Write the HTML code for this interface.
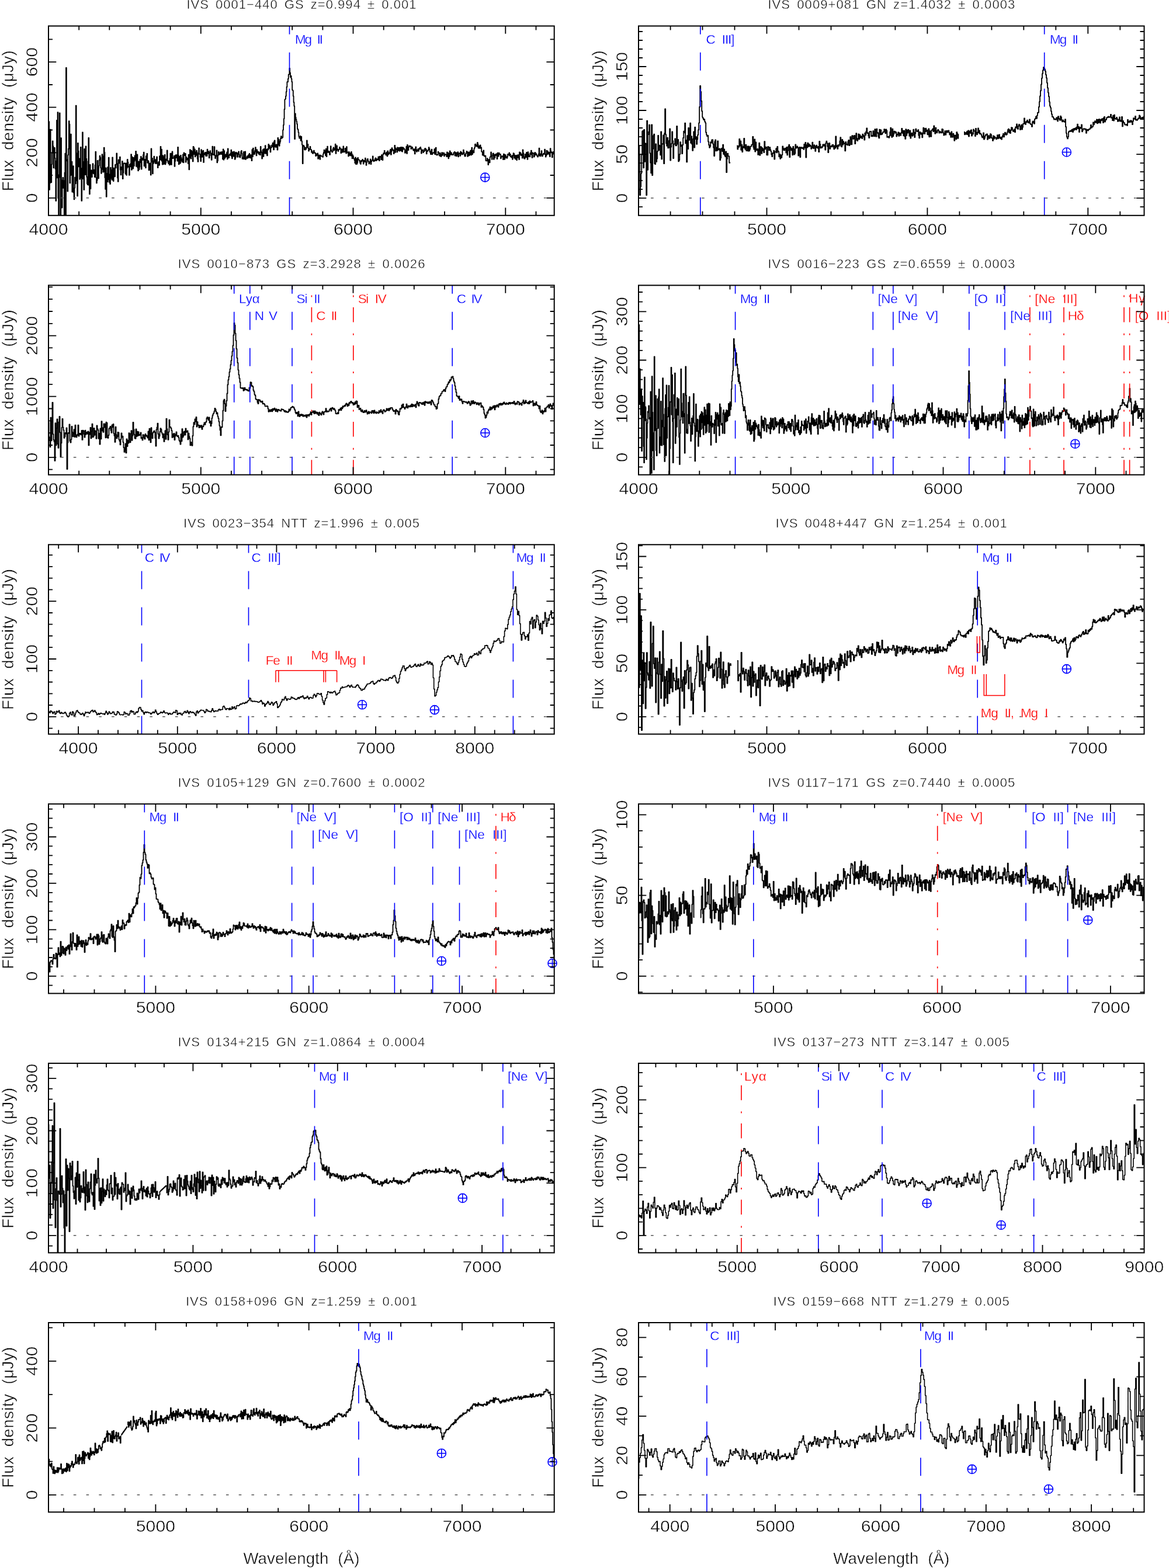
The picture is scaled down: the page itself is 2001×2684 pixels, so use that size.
<!DOCTYPE html>
<html><head><meta charset="utf-8"><title>Spectra</title><style>html,body{margin:0;padding:0;background:#fff;overflow:hidden}svg{display:block}text{stroke:#fff;stroke-width:0.5px}text.lb{stroke-width:0.3px}</style></head><body>
<svg width="2001" height="2684" viewBox="0 0 2001 2684" font-family="'Liberation Sans', 'DejaVu Sans', sans-serif">
<clipPath id="c0"><rect x="83" y="44.5" width="865.7" height="324.3"/></clipPath>
<g clip-path="url(#c0)" fill="none" stroke="#000" stroke-width="1.85" stroke-linejoin="round">
<path d="M82.6 298.4h0.8V208.1h0.8V324.7h0.8V313.5h0.8V221.6h0.8V297.9h0.8V312.3h0.8V281.3h0.8V261.5h0.8V241.4h0.8V250.1h0.8V287.4h0.8V266.3h0.8V252.8h0.8V270.6h0.8V288.9h0.8V343.9h0.8V275.4h0.8V205.9h0.8V304.4h0.8V192.2h0.8V339.2h0.8V381h0.8V299.1h0.8V193.4h0.8V303.4h0.8V422.4h0.8V236.2h0.8V320.3h0.8V355.5h0.8V308.3h0.8V304h0.8V321.7h0.8V309.2h0.8V383.7h0.8V295.3h0.8V262.6h0.8V369.9h0.8V116h0.8V275.2h0.8V273.5h0.8V327.5h0.8V265.2h0.8V254.5h0.8V207.2h0.8V212.6h0.8V313.4h0.8V254.6h0.8V229.6h0.8V299.9h0.8V276.6h0.8V328.5h0.8V292.6h0.8V284.2h0.8V329.8h0.8V341.2h0.8V321.6h0.8V303.6h0.8V314.2h0.8V180.7h0.8V262.1h0.8V309.2h0.8V335.6h0.8V245h0.8V258.4h0.8V285.4h0.8V271.4h0.8V306.7h0.8V289.3h0.8V251.8h0.8V304.2h0.8V343.8h0.8V287.9h0.8V226.4h0.8V306h0.8V277h0.8V324.9h0.8V254.9h0.8V263.9h0.8V299.1h0.8V250.3h0.8V271.6h0.8V302.7h0.8V314.3h0.8V316.2h0.8V276h0.8V236h0.8V317.1h0.8V332.2h0.8V281.9h0.8V323h0.8V297.5h0.8V291.5h0.8V303h0.8V292.6h0.8V280.2h0.8V296.3h0.8V297.4h0.8V290.6h0.8V303.1h0.8V282.3h0.8V259.7h0.8V303.8h0.8V313.4h0.8V308.8h0.8V274.8h0.8V297h0.8V305.3h0.8V283.8h0.8V273.7h0.8V266.7h0.8V269.7h0.8V287.3h0.8V296.8h0.8V289.7h0.8V264.1h0.8V267.2h0.8V294.5h0.8V294h0.8V252.7h0.8V260.6h0.8V304.1h0.8V323.8h0.8V287.5h0.8V336.8h0.8V296.8h0.8V311.3h0.8V286.1h0.8V307.4h0.8V269.7h0.8V311.9h0.8V298.4h0.8V315h0.8V286.8h0.8V290.6h0.8V305h0.8V307.8h0.8V269.5h0.8V293.8h0.8V310h0.8V287.7h0.8V289.6h0.8V302.2h0.8V281.8h0.8V287.4h0.8V281.2h0.8V262.5h0.8V279.9h0.8V304.5h0.8V310.9h0.8V273.5h0.8V274.1h0.8V279.4h0.8V268.6h0.8V290.6h0.8V299.4h0.8V285.8h0.8V290.2h0.8V275.9h0.8V306.1h0.8V295.8h0.8V279.9h0.8V279.2h0.8V279.5h0.8V280h0.8V297.7h0.8V279.5h0.8V299.8h0.8V287.8h0.8V273h0.8V277.5h0.8V285.7h0.8V284.8h0.8V299.8h0.8V281.5h0.8V285.3h0.8V280h0.8V264.1h0.8V290.7h0.8V268.4h0.8V287h0.8V288.6h0.8V270h0.8V284h0.8V275.9h0.8V266.5h0.8V273.8h0.8V258.8h0.8V284.7h0.8V264.9h0.8V264.3h0.8V287h0.8V292.3h0.8V276.3h0.8V290.1h0.8V285.8h0.8V272.8h0.8V278.2h0.8V268h0.8V289.5h0.8V274h0.8V270.7h0.8V273.7h0.8V264.9h0.8V260.7h0.8V284.2h0.8V272.8h0.8V279.7h0.8V287.3h0.8V267.2h0.8V274.1h0.8V262.8h0.8V278.8h0.8V274.8h0.8V276.1h0.8V291.4h0.8V290.9h0.8V279.7h0.8V279.4h0.8V299.6h0.8V254.4h0.8V276.7h0.8V270.8h0.8V297.2h0.8V275.3h0.8V279.5h0.8V267.7h0.8V276.6h0.8V273.5h0.8V279.4h0.8V280h0.8V272.1h0.8V268.5h0.8V279.6h0.8V287h0.8V278.8h0.8V276.9h0.8V282.7h0.8V267.2h0.8V273.1h0.8V250.9h0.8V274h0.8V255.6h0.8V276.1h0.8V281.5h0.8V266.1h0.8V281.1h0.8V280.4h0.8V268.2h0.8V264.8h0.8V281.4h0.8V278.8h0.8V272.4h0.8V274.3h0.8V257.5h0.8V275.2h0.8V277.9h0.8V280h0.8V275.4h0.8V282.4h0.8V271.2h0.8V262.7h0.8V281.4h0.8V281.9h0.8V262.3h0.8V259.5h0.8V271h0.8V270.5h0.8V270.4h0.8V266.8h0.8V284.7h0.8V275.9h0.8V265.3h0.8V270h0.8V265.1h0.8V269.4h0.8V275.6h0.8V251.9h0.8V265.7h0.8V281.3h0.8V277.4h0.8V267.9h0.8V279.6h0.8V265.9h0.8V269.7h0.8V274.7h0.8V277.3h0.8V272.1h0.8V264.3h0.8V278.3h0.8V261.4h0.8V266h0.8V263.6h0.8V262.8h0.8V277.5h0.8V269h0.8V273.5h0.8V270.8h0.8V271h0.8V279.9h0.8V264.7h0.8V290.3h0.8V269.8h0.8V256.1h0.8V260.4h0.8V271.6h0.8V257.7h0.8V259.5h0.8V266.7h0.8V276.4h0.8V251h0.8V252.1h0.8V264h0.8V255.3h0.8V268.3h0.8V260.4h0.8V265.8h0.8V257.7h0.8V260.8h0.8V271.9h0.8V276.7h0.8V263.2h0.8V253.5h0.8V263.5h0.8V263.8h0.8V268.9h0.8V276h0.8V256.2h0.8V268.7h0.8V259.2h0.8V268.6h0.8V257.7h0.8V277.9h0.8V262.9h0.8V264.5h0.8V260.8h0.8V261.3h0.8V267h0.8V260.7h0.8V266.9h0.8V255.6h0.8V263h0.8V259h0.8V260.6h0.8V270.3h0.8V261h0.8V258.1h0.8V261.6h0.8V266.3h0.8V273.7h0.8V262.9h0.8V250.7h0.8V264.7h0.8V263.9h0.8V265.2h0.8V251.2h0.8V265.7h0.8V271h0.8V267.4h0.8V266.1h0.8V257.3h0.8V278.2h0.8V275.2h0.8V265.7h0.8V260h0.8V262h0.8V264.5h0.8V262.5h0.8V260.3h0.8V263.9h0.8V262.4h0.8V259.9h0.8V264.4h0.8V272.4h0.8V255.3h0.8V273.6h0.8V258.2h0.8V271.1h0.8V269.4h0.8V264.7h0.8V268.4h0.8V263.2h0.8V260.4h0.8V272.3h0.8V254.5h0.8V265.9h0.8V270.1h0.8V265.5h0.8V263.9h0.8V265.8h0.8V262.2h0.8V256.7h0.8V267.8h0.8V271.2h0.8V260.1h0.8V265.3h0.8V267.6h0.8V259.4h0.8V261.7h0.8V272.7h0.8V270.4h0.8V260.6h0.8V263.3h0.8V261.6h0.8V268.3h0.8V268.7h0.8V261.8h0.8V259.4h0.8V264h0.8V268.4h0.8V269.6h0.8V266.6h0.8V259.6h0.8V257.9h0.8V262.6h0.8V271.7h0.8V269.7h0.8V272.1h0.8V259.9h0.8V272.1h0.8V268.3h0.8V259.5h0.8V272.9h0.8V271h0.8V270h0.8V267.3h0.8V270.7h0.8V267h0.8V265.2h0.8V269.5h0.8V262.9h0.8V266.2h0.8V270.4h0.8V265.1h0.8V267.1h0.8V275.1h0.8V256.1h0.8V268.1h0.8V253.6h0.8V260.1h0.8V264.1h0.8V263.5h0.8V257.7h0.8V252.1h0.8V259.8h0.8V266.2h0.8V256.3h0.8V258.8h0.8V261.5h0.8V259.6h0.8V263.5h0.8V264.1h0.8V260.7h0.8V265.3h0.8V251h0.8V258.2h0.8V261h0.8V271.6h0.8V262.2h0.8V256.1h0.8V267.9h0.8V255h0.8V262.5h0.8V261h0.8V249.2h0.8V262.8h0.8V256.7h0.8V255.6h0.8V266.3h0.8V255h0.8V256.3h0.8V247h0.8V249.1h0.8V253.9h0.8V249.4h0.8V260.2h0.8V252.9h0.8V252.4h0.8V248.4h0.8V250.5h0.8V244.6h0.8V251.5h0.8V256.3h0.8V242.1h0.8V240.5h0.8V251h0.8V251.9h0.8V247.7h0.8V247.4h0.8V252h0.8V256.5h0.8V236h0.8V247.9h0.8V238.9h0.8V249.8h0.8V245h0.8V241.9h0.8V236.3h0.8V233.1h0.8V236.9h0.8V235.1h0.8V235.2h0.8V222.4h0.8V214h0.8V203.1h0.8V187h0.8V170.3h0.8V169.3h0.8V164.5h0.8V156.9h0.8V148.7h0.8V140.2h0.8V140.2h0.8V134.7h0.8V127.6h0.8V127h0.8V117h0.8V124.3h0.8V132.1h0.8V129.8h0.8V134.7h0.8V139.9h0.8V153.9h0.8V154.8h0.8V164.4h0.8V175h0.8V181.5h0.8V238h0.8V194.3h0.8V200.8h0.8V204.5h0.8V207.8h0.8V212.2h0.8V220.3h0.8V222h0.8V226.4h0.8V233.6h0.8V236.5h0.8V235.1h0.8V232.8h0.8V240.8h0.8V233.8h0.8V241.5h0.8V247.8h0.8V280h0.8V250.1h0.8V248.8h0.8V250.6h0.8V256.1h0.8V256.5h0.8V252.6h0.8V255.4h0.8V252.5h0.8V240.3h0.8V252.1h0.8V247h0.8V253.7h0.8V258.5h0.8V254.9h0.8V255.9h0.8V251h0.8V255.8h0.8V256h0.8V260.6h0.8V258.5h0.8V262.3h0.8V262.8h0.8V260.9h0.8V257.6h0.8V260.7h0.8V262.3h0.8V262h0.8V267h0.8V263.4h0.8V265.8h0.8V263.1h0.8V262.5h0.8V271.7h0.8V270.3h0.8V265.5h0.8V270.2h0.8V272.8h0.8V265.6h0.8V267.1h0.8V267h0.8V267.6h0.8V267.6h0.8V268.7h0.8V263.7h0.8V260.8h0.8V256.7h0.8V261.9h0.8V258h0.8V266h0.8V254.7h0.8V268.1h0.8V258.9h0.8V250.7h0.8V260.9h0.8V258.6h0.8V260.1h0.8V261.3h0.8V264.9h0.8V258.7h0.8V250.1h0.8V256.4h0.8V258.6h0.8V260.6h0.8V259.3h0.8V254.7h0.8V252.4h0.8V257.4h0.8V256.3h0.8V254.2h0.8V246.7h0.8V262.7h0.8V257.9h0.8V249.5h0.8V254.8h0.8V256.4h0.8V258.9h0.8V255.9h0.8V255.9h0.8V252h0.8V254.1h0.8V254.5h0.8V262h0.8V255.1h0.8V260.9h0.8V260.2h0.8V255.1h0.8V250.4h0.8V260.2h0.8V259.8h0.8V259.7h0.8V253.8h0.8V260.2h0.8V262.5h0.8V251.1h0.8V259.3h0.8V261.4h0.8V261.6h0.8V267.4h0.8V260h0.8V265.9h0.8V262.1h0.8V265.2h0.8V266.5h0.8V259.8h0.8V263.2h0.8V271.3h0.8V265.5h0.8V267.4h0.8V271h0.8V271.8h0.8V274.2h0.8V279.1h0.8V269.5h0.8V281h0.8V272h0.8V280.8h0.8V278.2h0.8V269.9h0.8V273h0.8V273.3h0.8V273.9h0.8V276h0.8V279.1h0.8V280.8h0.8V274.8h0.8V276.6h0.8V275.1h0.8V272.8h0.8V274.9h0.8V280.5h0.8V274.7h0.8V277.1h0.8V276.2h0.8V270.7h0.8V277.2h0.8V282.7h0.8V277.9h0.8V273.4h0.8V271.9h0.8V275.1h0.8V277h0.8V280.4h0.8V277.1h0.8V277.5h0.8V272.4h0.8V281h0.8V276.6h0.8V275.1h0.8V274h0.8V267.4h0.8V273.6h0.8V276.3h0.8V275.6h0.8V274.7h0.8V271.9h0.8V270.3h0.8V275.1h0.8V274.5h0.8V272.1h0.8V272.4h0.8V273.2h0.8V268.3h0.8V272.9h0.8V275.1h0.8V267.6h0.8V268.9h0.8V267.8h0.8V273h0.8V265.2h0.8V267.1h0.8V274h0.8V264.4h0.8V262.1h0.8V263.4h0.8V257.8h0.8V262.2h0.8V262.4h0.8V265.3h0.8V261.4h0.8V260.4h0.8V267.4h0.8V258.5h0.8V264.6h0.8V261.4h0.8V263.4h0.8V261.5h0.8V257.8h0.8V255.6h0.8V264.7h0.8V259.3h0.8V253.1h0.8V255.5h0.8V257.1h0.8V256.9h0.8V263h0.8V259h0.8V248.8h0.8V260.9h0.8V253.4h0.8V255.2h0.8V256.1h0.8V260.4h0.8V252.3h0.8V254h0.8V257.6h0.8V252.9h0.8V258.5h0.8V256.8h0.8V252.2h0.8V257.3h0.8V258.4h0.8V251.8h0.8V259.5h0.8V256.8h0.8V252.5h0.8V253.6h0.8V255h0.8V255.3h0.8V261.8h0.8V260.5h0.8V257.2h0.8V251h0.8V262.9h0.8V247.8h0.8V254.4h0.8V257.1h0.8V251.7h0.8V249.6h0.8V250.4h0.8V250.5h0.8V250.2h0.8V254.9h0.8V251.9h0.8V251.6h0.8V253.4h0.8V255.6h0.8V257.6h0.8V257.7h0.8V255.2h0.8V263.4h0.8V257.6h0.8V251.4h0.8V256h0.8V259.8h0.8V257.9h0.8V257h0.8V255h0.8V258.8h0.8V255.6h0.8V253.4h0.8V255.1h0.8V252h0.8V254.6h0.8V262.6h0.8V257.7h0.8V257.1h0.8V256.5h0.8V261.1h0.8V258.6h0.8V259h0.8V255.2h0.8V253.9h0.8V257.2h0.8V255.3h0.8V263.2h0.8V258.5h0.8V258.9h0.8V257.3h0.8V256.2h0.8V252.1h0.8V254.7h0.8V259.4h0.8V260.8h0.8V264h0.8V258h0.8V255.7h0.8V264.3h0.8V262.2h0.8V261.5h0.8V261.7h0.8V260.8h0.8V255.2h0.8V264.1h0.8V254.5h0.8V252.7h0.8V264.9h0.8V265.3h0.8V264.8h0.8V265h0.8V259.6h0.8V261.8h0.8V262h0.8V266.8h0.8V261.9h0.8V265.3h0.8V268.1h0.8V264.5h0.8V261.1h0.8V265.9h0.8V261.7h0.8V263.6h0.8V261.7h0.8V267.2h0.8V264.1h0.8V264h0.8V264.9h0.8V264.9h0.8V268.1h0.8V260.3h0.8V267.8h0.8V261.7h0.8V271.3h0.8V262.2h0.8V267.7h0.8V258.3h0.8V260.6h0.8V264.8h0.8V261.5h0.8V263.8h0.8V265.1h0.8V264.9h0.8V264.9h0.8V261.8h0.8V260.8h0.8V259.8h0.8V266.6h0.8V261.4h0.8V261.1h0.8V267.2h0.8V265h0.8V261.6h0.8V260.1h0.8V268.3h0.8V262.9h0.8V262.3h0.8V262.2h0.8V266.9h0.8V259.5h0.8V263.2h0.8V261h0.8V264.5h0.8V263.8h0.8V262.8h0.8V256.6h0.8V260.6h0.8V264.9h0.8V267.5h0.8V267.3h0.8V263.1h0.8V261.6h0.8V258.9h0.8V261h0.8V267.8h0.8V260.4h0.8V263.1h0.8V266.3h0.8V260.4h0.8V265.2h0.8V257.9h0.8V257.5h0.8V265.3h0.8V252.7h0.8V264.1h0.8V258.8h0.8V257.8h0.8V261.3h0.8V254.6h0.8V252.7h0.8V246.9h0.8V246.7h0.8V250h0.8V249.2h0.8V250.8h0.8V244h0.8V247h0.8V253.5h0.8V250.1h0.8V250h0.8V253.9h0.8V248.5h0.8V253.3h0.8V252.3h0.8V259.4h0.8V260.1h0.8V265.6h0.8V259.8h0.8V257.3h0.8V266.8h0.8V266.4h0.8V267.9h0.8V266.7h0.8V274.7h0.8V275.4h0.8V275.2h0.8V271.1h0.8V273h0.8V282h0.8V275.9h0.8V273.1h0.8V278.2h0.8V269.2h0.8V267.6h0.8V260.4h0.8V266.9h0.8V272.8h0.8V266.3h0.8V262.8h0.8V262.5h0.8V272.8h0.8V264.6h0.8V269.9h0.8V266.2h0.8V264.1h0.8V263.5h0.8V265.9h0.8V272h0.8V261.7h0.8V266.5h0.8V267.5h0.8V261.6h0.8V264.4h0.8V264.1h0.8V263.8h0.8V271.3h0.8V269.1h0.8V267.1h0.8V268h0.8V267.2h0.8V273.1h0.8V263.6h0.8V263.9h0.8V272.8h0.8V270.5h0.8V265.1h0.8V267.6h0.8V268.9h0.8V270.7h0.8V268.5h0.8V264h0.8V265.3h0.8V263.3h0.8V261.4h0.8V266.6h0.8V264h0.8V268h0.8V268.7h0.8V269.6h0.8V266.1h0.8V272.8h0.8V266.5h0.8V262.2h0.8V263h0.8V270.4h0.8V266h0.8V272.4h0.8V266.3h0.8V266.1h0.8V274h0.8V265.6h0.8V269.8h0.8V265.2h0.8V266.7h0.8V273.1h0.8V260.3h0.8V264h0.8V261.4h0.8V266.1h0.8V264h0.8V265.9h0.8V270.6h0.8V256.4h0.8V261.9h0.8V268.6h0.8V271.4h0.8V271.8h0.8V263.9h0.8V269.3h0.8V267.9h0.8V261h0.8V269.2h0.8V272.8h0.8V260.2h0.8V263.4h0.8V268.1h0.8V266.7h0.8V268.3h0.8V261.8h0.8V264.4h0.8V257.6h0.8V263.1h0.8V269.9h0.8V261.5h0.8V262.3h0.8V262.3h0.8V268.5h0.8V266.9h0.8V261h0.8V264.7h0.8V262.4h0.8V264.1h0.8V265.5h0.8V267.2h0.8V268.6h0.8V266.8h0.8V263.3h0.8V253.7h0.8V265.9h0.8V267.4h0.8V263.5h0.8V264.7h0.8V258.2h0.8V267.3h0.8V267.2h0.8V264.7h0.8V262.9h0.8V262.7h0.8V263.7h0.8V255.6h0.8V264h0.8V268.5h0.8V266.3h0.8V257.7h0.8V264.4h0.8V258.7h0.8V262.2h0.8V263.4h0.8V260.6h0.8V264.9h0.8V268.1h0.8V254.2h0.8V258.4h0.8V261.1h0.8V260.7h0.8V269.4h0.8V263.7h0.8V259.9h0.8V259.9h0.8V263.6h0.8V262.4h0.8"/>
</g>
<line x1="82.3" y1="338.8" x2="934.7" y2="338.8" stroke="#555" stroke-width="1.5" stroke-dasharray="4.6 17.16"/>
<line x1="495.5" y1="368.8" x2="495.5" y2="44.5" stroke="#0000ff" stroke-width="1.6" stroke-dasharray="31 31"/>
<text class="lb" x="505" y="74.8" fill="#0000ff" font-size="22.5" word-spacing="7" textLength="48" lengthAdjust="spacing">Mg II</text>
<g stroke="#0000ff" stroke-width="1.6" fill="none"><circle cx="830.3" cy="303.6" r="7.5"/><line x1="822.8" y1="303.6" x2="837.8" y2="303.6"/><line x1="830.3" y1="296.1" x2="830.3" y2="311.1"/></g>
<path d="M135.2 368.8v-7M135.2 44.5v7M187.3 368.8v-7M187.3 44.5v7M239.5 368.8v-7M239.5 44.5v7M291.6 368.8v-7M291.6 44.5v7M343.8 368.8v-13.3M343.8 44.5v13.3M395.9 368.8v-7M395.9 44.5v7M448.1 368.8v-7M448.1 44.5v7M500.2 368.8v-7M500.2 44.5v7M552.4 368.8v-7M552.4 44.5v7M604.5 368.8v-13.3M604.5 44.5v13.3M656.7 368.8v-7M656.7 44.5v7M708.8 368.8v-7M708.8 44.5v7M761 368.8v-7M761 44.5v7M813.1 368.8v-7M813.1 44.5v7M865.3 368.8v-13.3M865.3 44.5v13.3M917.5 368.8v-7M917.5 44.5v7M83 338.8h13.3M948.7 338.8h-13.3M83 300h7M948.7 300h-7M83 261.3h13.3M948.7 261.3h-13.3M83 222.5h7M948.7 222.5h-7M83 183.7h13.3M948.7 183.7h-13.3M83 145h7M948.7 145h-7M83 106.2h13.3M948.7 106.2h-13.3M83 67.4h7M948.7 67.4h-7" stroke="#000" stroke-width="1.8" fill="none"/>
<rect x="83" y="44.5" width="865.7" height="324.3" stroke="#000" stroke-width="2" fill="none"/>
<text x="83" y="402.1" font-size="27.6" text-anchor="middle" textLength="67.1" lengthAdjust="spacingAndGlyphs">4000</text>
<text x="343.8" y="402.1" font-size="27.6" text-anchor="middle" textLength="67.1" lengthAdjust="spacingAndGlyphs">5000</text>
<text x="604.5" y="402.1" font-size="27.6" text-anchor="middle" textLength="67.1" lengthAdjust="spacingAndGlyphs">6000</text>
<text x="865.3" y="402.1" font-size="27.6" text-anchor="middle" textLength="67.1" lengthAdjust="spacingAndGlyphs">7000</text>
<text transform="translate(64 338.8) rotate(-90)" font-size="27.6" text-anchor="middle" textLength="16.4" lengthAdjust="spacingAndGlyphs">0</text>
<text transform="translate(64 261.3) rotate(-90)" font-size="27.6" text-anchor="middle" textLength="50.2" lengthAdjust="spacingAndGlyphs">200</text>
<text transform="translate(64 183.7) rotate(-90)" font-size="27.6" text-anchor="middle" textLength="50.2" lengthAdjust="spacingAndGlyphs">400</text>
<text transform="translate(64 106.2) rotate(-90)" font-size="27.6" text-anchor="middle" textLength="50.2" lengthAdjust="spacingAndGlyphs">600</text>
<text transform="translate(23 206.7) rotate(-90)" font-size="27.6" text-anchor="middle" word-spacing="8" textLength="241" lengthAdjust="spacing">Flux density (μJy)</text>
<text x="515.9" y="15.3" font-size="22" word-spacing="4" text-anchor="middle" textLength="393" lengthAdjust="spacing">IVS 0001−440 GS z=0.994 ± 0.001</text>
<clipPath id="c1"><rect x="1093" y="44.5" width="865.5" height="324.3"/></clipPath>
<g clip-path="url(#c1)" fill="none" stroke="#000" stroke-width="1.85" stroke-linejoin="round">
<path d="M1092.2 265.5h1V249.7h1V264.9h1V334h1V319.4h1V296.8h1V264.9h1V224.8h1V223.7h1V287.3h1V221.9h1V276.8h1V245.4h1V246.3h1V334h1V206.6h1V290.8h1V230.2h1V225.6h1V213.6h1V262.2h1V278.5h1V296.3h1V213.5h1V300.1h1V254.7h1V232.1h1V229.6h1V280h1V281h1V246.5h1V276.9h1V271.5h1V258.9h1V232h1V257.2h1V248.6h1V250.5h1V265.4h1V225.3h1V272.4h1V246.2h1V246.5h1V231.5h1V280h1V228.1h1V186.5h1V230.2h1V245.6h1V249.8h1V235.6h1V253.2h1V253.1h1V240.7h1V220.4h1V274.5h1V251.6h1V245.6h1V225.4h1V241.1h1V271.1h1V246.7h1V246.3h1V237.5h1V249.2h1V249.3h1V215.9h1V246.5h1V239h1V276.2h1V274h1V263.9h1V243.2h1V250.4h1V248.4h1V263h1V248h1V236h1V224.6h1V227.2h1V210.7h1V245.4h1V240.1h1V277.4h1V232.2h1V255.1h1V219h1V239.7h1V231.3h1V210.7h1V244.9h1V233.3h1V246.7h1V257.8h1V237.7h1V225.3h1V252.5h1V217.7h1V238h1V234.2h1V246.7h1V238.5h1V231h1V222.2h1V210.4h1V183h1V147h1V157h1V172.8h1V190.2h1V200.6h1V202.5h1V205.1h1V204.1h1V208.1h1V210.3h1V226.7h1V230.8h1V233.4h1V231.9h1V242.5h1V248.2h1V252.7h1V250.4h1V243.2h1V244.5h1V239.5h1V239.1h1V246.3h1V252.8h1V267.1h1V242.5h1V239.5h1V258.2h1V252.4h1V257.8h1V241.5h1V255.4h1V256.6h1V254.4h1V274.1h1V270.3h1V254.8h1V253.7h1V259h1V247.6h1V263.9h1V255.4h1V265.9h1V268h1V259.5h1V295h1V271.7h1V262.6h1V267.4h1V267.3h1V278.7h1V278.4h1"/>
<path d="M1261.3 249.4h1V255.4h1V249.8h1V251.7h1V237.8h1V249.5h1V241.5h1V256.7h1V247.7h1V260.1h1V251.2h1V252.9h1V237h1V252.7h1V255.6h1V247.6h1V258.1h1V257.9h1V250.5h1V258.6h1V250.3h1V258.2h1V255.2h1V250.9h1V250.5h1V247.7h1V247.5h1V233.8h1V251.8h1V255.5h1V238.5h1V259.6h1V243.5h1V255.9h1V257.3h1V254.8h1V264.9h1V257.2h1V244.6h1V265.7h1V251.2h1V251.2h1V262.7h1V253.2h1V257.8h1V255.2h1V261.1h1V242.1h1V255.3h1V251.7h1V251.9h1V265.2h1V265.4h1V251h1V252.2h1V257.2h1V252.1h1V256.2h1V259h1V264.5h1V268h1V262h1V262.2h1V257.6h1V272.5h1V260.2h1V259.9h1V254.2h1V261.4h1V250.8h1V258.4h1V259.7h1V268.2h1V263.9h1V271.7h1V265.4h1V269.7h1V265.1h1V250.4h1V254h1V257h1V257.3h1V253.7h1V253.8h1V261.6h1V252h1V265.4h1V257.8h1V250.7h1V247.6h1V269h1V251.4h1V253.5h1V257.2h1V254.3h1V265.3h1V250.9h1V254.9h1V264.5h1V262.6h1V247.5h1V253.5h1V252.4h1V250.4h1V253h1V266.5h1V253h1V251.9h1V269.1h1V252.3h1V252.2h1V254.1h1V253.9h1V252.3h1V255.7h1V246.8h1V252.7h1V244h1V269.5h1V248.1h1V252.5h1V244.6h1V250.9h1V246.7h1V250.5h1V248.3h1V249.7h1V254.8h1V253.4h1V243.7h1V251.9h1V254.1h1V248.2h1V249.8h1V258.8h1V252.3h1V248.7h1V252.7h1V253.5h1V251h1V260h1V241.9h1V247h1V253.4h1V251.5h1V252.9h1V251.2h1V247.4h1V249.5h1V247.1h1V250.1h1V256.5h1V244.9h1V241.6h1V244.9h1V250.7h1V261.1h1V245.4h1V245h1V254.8h1V251.1h1V249.8h1V251.3h1V247.9h1V247.6h1V251.6h1V255.3h1V249.4h1V253.5h1V233.4h1V251.4h1V249.5h1V254.8h1V248.1h1V250.2h1V248h1V241.4h1V235.2h1V250h1V251.3h1V238.9h1V247.8h1V242.2h1V245h1V245.9h1V258.2h1V243h1V246.3h1V247.5h1V248.4h1V242.5h1V240h1V249.1h1V247.8h1V234.1h1V238.6h1V247.3h1V232.2h1V232.3h1V237.9h1V237.4h1V232h1V246h1V239.9h1V228.1h1V237h1V241h1V237.8h1V229.3h1V238.3h1V230.6h1V235.7h1V233.1h1V235.4h1V237h1V229.6h1V232h1V234.2h1V239.5h1V227.7h1V231.2h1V225h1V219.4h1V228.1h1V227.4h1V232.5h1V236h1V225.1h1V225.3h1V225h1V233.2h1V231.8h1V233.4h1V224.2h1V230.2h1V233.2h1V221.1h1V230.8h1V233.7h1V220.6h1V227.7h1V227.1h1V233.9h1V236.4h1V221.6h1V230.3h1V222.5h1V230.2h1V229.8h1V227.8h1V225.8h1V226h1V221.1h1V222.3h1V228.2h1V221.4h1V223.4h1V234.9h1V233.9h1V233.9h1V235.8h1V232.6h1V225.8h1V218.7h1V232.1h1V234.9h1V220.7h1V233.2h1V229.5h1V224.6h1V224.8h1V227.6h1V226.2h1V233.6h1V230.9h1V229.3h1V226.3h1V232.9h1V227.7h1V229.7h1V231.7h1V227.3h1V219.8h1V227.8h1V223.6h1V232.2h1V223.6h1V233.5h1V237.7h1V221.2h1V231.7h1V223h1V227.6h1V221.9h1V224.6h1V232.7h1V223.3h1V236.6h1V230.3h1V227.7h1V232.8h1V231.4h1V221.6h1V226.4h1V235h1V228.4h1V220.7h1V224.5h1V224.4h1V225h1V222.2h1V231.8h1V236.3h1V225.9h1V227.8h1V229.7h1V227.3h1V235.2h1V229.1h1V218.6h1V219.9h1V229h1V225.2h1V219.6h1V224.8h1V222.7h1V230.1h1V230.6h1V220.4h1V234.3h1V224.1h1V232.9h1V233.7h1V223.1h1V222.3h1V220.5h1V225h1V215.5h1V223.8h1V228.8h1V218.6h1V224.3h1V227.3h1V223.8h1V221.8h1V223.8h1V227.6h1V225.1h1V225.3h1V227.4h1V227.4h1V220.9h1V221.4h1V227.3h1V231.6h1V228.8h1V224.1h1V230.7h1V226.5h1V223.7h1V226.5h1V225.5h1V223.5h1V226.7h1V230.5h1V227.9h1V234.7h1V225.3h1V234.4h1V234.8h1V228.6h1V231.5h1V240.7h1V231.6h1V231.7h1V238.3h1V226.1h1V228.8h1V236.7h1V230.3h1"/>
<path d="M1650 225.8h1V230.2h1V228.3h1V226.8h1V229.9h1V224.8h1V230.4h1V223.5h1V233.6h1V227.1h1V224.1h1V228h1V222.3h1V232.6h1V227.3h1V229.6h1V221.4h1V224.4h1V224.2h1V233.1h1V220h1V227.1h1V230.2h1V226.4h1V219.5h1V227.6h1V223.3h1V229.3h1V228.4h1V229.8h1V232.8h1V235.4h1V235.5h1V227.3h1V238.5h1V236.6h1V232.8h1V230.5h1V231.1h1V229.3h1V238.8h1V234.4h1V232.1h1V236.9h1V235.8h1V229.2h1V230.4h1V236.3h1V236.1h1V240.9h1V232.5h1V237.8h1V233.7h1V235.9h1V236h1V238.2h1V235.5h1V231.1h1V237.3h1V236.1h1V230.3h1V235.8h1V237h1V234.7h1V238.5h1V234.7h1V232.1h1V229h1V234.4h1V230.6h1V226.7h1V228.5h1V230.9h1V229.8h1V226.1h1V222.2h1V220.7h1V227h1V222.4h1V228h1V223.2h1V218.1h1V218.6h1V222.6h1V225h1V224.2h1V221.2h1V226.3h1V217.5h1V218.2h1V212.5h1V219.9h1V220.9h1V215.7h1V213h1V215.5h1V222h1V217.1h1V213.6h1V221.5h1V217.7h1V211.9h1V211.7h1V202.5h1V211.5h1V212.9h1V208.2h1V209.2h1V205.7h1V207.8h1V210.3h1V209.3h1V204.4h1V211.6h1V212.7h1V213.3h1V216.9h1V208.8h1V207.3h1V210.4h1V211.7h1V203.8h1V203h1V199.5h1V202.7h1V197.6h1V192.7h1V192.8h1V183h1V174.1h1V164.4h1V155.2h1V144.5h1V133.8h1V126.1h1V120.2h1V115.2h1V116.6h1V118.7h1V121.8h1V127.9h1V133.5h1V141.8h1V150.4h1V158.6h1V165.2h1V174.3h1V181.6h1V184.3h1V190.4h1V195.5h1V200.1h1V199.8h1V201.9h1V204.6h1V203.7h1V203.8h1V204.8h1V201.4h1V201.3h1V207.4h1V199.2h1V202.9h1V203.7h1V205.8h1V198.6h1V200.6h1V205.8h1V208.2h1V205.5h1V207.5h1V208.1h1V208.9h1V204.2h1V216.9h1V227.9h1V234.6h1V237.4h1V234.1h1V225.7h1V224.5h1V224.9h1V223.6h1V225h1V222.5h1V221.7h1V226.1h1V220.3h1V222.7h1V220h1V221.5h1V219h1V222h1V217.4h1V212.7h1V220.1h1V216.9h1V226.1h1V219.9h1V218h1V219.5h1V213.5h1V225.3h1V222.9h1V220.6h1V220.1h1V220.5h1V221.7h1V220.7h1V227.8h1V222.3h1V221.8h1V223.5h1V221.4h1V221.6h1V220.9h1V219h1V213.8h1V218.8h1V216.9h1V216.7h1V209.4h1V213.4h1V209.6h1V207.2h1V209.9h1V209.4h1V204.4h1V211.3h1V204.9h1V210h1V203.9h1V207.7h1V210.5h1V204.5h1V206.4h1V203.4h1V203.2h1V210h1V201.7h1V199.8h1V208.5h1V204.8h1V205.1h1V201.5h1V201.4h1V200.2h1V199.5h1V200.9h1V200.1h1V200.2h1V196h1V201.9h1V201.2h1V206h1V198h1V206.5h1V196.6h1V203.4h1V203h1V204.1h1V201h1V203.7h1V207.8h1V207.2h1V204.3h1V200.5h1V207.6h1V205.9h1V207.7h1V200h1V216.4h1V206.8h1V210h1V210.2h1V213.2h1V213.7h1V213.4h1V213h1V214.9h1V205h1V208.4h1V209.6h1V207.6h1V206.5h1V209.1h1V206.3h1V207.7h1V213h1V207.4h1V202.2h1V203.8h1V203.8h1V199h1V205.5h1V204.6h1V205.7h1V204.3h1V202.5h1V202.8h1V197.4h1V199.1h1V203h1V202h1V202.1h1V200.8h1V203.9h1V200.7h1V199.2h1V199.6h1"/>
</g>
<line x1="1092.3" y1="339.1" x2="1944.5" y2="339.1" stroke="#555" stroke-width="1.5" stroke-dasharray="4.6 17.16"/>
<line x1="1198.8" y1="368.8" x2="1198.8" y2="44.5" stroke="#0000ff" stroke-width="1.6" stroke-dasharray="31 31"/>
<line x1="1787.7" y1="368.8" x2="1787.7" y2="44.5" stroke="#0000ff" stroke-width="1.6" stroke-dasharray="31 31"/>
<text class="lb" x="1208.5" y="74.6" fill="#0000ff" font-size="22.5" word-spacing="7" textLength="49" lengthAdjust="spacing">C III]</text>
<text class="lb" x="1797" y="74.8" fill="#0000ff" font-size="22.5" word-spacing="7" textLength="49" lengthAdjust="spacing">Mg II</text>
<g stroke="#0000ff" stroke-width="1.6" fill="none"><circle cx="1825.8" cy="260.5" r="7.5"/><line x1="1818.3" y1="260.5" x2="1833.3" y2="260.5"/><line x1="1825.8" y1="253" x2="1825.8" y2="268"/></g>
<path d="M1147.6 368.8v-7M1147.6 44.5v7M1202.5 368.8v-7M1202.5 44.5v7M1257.5 368.8v-7M1257.5 44.5v7M1312.5 368.8v-13.3M1312.5 44.5v13.3M1367.5 368.8v-7M1367.5 44.5v7M1422.5 368.8v-7M1422.5 44.5v7M1477.4 368.8v-7M1477.4 44.5v7M1532.4 368.8v-7M1532.4 44.5v7M1587.4 368.8v-13.3M1587.4 44.5v13.3M1642.4 368.8v-7M1642.4 44.5v7M1697.4 368.8v-7M1697.4 44.5v7M1752.3 368.8v-7M1752.3 44.5v7M1807.3 368.8v-7M1807.3 44.5v7M1862.3 368.8v-13.3M1862.3 44.5v13.3M1917.3 368.8v-7M1917.3 44.5v7M1093 354.1h7M1958.5 354.1h-7M1093 339.1h13.3M1958.5 339.1h-13.3M1093 324.1h7M1958.5 324.1h-7M1093 309.1h7M1958.5 309.1h-7M1093 294.1h7M1958.5 294.1h-7M1093 279.1h7M1958.5 279.1h-7M1093 264.1h13.3M1958.5 264.1h-13.3M1093 249.1h7M1958.5 249.1h-7M1093 234.1h7M1958.5 234.1h-7M1093 219h7M1958.5 219h-7M1093 204h7M1958.5 204h-7M1093 189h13.3M1958.5 189h-13.3M1093 174h7M1958.5 174h-7M1093 159h7M1958.5 159h-7M1093 144h7M1958.5 144h-7M1093 129h7M1958.5 129h-7M1093 114h13.3M1958.5 114h-13.3M1093 99h7M1958.5 99h-7M1093 84h7M1958.5 84h-7M1093 69h7M1958.5 69h-7M1093 54h7M1958.5 54h-7" stroke="#000" stroke-width="1.8" fill="none"/>
<rect x="1093" y="44.5" width="865.5" height="324.3" stroke="#000" stroke-width="2" fill="none"/>
<text x="1312.5" y="402.1" font-size="27.6" text-anchor="middle" textLength="67.1" lengthAdjust="spacingAndGlyphs">5000</text>
<text x="1587.4" y="402.1" font-size="27.6" text-anchor="middle" textLength="67.1" lengthAdjust="spacingAndGlyphs">6000</text>
<text x="1862.3" y="402.1" font-size="27.6" text-anchor="middle" textLength="67.1" lengthAdjust="spacingAndGlyphs">7000</text>
<text transform="translate(1074 339.1) rotate(-90)" font-size="27.6" text-anchor="middle" textLength="16.4" lengthAdjust="spacingAndGlyphs">0</text>
<text transform="translate(1074 264.1) rotate(-90)" font-size="27.6" text-anchor="middle" textLength="33.3" lengthAdjust="spacingAndGlyphs">50</text>
<text transform="translate(1074 189) rotate(-90)" font-size="27.6" text-anchor="middle" textLength="50.2" lengthAdjust="spacingAndGlyphs">100</text>
<text transform="translate(1074 114) rotate(-90)" font-size="27.6" text-anchor="middle" textLength="50.2" lengthAdjust="spacingAndGlyphs">150</text>
<text transform="translate(1033 206.7) rotate(-90)" font-size="27.6" text-anchor="middle" word-spacing="8" textLength="241" lengthAdjust="spacing">Flux density (μJy)</text>
<text x="1525.8" y="15.3" font-size="22" word-spacing="4" text-anchor="middle" textLength="423" lengthAdjust="spacing">IVS 0009+081 GN z=1.4032 ± 0.0003</text>
<clipPath id="c2"><rect x="83" y="488.4" width="865.7" height="324.3"/></clipPath>
<g clip-path="url(#c2)" fill="none" stroke="#000" stroke-width="1.85" stroke-linejoin="round">
<path d="M82.5 723h1V748h1V754.1h1V765.1h1V714.7h1V754.4h1V722.2h1V689h1V743.2h1V752.8h1V755.9h1V788.7h1V724.1h1V762.2h1V732.9h1V717.5h1V760h1V766.7h1V722.5h1V713h1V740.2h1V782.2h1V758.3h1V731.8h1V717h1V731.3h1V736.3h1V749.7h1V747.3h1V740.9h1V742.6h1V732.3h1V803h1V757.5h1V741h1V741.6h1V726.5h1V754.9h1V757.6h1V752.1h1V729.9h1V739.6h1V747.2h1V742.3h1V735.2h1V748h1V727.7h1V744.3h1V748.4h1V745.4h1V743.4h1V727.6h1V746.6h1V741.8h1V743.5h1V741.8h1V744.3h1V736.8h1V752.9h1V736.6h1V737.5h1V743.1h1V748.6h1V736.7h1V743.8h1V741.2h1V739.6h1V742.7h1V738.3h1V762.3h1V740.1h1V743.5h1V731.8h1V750.4h1V738.1h1V725.7h1V748.3h1V747.5h1V732.9h1V744.7h1V737.3h1V738.1h1V750.7h1V728.5h1V734h1V736.2h1V750.7h1V741.9h1V760.6h1V733.5h1V751.4h1V721.1h1V737.3h1V732.4h1V739.7h1V725.3h1V731.5h1V725.7h1V749.2h1V722.7h1V723.8h1V749.1h1V749.9h1V745h1V733.5h1V732.5h1V730h1V736.7h1V740.7h1V727.3h1V731.3h1V725.9h1V741.8h1V745.7h1V756.8h1V730.7h1V744.1h1V750.4h1V747.4h1V739.9h1V740.5h1V752.4h1V755.1h1V761.3h1V751.8h1V741.4h1V748.6h1V746.7h1V756.9h1V766h1V773.8h1V770h1V759.4h1V775.3h1V751.4h1V764.1h1V754.2h1V758.5h1V741.1h1V750.9h1V757.3h1V742.2h1V737.2h1V753.8h1V745.7h1V723h1V734.9h1V743.7h1V750.3h1V750.7h1V734.4h1V747h1V738.7h1V746h1V739.2h1V745h1V745h1V743.3h1V740.5h1V750.2h1V749.1h1V753.4h1V744.1h1V744.7h1V749.7h1V751.6h1V743h1V746.3h1V745.5h1V747.5h1V749.5h1V738.4h1V753.3h1V733.7h1V742.6h1V757.3h1V732.2h1V743.3h1V750.3h1V740.7h1V739.1h1V737.4h1V739.9h1V750.1h1V763.6h1V735.3h1V731.5h1V724.6h1V742.7h1V750.6h1V746.5h1V738.9h1V733.1h1V734.8h1V740.3h1V742.9h1V749.3h1V742.7h1V755.9h1V747.7h1V737.2h1V751.7h1V716.6h1V734.2h1V744h1V752.8h1V739.3h1V718.6h1V730.6h1V731.2h1V733.2h1V737h1V748.9h1V743.1h1V747.9h1V742h1V753h1V746.5h1V743h1V739.5h1V746h1V747h1V745.6h1V749.2h1V753.8h1V755.9h1V760.5h1V743.1h1V755.3h1V734.1h1V748.6h1V746.1h1V739.2h1V738.4h1V744.5h1V733.5h1V739.7h1V739.1h1V737.4h1V752.4h1V741.7h1V747.2h1V750.5h1V762.2h1V756.9h1V760.8h1V762.7h1V746h1V730.2h1V723.2h1V726.4h1V717.3h1V721.8h1V713.9h1V730.5h1V722.1h1V727.1h1V728.4h1V732.1h1V728.2h1V729h1V731.5h1V728.1h1V734.9h1V730.5h1V730h1V726.7h1V723.4h1V726.9h1V723.3h1V722h1V715.8h1V714h1V716.8h1V719.1h1V714.3h1V723.7h1V720.8h1V729.3h1V725.1h1V715.7h1V711.5h1V708.6h1V707.1h1V703.8h1V698.9h1V700.6h1V704.5h1V708.4h1V706.6h1V712.6h1V716h1V721.8h1V728.8h1V736.3h1V745.2h1V730.8h1V731.4h1V720.4h1V702.7h1V686h1V683.6h1V691h1V704.1h1V695h1V686h1V673.5h1V658.4h1V650.2h1V644.7h1V636.8h1V631.6h1V624.2h1V617.1h1V609.3h1V601.6h1V591.5h1V573.5h1V553h1V556.6h1V570.6h1V582.9h1V597.2h1V612.8h1V620.9h1V633.3h1V641.4h1V647.6h1V654.4h1V663.9h1V664.6h1V664.1h1V664.7h1V663.9h1V668.7h1V667.7h1V663.6h1V666.8h1V666.6h1V667.5h1V666.7h1V668.4h1V669h1V669.4h1V663.5h1V664.5h1V654.1h1V654.6h1V660.8h1V660.3h1V661.9h1V667.9h1V670.3h1V675.1h1V677h1V683h1V684.1h1V683.8h1V688.6h1V691h1V684h1V685.2h1V684.8h1V687.8h1V687.5h1V688.4h1V686.6h1V691.3h1V690.7h1V691h1V692.3h1V695.3h1V695.5h1V695.3h1V695h1V695.5h1V699.4h1V704.7h1V702.9h1V701.5h1V704.4h1V702.8h1V700.8h1V704.2h1V699.6h1V702.1h1V700.4h1V698.7h1V701.6h1V704h1V700.2h1V700.9h1V704.7h1V701.7h1V700.9h1V702.4h1V702.5h1V703.4h1V703.5h1V700.2h1V700.6h1V701.1h1V701.1h1V702.6h1V704.6h1V703h1V705.3h1V703.9h1V705.5h1V705.5h1V705.9h1V704h1V700.3h1V703.3h1V701.1h1V697.8h1V697.5h1V696.7h1V695.7h1V697.4h1V697.2h1V699.9h1V702h1V706.1h1V708h1V705.8h1V707.2h1V712.4h1V704.3h1V709.3h1V713h1V709.7h1V711.1h1V709.2h1V711.3h1V709.7h1V712.8h1V710.7h1V710.8h1V712.5h1V710.6h1V710.1h1V714.5h1V710.2h1V711.5h1V710h1V712h1V709h1V708.7h1V705.1h1V710h1V705.9h1V705.6h1V703.3h1V706.3h1V708h1V703.5h1V707.6h1V705.4h1V705.4h1V708.5h1V706.2h1V709.8h1V711h1V705.7h1V708h1V708.6h1V710.3h1V706.5h1V704.3h1V707.2h1V709.5h1V705.1h1V705.1h1V703.9h1V699.1h1V705h1V703.5h1V704.8h1V704.5h1V704.1h1V701.6h1V700.4h1V699h1V703.6h1V699.2h1V697.6h1V699.3h1V700.8h1V699.1h1V701h1V703.1h1V707.7h1V708.2h1V708.2h1V706.4h1V708h1V701.2h1V702.3h1V701h1V698.6h1V702.3h1V697.7h1V699.2h1V695.2h1V696.5h1V695.6h1V694h1V695h1V691.9h1V690.4h1V692.6h1V695.2h1V691.7h1V694h1V689.2h1V690.5h1V688.1h1V686.8h1V688.7h1V690h1V689.1h1V693.1h1V690.5h1V692.3h1V688.2h1V691h1V686.3h1V686.8h1V697.2h1V693.8h1V693.8h1V700.9h1V700h1V699h1V703.6h1V704.6h1V701.6h1V704.5h1V706h1V705.7h1V702.9h1V705.5h1V704.4h1V702.2h1V705.3h1V708.6h1V707.3h1V704.4h1V707.8h1V705.5h1V705.5h1V705.3h1V707.3h1V702.9h1V705.6h1V703.1h1V707.4h1V702.3h1V705.1h1V706.3h1V707.6h1V705.2h1V706.3h1V706.7h1V707.3h1V703.1h1V705.7h1V704.8h1V701.4h1V705.4h1V704.6h1V707.9h1V702.4h1V701.5h1V702.5h1V704.9h1V703.7h1V703.4h1V699.4h1V702h1V702.2h1V699.5h1V702.9h1V699h1V700.5h1V697.9h1V697.9h1V697.8h1V700.5h1V702.5h1V704h1V703.6h1V702.8h1V708.5h1V700.8h1V702.6h1V704.3h1V703.3h1V708.5h1V710.1h1V704.6h1V699.3h1V700.3h1V698.5h1V693.4h1V697.6h1V691.7h1V696.8h1V697.6h1V700h1V697.3h1V696.3h1V691.7h1V698.1h1V698.2h1V694.7h1V694.7h1V696.3h1V696.3h1V693.7h1V696h1V691.6h1V696.1h1V692.6h1V693.2h1V695.2h1V694h1V692.4h1V697.4h1V691.3h1V687.4h1V689.6h1V693.4h1V694.8h1V689h1V689h1V689.6h1V690.5h1V691.7h1V689.4h1V692.1h1V689.2h1V688.4h1V693.7h1V687.1h1V689.3h1V688.1h1V688.5h1V690.3h1V688.2h1V690.2h1V690h1V687.3h1V689.1h1V692.7h1V685h1V685.4h1V687.6h1V689.9h1V692.8h1V693h1V695.7h1V696h1V700h1V699.2h1V691.6h1V690.4h1V683h1V679.1h1V677.4h1V677.2h1V673.9h1V673.6h1V670.3h1V670.1h1V668.9h1V666.8h1V667.3h1V670h1V665.2h1V662.3h1V661.9h1V658.4h1V657.2h1V653.9h1V654.7h1V650.5h1V651.7h1V649.4h1V645.5h1V645.7h1V644.3h1V648.1h1V652.4h1V654.7h1V660.6h1V666.5h1V671.4h1V677.5h1V678.5h1V678.7h1V681.7h1V678.1h1V685.1h1V683.2h1V684.9h1V683.5h1V687.6h1V690.7h1V686.8h1V687.1h1V687.5h1V688.1h1V688.6h1V688h1V688.6h1V690.8h1V689.6h1V687.2h1V687.7h1V690.5h1V693.8h1V692.6h1V686.4h1V687.1h1V690.9h1V685.8h1V689.4h1V691.1h1V688.2h1V688.8h1V689.5h1V692.4h1V690.8h1V689.3h1V692h1V693.4h1V690.2h1V690.9h1V689.6h1V696.9h1V694.4h1V696h1V697.2h1V701h1V707.4h1V710.1h1V715.5h1V714.2h1V710.6h1V705.3h1V707.2h1V702.9h1V700.3h1V701.6h1V696.7h1V701.6h1V697.3h1V700h1V698.4h1V695.3h1V697.9h1V694.4h1V701.3h1V694.3h1V696.9h1V694.7h1V693.1h1V695.2h1V696.7h1V692h1V690.9h1V693.3h1V690.4h1V690.9h1V693.3h1V690.6h1V691.8h1V689.2h1V688.3h1V691.3h1V691.1h1V692.2h1V689.7h1V691h1V691.2h1V692.1h1V689.1h1V690.9h1V689h1V691.2h1V689.6h1V690.1h1V689h1V690.8h1V689.5h1V686.8h1V690.9h1V692.6h1V689.9h1V690h1V691.7h1V687.2h1V687.7h1V688.2h1V692.8h1V689.9h1V691.3h1V691.1h1V693.6h1V688.8h1V688.4h1V684.8h1V691.1h1V688.5h1V690.4h1V685.5h1V688.9h1V689.1h1V690h1V691.1h1V687.9h1V691h1V686.3h1V688.9h1V688.1h1V688.2h1V687.4h1V686h1V694.6h1V690.3h1V690.4h1V693.7h1V691.1h1V687.9h1V692.7h1V693.9h1V694.2h1V695.2h1V699.6h1V694.9h1V703.7h1V706.1h1V705.5h1V702.2h1V708.4h1V704.2h1V705.2h1V702.9h1V698.8h1V704.6h1V697.8h1V697.4h1V695.5h1V695.6h1V693h1V698.3h1V695.4h1V691.3h1V694h1V695.4h1V700.2h1V693.8h1V690.5h1V693.9h1V693.7h1"/>
</g>
<line x1="82.3" y1="782.8" x2="934.7" y2="782.8" stroke="#555" stroke-width="1.5" stroke-dasharray="4.6 17.16"/>
<line x1="400.7" y1="812.7" x2="400.7" y2="488.4" stroke="#0000ff" stroke-width="1.6" stroke-dasharray="31 31"/>
<line x1="427.8" y1="812.7" x2="427.8" y2="488.4" stroke="#0000ff" stroke-width="1.6" stroke-dasharray="31 31"/>
<line x1="500" y1="812.7" x2="500" y2="488.4" stroke="#0000ff" stroke-width="1.6" stroke-dasharray="31 31"/>
<line x1="533.4" y1="812.7" x2="533.4" y2="488.4" stroke="#ff0000" stroke-width="1.6" stroke-dasharray="25.5 17.5 3 19.3"/>
<line x1="604.8" y1="812.7" x2="604.8" y2="488.4" stroke="#ff0000" stroke-width="1.6" stroke-dasharray="25.5 17.5 3 19.3"/>
<line x1="774.2" y1="812.7" x2="774.2" y2="488.4" stroke="#0000ff" stroke-width="1.6" stroke-dasharray="31 31"/>
<text class="lb" x="409.1" y="518.6" fill="#0000ff" font-size="22.5" word-spacing="7" textLength="35.7" lengthAdjust="spacing">Lyα</text>
<text class="lb" x="435.8" y="548" fill="#0000ff" font-size="22.5" word-spacing="7" textLength="39.1" lengthAdjust="spacing">N V</text>
<text class="lb" x="507.6" y="518.6" fill="#0000ff" font-size="22.5" word-spacing="7" textLength="40.9" lengthAdjust="spacing">Si II</text>
<text class="lb" x="541.3" y="548" fill="#ff0000" font-size="22.5" word-spacing="7" textLength="35.9" lengthAdjust="spacing">C II</text>
<text class="lb" x="612.7" y="518.6" fill="#ff0000" font-size="22.5" word-spacing="7" textLength="49" lengthAdjust="spacing">Si IV</text>
<text class="lb" x="781.8" y="518.6" fill="#0000ff" font-size="22.5" word-spacing="7" textLength="43.7" lengthAdjust="spacing">C IV</text>
<g stroke="#0000ff" stroke-width="1.6" fill="none"><circle cx="830.4" cy="741" r="7.5"/><line x1="822.9" y1="741" x2="837.9" y2="741"/><line x1="830.4" y1="733.5" x2="830.4" y2="748.5"/></g>
<path d="M135.2 812.7v-7M135.2 488.4v7M187.3 812.7v-7M187.3 488.4v7M239.5 812.7v-7M239.5 488.4v7M291.6 812.7v-7M291.6 488.4v7M343.8 812.7v-13.3M343.8 488.4v13.3M395.9 812.7v-7M395.9 488.4v7M448.1 812.7v-7M448.1 488.4v7M500.2 812.7v-7M500.2 488.4v7M552.4 812.7v-7M552.4 488.4v7M604.5 812.7v-13.3M604.5 488.4v13.3M656.7 812.7v-7M656.7 488.4v7M708.8 812.7v-7M708.8 488.4v7M761 812.7v-7M761 488.4v7M813.1 812.7v-7M813.1 488.4v7M865.3 812.7v-13.3M865.3 488.4v13.3M917.5 812.7v-7M917.5 488.4v7M83 803.6h7M948.7 803.6h-7M83 782.8h13.3M948.7 782.8h-13.3M83 762h7M948.7 762h-7M83 741.2h7M948.7 741.2h-7M83 720.3h7M948.7 720.3h-7M83 699.5h7M948.7 699.5h-7M83 678.7h13.3M948.7 678.7h-13.3M83 657.9h7M948.7 657.9h-7M83 637.1h7M948.7 637.1h-7M83 616.2h7M948.7 616.2h-7M83 595.4h7M948.7 595.4h-7M83 574.6h13.3M948.7 574.6h-13.3M83 553.8h7M948.7 553.8h-7M83 533h7M948.7 533h-7M83 512.1h7M948.7 512.1h-7M83 491.3h7M948.7 491.3h-7" stroke="#000" stroke-width="1.8" fill="none"/>
<rect x="83" y="488.4" width="865.7" height="324.3" stroke="#000" stroke-width="2" fill="none"/>
<text x="83" y="846" font-size="27.6" text-anchor="middle" textLength="67.1" lengthAdjust="spacingAndGlyphs">4000</text>
<text x="343.8" y="846" font-size="27.6" text-anchor="middle" textLength="67.1" lengthAdjust="spacingAndGlyphs">5000</text>
<text x="604.5" y="846" font-size="27.6" text-anchor="middle" textLength="67.1" lengthAdjust="spacingAndGlyphs">6000</text>
<text x="865.3" y="846" font-size="27.6" text-anchor="middle" textLength="67.1" lengthAdjust="spacingAndGlyphs">7000</text>
<text transform="translate(64 782.8) rotate(-90)" font-size="27.6" text-anchor="middle" textLength="16.4" lengthAdjust="spacingAndGlyphs">0</text>
<text transform="translate(64 678.7) rotate(-90)" font-size="27.6" text-anchor="middle" textLength="67.1" lengthAdjust="spacingAndGlyphs">1000</text>
<text transform="translate(64 574.6) rotate(-90)" font-size="27.6" text-anchor="middle" textLength="67.1" lengthAdjust="spacingAndGlyphs">2000</text>
<text transform="translate(23 650.5) rotate(-90)" font-size="27.6" text-anchor="middle" word-spacing="8" textLength="241" lengthAdjust="spacing">Flux density (μJy)</text>
<text x="515.9" y="459.2" font-size="22" word-spacing="4" text-anchor="middle" textLength="423" lengthAdjust="spacing">IVS 0010−873 GS z=3.2928 ± 0.0026</text>
<clipPath id="c3"><rect x="1093" y="488.4" width="865.5" height="324.3"/></clipPath>
<g clip-path="url(#c3)" fill="none" stroke="#000" stroke-width="1.85" stroke-linejoin="round">
<path d="M1092.6 638.9h0.8V556h0.8V692h0.8V631.3h0.8V690.3h0.8V710h0.8V666.2h0.8V772h0.8V678.1h0.8V714.5h0.8V688.9h0.8V764.1h0.8V792.1h0.8V645.6h0.8V719.9h0.8V696.3h0.8V717.3h0.8V786.2h0.8V749.7h0.8V724.1h0.8V704.3h0.8V705.9h0.8V694.5h0.8V717h0.8V715h0.8V839.2h0.8V670.3h0.8V739.2h0.8V809.9h0.8V644.1h0.8V705.7h0.8V771.4h0.8V741.1h0.8V804h0.8V610.3h0.8V736.9h0.8V709.1h0.8V677.2h0.8V771h0.8V780.1h0.8V733.6h0.8V682.8h0.8V732.7h0.8V679.6h0.8V666.2h0.8V775.4h0.8V748.2h0.8V762h0.8V687h0.8V719.3h0.8V762.5h0.8V730.4h0.8V647.2h0.8V709.1h0.8V761h0.8V731.7h0.8V789.9h0.8V699.2h0.8V675.9h0.8V779.7h0.8V659.5h0.8V749.9h0.8V713.3h0.8V713.4h0.8V697.3h0.8V660h0.8V890.9h0.8V767.8h0.8V687.8h0.8V687.4h0.8V628.9h0.8V709.8h0.8V641.7h0.8V721.3h0.8V792.1h0.8V716.2h0.8V675.6h0.8V695h0.8V638.6h0.8V758.9h0.8V746.4h0.8V700.4h0.8V730.7h0.8V680.8h0.8V699.6h0.8V710.4h0.8V683h0.8V748.4h0.8V794.9h0.8V741.5h0.8V718.7h0.8V631.6h0.8V689.9h0.8V713.4h0.8V704.3h0.8V724.2h0.8V673.7h0.8V713h0.8V708.2h0.8V775.6h0.8V672.9h0.8V627.5h0.8V676.6h0.8V741.2h0.8V735.2h0.8V741.8h0.8V709.3h0.8V688.8h0.8V724.8h0.8V679.1h0.8V722.7h0.8V728.8h0.8V755.1h0.8V732.3h0.8V715.7h0.8V743.2h0.8V722.7h0.8V711.7h0.8V673.9h0.8V723.9h0.8V729h0.8V789.3h0.8V747.6h0.8V691.7h0.8V726.7h0.8V738.4h0.8V717.7h0.8V737.3h0.8V763.7h0.8V741.3h0.8V718.3h0.8V711.7h0.8V747.5h0.8V708.8h0.8V734.7h0.8V704.6h0.8V723.2h0.8V706.7h0.8V733h0.8V743.8h0.8V711.8h0.8V697.2h0.8V727.7h0.8V701.5h0.8V741h0.8V710.6h0.8V738.6h0.8V691.6h0.8V722.2h0.8V725.3h0.8V690.5h0.8V740.1h0.8V691.1h0.8V728.2h0.8V721.8h0.8V761.7h0.8V711.7h0.8V729.4h0.8V730.7h0.8V724.6h0.8V726.3h0.8V726.9h0.8V742h0.8V718.9h0.8V727.8h0.8V705.9h0.8V757.3h0.8V717.2h0.8V709.6h0.8V706.6h0.8V729.2h0.8V713.8h0.8V710.5h0.8V745.5h0.8V691.4h0.8V721.8h0.8V697.3h0.8V726.8h0.8V727.5h0.8V724.9h0.8V741.5h0.8V706.6h0.8V701.8h0.8V709h0.8V741.9h0.8V711.3h0.8V706.3h0.8V721.8h0.8V701.9h0.8V717h0.8V720.2h0.8V702.8h0.8V712.9h0.8V690.8h0.8V699.4h0.8V711.2h0.8V688.1h0.8V701.1h0.8V695.2h0.8V666h0.8V652.3h0.8V642.3h0.8V634.6h0.8V613.3h0.8V580h0.8V590h0.8V600.6h0.8V599.2h0.8V619.5h0.8V603.9h0.8V625.4h0.8V623.4h0.8V630.4h0.8V644.9h0.8V653h0.8V641.2h0.8V656.5h0.8V654.2h0.8V661h0.8V669.3h0.8V670.7h0.8V677h0.8V681h0.8V691.8h0.8V695.8h0.8V703h0.8V697.8h0.8V696.1h0.8V702.5h0.8V714.9h0.8V711.5h0.8V722.5h0.8V725h0.8V736.4h0.8V727.5h0.8V718.9h0.8V724h0.8V736.4h0.8V737.9h0.8V719h0.8V743.4h0.8V732.5h0.8V742.1h0.8V728.7h0.8V736.9h0.8V730.3h0.8V722.8h0.8V755.2h0.8V752.1h0.8V720h0.8V734.6h0.8V724.5h0.8V730h0.8V727.7h0.8V730.7h0.8V733.4h0.8V744.9h0.8V726.7h0.8V735.4h0.8V745.7h0.8V744.4h0.8V739.8h0.8V749.9h0.8V712.3h0.8V718.4h0.8V728.4h0.8V732h0.8V720h0.8V732.9h0.8V737.4h0.8V715.3h0.8V716.5h0.8V717.2h0.8V726.9h0.8V739.3h0.8V728.2h0.8V727.2h0.8V726.9h0.8V732.2h0.8V733.6h0.8V732.2h0.8V723.2h0.8V742.2h0.8V715.6h0.8V734.4h0.8V719.2h0.8V730.5h0.8V716.5h0.8V716.4h0.8V735.8h0.8V730.7h0.8V734.1h0.8V715h0.8V715.8h0.8V727.4h0.8V730.6h0.8V722h0.8V727.5h0.8V726.2h0.8V724.9h0.8V722.6h0.8V741.2h0.8V719h0.8V729.8h0.8V717.1h0.8V725.4h0.8V718.8h0.8V732.3h0.8V714.9h0.8V725.7h0.8V717.3h0.8V741.8h0.8V737.6h0.8V725h0.8V731.8h0.8V734.4h0.8V729.7h0.8V737.7h0.8V727h0.8V726.9h0.8V721.9h0.8V732.2h0.8V721.9h0.8V730h0.8V735.1h0.8V724.9h0.8V738.4h0.8V729.4h0.8V718h0.8V718.2h0.8V721h0.8V729.2h0.8V742.8h0.8V737h0.8V745.7h0.8V710.6h0.8V735.8h0.8V727.9h0.8V730.6h0.8V723.7h0.8V735.6h0.8V728.3h0.8V718.9h0.8V740.5h0.8V736.8h0.8V743.9h0.8V743.1h0.8V730.8h0.8V740.8h0.8V720.9h0.8V725.8h0.8V728.2h0.8V727.8h0.8V728.2h0.8V736.3h0.8V720.5h0.8V722.9h0.8V733.3h0.8V717.1h0.8V741.5h0.8V726.2h0.8V732.1h0.8V721h0.8V721.7h0.8V713.5h0.8V725.1h0.8V735.9h0.8V724.1h0.8V739.3h0.8V743h0.8V715h0.8V708.1h0.8V726.3h0.8V717.8h0.8V716h0.8V728.8h0.8V718.7h0.8V718.7h0.8V728.4h0.8V727.1h0.8V722.6h0.8V716.6h0.8V726.5h0.8V733.1h0.8V743h0.8V714.5h0.8V710.8h0.8V725.8h0.8V711.3h0.8V733h0.8V719.9h0.8V722.9h0.8V719.7h0.8V732.5h0.8V728.5h0.8V733.7h0.8V724h0.8V703.8h0.8V720.9h0.8V730.3h0.8V728.6h0.8V724.6h0.8V729.4h0.8V729.4h0.8V718.7h0.8V706.3h0.8V727.8h0.8V699.2h0.8V721.2h0.8V715.9h0.8V722.8h0.8V714.9h0.8V724.1h0.8V711.2h0.8V723.1h0.8V729.5h0.8V734.9h0.8V719.3h0.8V737.4h0.8V731.5h0.8V716.8h0.8V703.7h0.8V715.7h0.8V708.5h0.8V718.8h0.8V723h0.8V713.9h0.8V716.9h0.8V718.3h0.8V736.6h0.8V717.1h0.8V710.6h0.8V716.5h0.8V709.6h0.8V712.3h0.8V714.3h0.8V706.9h0.8V711h0.8V721.6h0.8V726.9h0.8V715.8h0.8V715.4h0.8V713.2h0.8V712.4h0.8V739.6h0.8V716.9h0.8V727.5h0.8V725.5h0.8V708.4h0.8V718.4h0.8V712.1h0.8V718.6h0.8V710h0.8V720.2h0.8V721.5h0.8V713.7h0.8V722.2h0.8V716.8h0.8V740.8h0.8V711.2h0.8V728.9h0.8V708.9h0.8V720.1h0.8V714.5h0.8V712.2h0.8V729.3h0.8V730.1h0.8V724.6h0.8V728.3h0.8V721.9h0.8V732.5h0.8V715h0.8V724.4h0.8V721.6h0.8V716h0.8V723.3h0.8V717h0.8V715h0.8V730.8h0.8V713.3h0.8V712.6h0.8V709.3h0.8V723.6h0.8V724.7h0.8V719.6h0.8V705.8h0.8V718.3h0.8V722.8h0.8V721.2h0.8V730.8h0.8V723.3h0.8V710.9h0.8V725.7h0.8V706h0.8V720.4h0.8V724h0.8V719.4h0.8V702.3h0.8V711.6h0.8V714.2h0.8V708.3h0.8V708.3h0.8V708.5h0.8V705.7h0.8V715.7h0.8V726.4h0.8V722.1h0.8V718.8h0.8V727.3h0.8V703h0.8V718.4h0.8V719.1h0.8V714.7h0.8V718.5h0.8V729.5h0.8V736.2h0.8V736.5h0.8V714.6h0.8V726.4h0.8V725.6h0.8V733.4h0.8V720h0.8V723h0.8V716.1h0.8V722.7h0.8V709.8h0.8V724.5h0.8V717.6h0.8V729.6h0.8V730.5h0.8V735.3h0.8V724.5h0.8V717.9h0.8V739.7h0.8V728.1h0.8V731.1h0.8V721.6h0.8V716.1h0.8V714.3h0.8V716.3h0.8V720.1h0.8V706.6h0.8V701.7h0.8V691h0.8V683.2h0.8V679h0.8V690.8h0.8V700.8h0.8V705.4h0.8V716.4h0.8V711.2h0.8V720.5h0.8V716.9h0.8V718.2h0.8V715.5h0.8V715.3h0.8V720.9h0.8V714.7h0.8V711.7h0.8V717.5h0.8V713.8h0.8V722.3h0.8V713.8h0.8V718.7h0.8V719h0.8V711.2h0.8V718h0.8V724h0.8V730.2h0.8V717.3h0.8V709.6h0.8V717.2h0.8V726.6h0.8V715.2h0.8V721.5h0.8V720.5h0.8V721.7h0.8V726.8h0.8V717.1h0.8V717.8h0.8V712.4h0.8V715h0.8V713.4h0.8V719.6h0.8V720h0.8V720.6h0.8V712h0.8V727.9h0.8V725.7h0.8V714.7h0.8V709.5h0.8V713h0.8V700.7h0.8V708.7h0.8V725h0.8V710.8h0.8V722.3h0.8V723.1h0.8V706.7h0.8V713.8h0.8V719.9h0.8V719.1h0.8V720.3h0.8V724.8h0.8V716.8h0.8V718.6h0.8V715h0.8V715.5h0.8V720.1h0.8V708.7h0.8V716.5h0.8V724.3h0.8V709.2h0.8V724.2h0.8V713.6h0.8V709.3h0.8V706.6h0.8V700.2h0.8V698.1h0.8V693h0.8V690.3h0.8V702.7h0.8V691h0.8V702.4h0.8V698.4h0.8V706.9h0.8V704h0.8V711.3h0.8V689.5h0.8V702.9h0.8V723.7h0.8V709.3h0.8V714.5h0.8V716.7h0.8V707.9h0.8V714.7h0.8V714.9h0.8V716.5h0.8V722.6h0.8V720.5h0.8V713.3h0.8V706.3h0.8V698.3h0.8V725.1h0.8V723.3h0.8V702.6h0.8V719.2h0.8V714.8h0.8V699.7h0.8V714.6h0.8V719.1h0.8V709.9h0.8V715.6h0.8V718.3h0.8V713.2h0.8V720.9h0.8V722.8h0.8V703.1h0.8V725.2h0.8V712.6h0.8V703.1h0.8V714.2h0.8V730.4h0.8V723.8h0.8V704.8h0.8V708.1h0.8V717.6h0.8V717.1h0.8V713h0.8V713.3h0.8V727.5h0.8V706.1h0.8V721.3h0.8V715.8h0.8V719.2h0.8V717.3h0.8V705.2h0.8V731.7h0.8V713.6h0.8V708.1h0.8V709.4h0.8V699.7h0.8V721.5h0.8V706.4h0.8V721.8h0.8V719h0.8V710.9h0.8V714.4h0.8V713.6h0.8V710.8h0.8V707.5h0.8V717.8h0.8V712.4h0.8V720.6h0.8V721.3h0.8V708.2h0.8V712.5h0.8V730.6h0.8V719.2h0.8V718.9h0.8V721.9h0.8V708.1h0.8V709h0.8V712h0.8V707.9h0.8V685.4h0.8V660.3h0.8V635h0.8V654.3h0.8V674.6h0.8V699.5h0.8V712.6h0.8V721.6h0.8V725.1h0.8V715h0.8V718.9h0.8V721.2h0.8V715.5h0.8V713.8h0.8V729.8h0.8V710.2h0.8V726.3h0.8V735.7h0.8V719.5h0.8V735.6h0.8V715.4h0.8V721.8h0.8V734.1h0.8V713.9h0.8V710h0.8V717.2h0.8V720.2h0.8V723.2h0.8V716.1h0.8V722h0.8V695.2h0.8V722.2h0.8V723.6h0.8V706.6h0.8V721.5h0.8V726.7h0.8V719.1h0.8V722.1h0.8V712.4h0.8V721.4h0.8V712.4h0.8V715.9h0.8V735.9h0.8V721.6h0.8V728.8h0.8V710h0.8V725.5h0.8V724.6h0.8V723.8h0.8V713.3h0.8V727h0.8V709.3h0.8V714.8h0.8V720.1h0.8V708.9h0.8V718.7h0.8V711.1h0.8V711.9h0.8V708.7h0.8V728.1h0.8V732.4h0.8V720.4h0.8V720.5h0.8V714.2h0.8V709.5h0.8V719.8h0.8V716h0.8V717.4h0.8V705.5h0.8V722h0.8V708.9h0.8V737.4h0.8V719.5h0.8V703.7h0.8V716.2h0.8V724.3h0.8V699h0.8V678.9h0.8V666.1h0.8V649h0.8V672.7h0.8V686.6h0.8V708.3h0.8V715h0.8V714.8h0.8V713.7h0.8V718.6h0.8V717.1h0.8V715.4h0.8V709.1h0.8V704.3h0.8V710.9h0.8V704.6h0.8V715.4h0.8V702.1h0.8V709.8h0.8V716.2h0.8V712h0.8V706.9h0.8V722.5h0.8V695.9h0.8V708.8h0.8V710.2h0.8V720.1h0.8V721.6h0.8V716.6h0.8V713.5h0.8V724.8h0.8V725.2h0.8V710.2h0.8V718h0.8V738.6h0.8V715h0.8V722.1h0.8V718.7h0.8V733.8h0.8V710.7h0.8V726.9h0.8V727.8h0.8V721.7h0.8V716h0.8V732h0.8V727.3h0.8V708h0.8V726.9h0.8V719h0.8V709.3h0.8V725.6h0.8V697.7h0.8V719h0.8V712.8h0.8V702.4h0.8V701.2h0.8V695.7h0.8V702.9h0.8V704h0.8V716.1h0.8V715.5h0.8V728.4h0.8V730.4h0.8V700.5h0.8V709.1h0.8V729h0.8V717.1h0.8V704.7h0.8V720.4h0.8V728.8h0.8V720.1h0.8V713.9h0.8V716.9h0.8V727.2h0.8V710h0.8V716.8h0.8V713.5h0.8V726.4h0.8V707.5h0.8V712.6h0.8V709.9h0.8V727.6h0.8V721.3h0.8V727.2h0.8V717.3h0.8V705.6h0.8V712.7h0.8V717.3h0.8V726.5h0.8V712.5h0.8V711.4h0.8V711.2h0.8V716.6h0.8V717.3h0.8V719.3h0.8V723.1h0.8V705.7h0.8V712.7h0.8V716.3h0.8V718.9h0.8V722.2h0.8V701.4h0.8V712.7h0.8V709.9h0.8V710.7h0.8V707.3h0.8V697h0.8V711.3h0.8V715h0.8V719.8h0.8V714.3h0.8V712.1h0.8V715h0.8V713.6h0.8V710.4h0.8V717.5h0.8V727h0.8V712.1h0.8V716.9h0.8V706.1h0.8V713.4h0.8V706.9h0.8V715.7h0.8V709.5h0.8V705.7h0.8V703.2h0.8V704h0.8V704.2h0.8V698.5h0.8V701.9h0.8V700.3h0.8V704.1h0.8V710.5h0.8V703.3h0.8V701.4h0.8V706.3h0.8V709.4h0.8V708.5h0.8V716.5h0.8V709.2h0.8V715.3h0.8V722.5h0.8V716.3h0.8V715.2h0.8V733h0.8V717.4h0.8V718.5h0.8V719.3h0.8V726.6h0.8V717.6h0.8V731h0.8V716h0.8V727.1h0.8V728.2h0.8V734.8h0.8V721.2h0.8V727h0.8V719.1h0.8V720.3h0.8V725.7h0.8V739.1h0.8V724h0.8V729.2h0.8V737.2h0.8V741.5h0.8V727.8h0.8V725.4h0.8V729.7h0.8V738.9h0.8V716.7h0.8V722.9h0.8V710.6h0.8V727.7h0.8V721.9h0.8V720.6h0.8V727.3h0.8V734.5h0.8V731.8h0.8V722.4h0.8V717h0.8V717.7h0.8V726.3h0.8V703.6h0.8V717.3h0.8V731.2h0.8V713.6h0.8V732.1h0.8V726.2h0.8V718h0.8V710.8h0.8V730.1h0.8V718.3h0.8V718.1h0.8V723.4h0.8V728.1h0.8V714.2h0.8V718.4h0.8V723.6h0.8V706.4h0.8V722.8h0.8V710.8h0.8V712.6h0.8V722.4h0.8V724.7h0.8V743.1h0.8V715.2h0.8V714.4h0.8V702.5h0.8V722h0.8V717.7h0.8V717.2h0.8V726.8h0.8V740.9h0.8V717.1h0.8V719.9h0.8V714.9h0.8V720.4h0.8V716.9h0.8V714.9h0.8V720.5h0.8V712.6h0.8V715.5h0.8V720h0.8V720.2h0.8V720.6h0.8V719.1h0.8V711.9h0.8V718.6h0.8V712.5h0.8V717.2h0.8V732.7h0.8V699.8h0.8V716.5h0.8V702.4h0.8V730.5h0.8V717.5h0.8V720.6h0.8V712.4h0.8V715.4h0.8V711.6h0.8V711.2h0.8V717.5h0.8V715.8h0.8V714.5h0.8V706.9h0.8V702.6h0.8V701.3h0.8V700.5h0.8V700.5h0.8V694.2h0.8V694.6h0.8V693.9h0.8V693.8h0.8V689.1h0.8V684h0.8V690.2h0.8V689.5h0.8V689.4h0.8V693.6h0.8V693.6h0.8V693.2h0.8V693.3h0.8V696.3h0.8V693.4h0.8V697.6h0.8V689.3h0.8V686.3h0.8V678.5h0.8V679.2h0.8V665h0.8V687.9h0.8V682.1h0.8V688.1h0.8V708.4h0.8V706.6h0.8V703.3h0.8V728h0.8V706.7h0.8V696.2h0.8V692.8h0.8V705.8h0.8V686.6h0.8V690.4h0.8V703.7h0.8V701.6h0.8V694.7h0.8V698.3h0.8V716.1h0.8V706.2h0.8V702.7h0.8V712.8h0.8V708.2h0.8V706.9h0.8V711.1h0.8V721.5h0.8V702.6h0.8V700h0.8V705.5h0.8V705h0.8V701.9h0.8V716.7h0.8V707.8h0.8"/>
</g>
<line x1="1092.3" y1="782.8" x2="1944.5" y2="782.8" stroke="#555" stroke-width="1.5" stroke-dasharray="4.6 17.16"/>
<line x1="1258.6" y1="812.7" x2="1258.6" y2="488.4" stroke="#0000ff" stroke-width="1.6" stroke-dasharray="31 31"/>
<line x1="1494.3" y1="812.7" x2="1494.3" y2="488.4" stroke="#0000ff" stroke-width="1.6" stroke-dasharray="31 31"/>
<line x1="1528.8" y1="812.7" x2="1528.8" y2="488.4" stroke="#0000ff" stroke-width="1.6" stroke-dasharray="31 31"/>
<line x1="1658.8" y1="812.7" x2="1658.8" y2="488.4" stroke="#0000ff" stroke-width="1.6" stroke-dasharray="31 31"/>
<line x1="1720" y1="812.7" x2="1720" y2="488.4" stroke="#0000ff" stroke-width="1.6" stroke-dasharray="31 31"/>
<line x1="1762.9" y1="812.7" x2="1762.9" y2="488.4" stroke="#ff0000" stroke-width="1.6" stroke-dasharray="25.5 17.5 3 19.3"/>
<line x1="1821" y1="812.7" x2="1821" y2="488.4" stroke="#ff0000" stroke-width="1.6" stroke-dasharray="25.5 17.5 3 19.3"/>
<line x1="1924" y1="812.7" x2="1924" y2="488.4" stroke="#ff0000" stroke-width="1.6" stroke-dasharray="25.5 17.5 3 19.3"/>
<line x1="1933.6" y1="812.7" x2="1933.6" y2="488.4" stroke="#ff0000" stroke-width="1.6" stroke-dasharray="25.5 17.5 3 19.3"/>
<text class="lb" x="1266.8" y="518.6" fill="#0000ff" font-size="22.5" word-spacing="7" textLength="51.4" lengthAdjust="spacing">Mg II</text>
<text class="lb" x="1502.4" y="518.6" fill="#0000ff" font-size="22.5" word-spacing="7" textLength="68.1" lengthAdjust="spacing">[Ne V]</text>
<text class="lb" x="1536.8" y="548" fill="#0000ff" font-size="22.5" word-spacing="7" textLength="69.1" lengthAdjust="spacing">[Ne V]</text>
<text class="lb" x="1667.4" y="518.6" fill="#0000ff" font-size="22.5" word-spacing="7" textLength="54.8" lengthAdjust="spacing">[O II]</text>
<text class="lb" x="1771.3" y="518.6" fill="#ff0000" font-size="22.5" word-spacing="7" textLength="72.7" lengthAdjust="spacing">[Ne III]</text>
<text class="lb" x="1729.2" y="548" fill="#0000ff" font-size="22.5" word-spacing="7" textLength="71.7" lengthAdjust="spacing">[Ne III]</text>
<text class="lb" x="1827.8" y="548" fill="#ff0000" font-size="22.5" word-spacing="7" textLength="27.7" lengthAdjust="spacing">Hδ</text>
<text class="lb" x="1932.3" y="518.4" fill="#ff0000" font-size="22.5" word-spacing="7" textLength="27.9" lengthAdjust="spacing">Hγ</text>
<text class="lb" x="1942.5" y="548" fill="#ff0000" font-size="22.5" word-spacing="7" textLength="61.7" lengthAdjust="spacing">[O III]</text>
<g stroke="#0000ff" stroke-width="1.6" fill="none"><circle cx="1840.4" cy="759.7" r="7.5"/><line x1="1832.9" y1="759.7" x2="1847.9" y2="759.7"/><line x1="1840.4" y1="752.2" x2="1840.4" y2="767.2"/></g>
<path d="M1145.2 812.7v-7M1145.2 488.4v7M1197.3 812.7v-7M1197.3 488.4v7M1249.5 812.7v-7M1249.5 488.4v7M1301.6 812.7v-7M1301.6 488.4v7M1353.8 812.7v-13.3M1353.8 488.4v13.3M1405.9 812.7v-7M1405.9 488.4v7M1458.1 812.7v-7M1458.1 488.4v7M1510.2 812.7v-7M1510.2 488.4v7M1562.4 812.7v-7M1562.4 488.4v7M1614.5 812.7v-13.3M1614.5 488.4v13.3M1666.7 812.7v-7M1666.7 488.4v7M1718.8 812.7v-7M1718.8 488.4v7M1771 812.7v-7M1771 488.4v7M1823.1 812.7v-7M1823.1 488.4v7M1875.3 812.7v-13.3M1875.3 488.4v13.3M1927.5 812.7v-7M1927.5 488.4v7M1093 799.4h7M1958.5 799.4h-7M1093 782.8h13.3M1958.5 782.8h-13.3M1093 766.2h7M1958.5 766.2h-7M1093 749.5h7M1958.5 749.5h-7M1093 732.9h7M1958.5 732.9h-7M1093 716.3h7M1958.5 716.3h-7M1093 699.6h13.3M1958.5 699.6h-13.3M1093 683h7M1958.5 683h-7M1093 666.4h7M1958.5 666.4h-7M1093 649.7h7M1958.5 649.7h-7M1093 633.1h7M1958.5 633.1h-7M1093 616.5h13.3M1958.5 616.5h-13.3M1093 599.8h7M1958.5 599.8h-7M1093 583.2h7M1958.5 583.2h-7M1093 566.6h7M1958.5 566.6h-7M1093 549.9h7M1958.5 549.9h-7M1093 533.3h13.3M1958.5 533.3h-13.3M1093 516.7h7M1958.5 516.7h-7M1093 500h7M1958.5 500h-7" stroke="#000" stroke-width="1.8" fill="none"/>
<rect x="1093" y="488.4" width="865.5" height="324.3" stroke="#000" stroke-width="2" fill="none"/>
<text x="1093" y="846" font-size="27.6" text-anchor="middle" textLength="67.1" lengthAdjust="spacingAndGlyphs">4000</text>
<text x="1353.8" y="846" font-size="27.6" text-anchor="middle" textLength="67.1" lengthAdjust="spacingAndGlyphs">5000</text>
<text x="1614.5" y="846" font-size="27.6" text-anchor="middle" textLength="67.1" lengthAdjust="spacingAndGlyphs">6000</text>
<text x="1875.3" y="846" font-size="27.6" text-anchor="middle" textLength="67.1" lengthAdjust="spacingAndGlyphs">7000</text>
<text transform="translate(1074 782.8) rotate(-90)" font-size="27.6" text-anchor="middle" textLength="16.4" lengthAdjust="spacingAndGlyphs">0</text>
<text transform="translate(1074 699.6) rotate(-90)" font-size="27.6" text-anchor="middle" textLength="50.2" lengthAdjust="spacingAndGlyphs">100</text>
<text transform="translate(1074 616.5) rotate(-90)" font-size="27.6" text-anchor="middle" textLength="50.2" lengthAdjust="spacingAndGlyphs">200</text>
<text transform="translate(1074 533.3) rotate(-90)" font-size="27.6" text-anchor="middle" textLength="50.2" lengthAdjust="spacingAndGlyphs">300</text>
<text transform="translate(1033 650.5) rotate(-90)" font-size="27.6" text-anchor="middle" word-spacing="8" textLength="241" lengthAdjust="spacing">Flux density (μJy)</text>
<text x="1525.8" y="459.2" font-size="22" word-spacing="4" text-anchor="middle" textLength="423" lengthAdjust="spacing">IVS 0016−223 GS z=0.6559 ± 0.0003</text>
<clipPath id="c4"><rect x="83" y="932.3" width="865.7" height="324.3"/></clipPath>
<g clip-path="url(#c4)" fill="none" stroke="#000" stroke-width="1.6" stroke-linejoin="round">
<path d="M82.3 1218.4h1.3V1218.4h1.3V1220.2h1.3V1216.8h1.3V1217.6h1.3V1219.1h1.3V1221.4h1.3V1219h1.3V1218.2h1.3V1222.8h1.3V1221.6h1.3V1217.3h1.3V1219h1.3V1218.6h1.3V1216.4h1.3V1220.4h1.3V1221.4h1.3V1219.4h1.3V1220.4h1.3V1221.4h1.3V1221.2h1.3V1220h1.3V1219.1h1.3V1220.9h1.3V1224h1.3V1226h1.3V1227.2h1.3V1225.9h1.3V1220.8h1.3V1219.1h1.3V1223.3h1.3V1224h1.3V1218.1h1.3V1220.2h1.3V1225.4h1.3V1224.1h1.3V1220.2h1.3V1217h1.3V1216.1h1.3V1218.5h1.3V1219.9h1.3V1220.2h1.3V1222.4h1.3V1223.2h1.3V1222.1h1.3V1220.5h1.3V1222.5h1.3V1225.5h1.3V1221.8h1.3V1218.7h1.3V1219.9h1.3V1219.8h1.3V1219.1h1.3V1220.2h1.3V1221.2h1.3V1219h1.3V1217.5h1.3V1216.4h1.3V1215.6h1.3V1218.6h1.3V1217.7h1.3V1216h1.3V1218.4h1.3V1220.1h1.3V1223.5h1.3V1222.6h1.3V1221.1h1.3V1223h1.3V1221.6h1.3V1220.5h1.3V1221.2h1.3V1221.8h1.3V1222.2h1.3V1221.9h1.3V1223.1h1.3V1220.5h1.3V1217.4h1.3V1219.7h1.3V1222.9h1.3V1221.2h1.3V1218h1.3V1220.2h1.3V1221.8h1.3V1221.2h1.3V1220.2h1.3V1218.4h1.3V1218.9h1.3V1222.4h1.3V1223.5h1.3V1223.9h1.3V1222.1h1.3V1217.9h1.3V1218.7h1.3V1220.4h1.3V1223.2h1.3V1223.6h1.3V1223.3h1.3V1223.2h1.3V1223.9h1.3V1223.3h1.3V1218.5h1.3V1220h1.3V1222.2h1.3V1221.2h1.3V1221.5h1.3V1224.3h1.3V1224.3h1.3V1221.6h1.3V1217.4h1.3V1216.3h1.3V1219.3h1.3V1217.6h1.3V1218.2h1.3V1222.6h1.3V1222.4h1.3V1219.8h1.3V1218.2h1.3V1219.8h1.3V1217.7h1.3V1212.9h1.3V1210.8h1.3V1210.8h1.3V1214.4h1.3V1217.4h1.3V1216.4h1.3V1219.6h1.3V1222.6h1.3V1219.4h1.3V1218.6h1.3V1220h1.3V1218.8h1.3V1219h1.3V1220.3h1.3V1220.1h1.3V1220.6h1.3V1222.4h1.3V1221.3h1.3V1219.5h1.3V1218.6h1.3V1220.4h1.3V1218.9h1.3V1215.2h1.3V1218.2h1.3V1221.2h1.3V1223.2h1.3V1221.9h1.3V1221h1.3V1220.7h1.3V1218.9h1.3V1219.4h1.3V1220.5h1.3V1219.1h1.3V1216.9h1.3V1219.5h1.3V1220.7h1.3V1220.2h1.3V1220h1.3V1221h1.3V1223.3h1.3V1221.1h1.3V1220.9h1.3V1222.8h1.3V1222.4h1.3V1222.1h1.3V1220.3h1.3V1218.7h1.3V1219.1h1.3V1219.9h1.3V1215.8h1.3V1216.6h1.3V1223.3h1.3V1221.4h1.3V1220.5h1.3V1221.6h1.3V1220.5h1.3V1223.3h1.3V1223.9h1.3V1221.3h1.3V1220.6h1.3V1218.4h1.3V1217.6h1.3V1220.1h1.3V1219.6h1.3V1216.4h1.3V1218.9h1.3V1221.6h1.3V1218.6h1.3V1217.8h1.3V1220h1.3V1219.7h1.3V1218.8h1.3V1220.1h1.3V1220.6h1.3V1222.7h1.3V1224.9h1.3V1218.6h1.3V1216.8h1.3V1220.7h1.3V1218.8h1.3V1217.9h1.3V1216.3h1.3V1215.4h1.3V1215.8h1.3V1216h1.3V1216h1.3V1217.7h1.3V1220.3h1.3V1218.5h1.3V1214.4h1.3V1215.3h1.3V1217.5h1.3V1217h1.3V1218.1h1.3V1218h1.3V1218.7h1.3V1216.1h1.3V1212.9h1.3V1216.1h1.3V1218.5h1.3V1217.5h1.3V1216.5h1.3V1217.3h1.3V1217.1h1.3V1217.2h1.3V1214.8h1.3V1213.7h1.3V1215.6h1.3V1214.5h1.3V1214.7h1.3V1214.4h1.3V1209.5h1.3V1208.6h1.3V1210.7h1.3V1213.6h1.3V1214.7h1.3V1212.8h1.3V1213h1.3V1213.1h1.3V1214.9h1.3V1212.1h1.3V1214.4h1.3V1213.9h1.3V1209.7h1.3V1212.9h1.3V1211.2h1.3V1209.9h1.3V1213.6h1.3V1212.9h1.3V1208h1.3V1207.5h1.3V1208.1h1.3V1207.8h1.3V1206.1h1.3V1204.8h1.3V1205.5h1.3V1204.7h1.3V1203.3h1.3V1203.4h1.3V1204.5h1.3V1203.4h1.3V1201.8h1.3V1202.9h1.3V1201.3h1.3V1199.3h1.3V1198.7h1.3V1194.5h1.3V1195.9h1.3V1200h1.3V1199.6h1.3V1200.9h1.3V1200.5h1.3V1200h1.3V1200.9h1.3V1200.6h1.3V1200.9h1.3V1201h1.3V1202.1h1.3V1202.1h1.3V1201.3h1.3V1200.2h1.3V1198.7h1.3V1201.2h1.3V1205.1h1.3V1203.4h1.3V1204.2h1.3V1209h1.3V1205.9h1.3V1204.7h1.3V1203.3h1.3V1200.5h1.3V1202.9h1.3V1205.8h1.3V1206.3h1.3V1203.9h1.3V1201.8h1.3V1203.3h1.3V1207.2h1.3V1205.1h1.3V1202.7h1.3V1202.3h1.3V1200.9h1.3V1204.5h1.3V1211.5h1.3V1209.9h1.3V1208.7h1.3V1206.5h1.3V1203.1h1.3V1200.9h1.3V1197.1h1.3V1198h1.3V1198.1h1.3V1194.7h1.3V1192.4h1.3V1196h1.3V1198.9h1.3V1196.4h1.3V1196.3h1.3V1196.7h1.3V1197.2h1.3V1196.2h1.3V1193.1h1.3V1193.9h1.3V1195.2h1.3V1195.1h1.3V1195.9h1.3V1196.9h1.3V1197.5h1.3V1197.1h1.3V1195.2h1.3V1193.8h1.3V1196h1.3V1194.1h1.3V1192.5h1.3V1193.5h1.3V1192.1h1.3V1191.1h1.3V1194.4h1.3V1196.3h1.3V1194.3h1.3V1195.3h1.3V1193.8h1.3V1191.6h1.3V1194.3h1.3V1196.8h1.3V1194.3h1.3V1193.6h1.3V1194h1.3V1195.3h1.3V1195h1.3V1190.8h1.3V1188.4h1.3V1189.7h1.3V1193h1.3V1190.6h1.3V1187.1h1.3V1186.9h1.3V1187.8h1.3V1188.5h1.3V1188.7h1.3V1186.8h1.3V1192h1.3V1198.5h1.3V1202.6h1.3V1205.9h1.3V1199.6h1.3V1195.6h1.3V1194.8h1.3V1188.7h1.3V1183.8h1.3V1184.2h1.3V1185h1.3V1186.3h1.3V1184.6h1.3V1186h1.3V1186.3h1.3V1184.5h1.3V1183.8h1.3V1183h1.3V1186h1.3V1189.8h1.3V1188.9h1.3V1187.1h1.3V1186.4h1.3V1185.7h1.3V1181.5h1.3V1177.7h1.3V1177.9h1.3V1175.6h1.3V1177h1.3V1176.7h1.3V1176.3h1.3V1175.7h1.3V1175.6h1.3V1175.4h1.3V1173.6h1.3V1172.9h1.3V1174.2h1.3V1176.4h1.3V1174h1.3V1172.6h1.3V1175.2h1.3V1176.5h1.3V1176.3h1.3V1176.3h1.3V1176.7h1.3V1174.8h1.3V1172.9h1.3V1172.1h1.3V1173.2h1.3V1176.3h1.3V1177.9h1.3V1178.9h1.3V1181.6h1.3V1181.8h1.3V1179.5h1.3V1179.9h1.3V1179.4h1.3V1176.7h1.3V1174.8h1.3V1172.8h1.3V1170.7h1.3V1170.6h1.3V1170.5h1.3V1170.1h1.3V1169.1h1.3V1167.4h1.3V1166.5h1.3V1166h1.3V1169.8h1.3V1171.4h1.3V1169.8h1.3V1169.6h1.3V1167.6h1.3V1167.1h1.3V1164.8h1.3V1164.5h1.3V1166.4h1.3V1164.8h1.3V1162.4h1.3V1162.5h1.3V1163.1h1.3V1164h1.3V1164.6h1.3V1164.5h1.3V1165.1h1.3V1162.6h1.3V1163.6h1.3V1164.7h1.3V1161.6h1.3V1159.9h1.3V1159.6h1.3V1160.5h1.3V1161.2h1.3V1160.1h1.3V1157.4h1.3V1156.9h1.3V1156.1h1.3V1159.6h1.3V1165.7h1.3V1168.4h1.3V1169.4h1.3V1167.3h1.3V1161.3h1.3V1154.2h1.3V1149.4h1.3V1146.6h1.3V1143.1h1.3V1139.9h1.3V1139.7h1.3V1144.2h1.3V1148.3h1.3V1144.9h1.3V1142.9h1.3V1143.4h1.3V1141.7h1.3V1140.2h1.3V1138.6h1.3V1141.8h1.3V1142.3h1.3V1141.2h1.3V1141.1h1.3V1139.8h1.3V1138.1h1.3V1136.5h1.3V1140.2h1.3V1141.2h1.3V1139.1h1.3V1137.4h1.3V1140h1.3V1140.6h1.3V1136.4h1.3V1138.8h1.3V1138h1.3V1138.6h1.3V1137.7h1.3V1135.1h1.3V1135.3h1.3V1134.8h1.3V1133.2h1.3V1132.1h1.3V1136.7h1.3V1136.3h1.3V1132.6h1.3V1134.1h1.3V1137.4h1.3V1135.1h1.3V1138.2h1.3V1160.2h1.3V1179.6h1.3V1191.6h1.3V1190.4h1.3V1185h1.3V1180.9h1.3V1176.9h1.3V1167.3h1.3V1158.8h1.3V1148.2h1.3V1140.6h1.3V1137.9h1.3V1131.9h1.3V1130.3h1.3V1129.5h1.3V1125.9h1.3V1125.6h1.3V1124.7h1.3V1124.2h1.3V1122.6h1.3V1123.4h1.3V1124.7h1.3V1127h1.3V1125.3h1.3V1122h1.3V1122.7h1.3V1121.8h1.3V1124.2h1.3V1128.6h1.3V1132.6h1.3V1133h1.3V1135.8h1.3V1137.8h1.3V1133.8h1.3V1129.8h1.3V1124.8h1.3V1119.4h1.3V1120.3h1.3V1128.6h1.3V1133.2h1.3V1137.3h1.3V1140.5h1.3V1141.1h1.3V1140.5h1.3V1136.3h1.3V1133.7h1.3V1131.4h1.3V1126.9h1.3V1124.6h1.3V1123.4h1.3V1126.1h1.3V1123.7h1.3V1122h1.3V1121.7h1.3V1118.9h1.3V1120.2h1.3V1119.6h1.3V1117.9h1.3V1121.5h1.3V1121.3h1.3V1115h1.3V1117.8h1.3V1119.3h1.3V1113.4h1.3V1112h1.3V1110.5h1.3V1110.6h1.3V1109.3h1.3V1105h1.3V1105.3h1.3V1104.5h1.3V1105.4h1.3V1109.2h1.3V1110h1.3V1113.1h1.3V1116.9h1.3V1113h1.3V1109.3h1.3V1106.3h1.3V1101h1.3V1097.1h1.3V1098.2h1.3V1098.2h1.3V1096.4h1.3V1096.1h1.3V1093.4h1.3V1092.9h1.3V1096.3h1.3V1101.2h1.3V1100.6h1.3V1098.1h1.3V1098.7h1.3V1098.9h1.3V1089.6h1.3V1080.1h1.3V1075.4h1.3V1075.7h1.3V1076.6h1.3V1069.1h1.3V1060.4h1.3V1056.4h1.3V1052.7h1.3V1046.8h1.3V1042.2h1.3V1038.6h1.3V1026.4h1.3V1016.8h1.3V1011.7h1.3V1004.3h1.3V1016.7h1.3V1043.4h1.3V1052.2h1.3V1046.2h1.3V1053.6h1.3V1067.6h1.3V1085.8h1.3V1095.9h1.3V1085.9h1.3V1082.9h1.3V1082.4h1.3V1088.4h1.3V1094h1.3V1089.7h1.3V1090h1.3V1086.4h1.3V1096.3h1.3V1083.6h1.3V1063.6h1.3V1068.3h1.3V1059.5h1.3V1056.5h1.3V1076h1.3V1062.6h1.3V1060.5h1.3V1074.7h1.3V1064.9h1.3V1053h1.3V1054.8h1.3V1061.3h1.3V1069.5h1.3V1078.4h1.3V1066.9h1.3V1076h1.3V1085h1.3V1063.2h1.3V1067.3h1.3V1063.3h1.3V1048.4h1.3V1057.9h1.3V1072.4h1.3V1067.2h1.3V1058.8h1.3V1061.9h1.3V1052.6h1.3V1052h1.3V1045.6h1.3V1057.8h1.3V1058.8h1.3V1056.6h1.3V1068.9h1.3"/>
</g>
<line x1="82.3" y1="1226.8" x2="934.7" y2="1226.8" stroke="#555" stroke-width="1.5" stroke-dasharray="4.6 17.16"/>
<line x1="242.5" y1="1256.6" x2="242.5" y2="932.3" stroke="#0000ff" stroke-width="1.6" stroke-dasharray="31 31"/>
<line x1="425.5" y1="1256.6" x2="425.5" y2="932.3" stroke="#0000ff" stroke-width="1.6" stroke-dasharray="31 31"/>
<line x1="878.4" y1="1256.6" x2="878.4" y2="932.3" stroke="#0000ff" stroke-width="1.6" stroke-dasharray="31 31"/>
<text class="lb" x="247.8" y="962.1" fill="#0000ff" font-size="22.5" word-spacing="7" textLength="43.8" lengthAdjust="spacing">C IV</text>
<text class="lb" x="430.4" y="962.1" fill="#0000ff" font-size="22.5" word-spacing="7" textLength="50.3" lengthAdjust="spacing">C III]</text>
<text class="lb" x="883.8" y="962.1" fill="#0000ff" font-size="22.5" word-spacing="7" textLength="50.9" lengthAdjust="spacing">Mg II</text>
<text class="lb" x="454.8" y="1138.4" fill="#ff0000" font-size="22.5" word-spacing="7" textLength="46.7" lengthAdjust="spacing">Fe II</text>
<text class="lb" x="532.2" y="1129.1" fill="#ff0000" font-size="22.5" word-spacing="7" textLength="51" lengthAdjust="spacing">Mg II</text>
<text class="lb" x="580.8" y="1138.4" fill="#ff0000" font-size="22.5" word-spacing="7" textLength="45.4" lengthAdjust="spacing">Mg I</text>
<g stroke="#0000ff" stroke-width="1.6" fill="none"><circle cx="620" cy="1206.3" r="7.5"/><line x1="612.5" y1="1206.3" x2="627.5" y2="1206.3"/><line x1="620" y1="1198.8" x2="620" y2="1213.8"/></g>
<g stroke="#0000ff" stroke-width="1.6" fill="none"><circle cx="743.9" cy="1215.1" r="7.5"/><line x1="736.4" y1="1215.1" x2="751.4" y2="1215.1"/><line x1="743.9" y1="1207.6" x2="743.9" y2="1222.6"/></g>
<path d="M472 1167.7V1147.7M476.9 1167.7V1147.7M472 1147.7H576.6M554 1147.7V1167.7M557.4 1147.7V1167.7M576.6 1147.7V1167.7" stroke="#ff0000" stroke-width="1.5" fill="none"/>
<path d="M100.2 1256.6v-7M100.2 932.3v7M134.1 1256.6v-13.3M134.1 932.3v13.3M168 1256.6v-7M168 932.3v7M202 1256.6v-7M202 932.3v7M235.9 1256.6v-7M235.9 932.3v7M269.8 1256.6v-7M269.8 932.3v7M303.8 1256.6v-13.3M303.8 932.3v13.3M337.7 1256.6v-7M337.7 932.3v7M371.6 1256.6v-7M371.6 932.3v7M405.6 1256.6v-7M405.6 932.3v7M439.5 1256.6v-7M439.5 932.3v7M473.4 1256.6v-13.3M473.4 932.3v13.3M507.4 1256.6v-7M507.4 932.3v7M541.3 1256.6v-7M541.3 932.3v7M575.3 1256.6v-7M575.3 932.3v7M609.2 1256.6v-7M609.2 932.3v7M643.1 1256.6v-13.3M643.1 932.3v13.3M677.1 1256.6v-7M677.1 932.3v7M711 1256.6v-7M711 932.3v7M744.9 1256.6v-7M744.9 932.3v7M778.9 1256.6v-7M778.9 932.3v7M812.8 1256.6v-13.3M812.8 932.3v13.3M846.7 1256.6v-7M846.7 932.3v7M880.7 1256.6v-7M880.7 932.3v7M914.6 1256.6v-7M914.6 932.3v7M83 1246.6h7M948.7 1246.6h-7M83 1226.8h13.3M948.7 1226.8h-13.3M83 1207h7M948.7 1207h-7M83 1187.3h7M948.7 1187.3h-7M83 1167.5h7M948.7 1167.5h-7M83 1147.8h7M948.7 1147.8h-7M83 1128h13.3M948.7 1128h-13.3M83 1108.2h7M948.7 1108.2h-7M83 1088.5h7M948.7 1088.5h-7M83 1068.7h7M948.7 1068.7h-7M83 1049h7M948.7 1049h-7M83 1029.2h13.3M948.7 1029.2h-13.3M83 1009.4h7M948.7 1009.4h-7M83 989.7h7M948.7 989.7h-7M83 969.9h7M948.7 969.9h-7M83 950.2h7M948.7 950.2h-7" stroke="#000" stroke-width="1.8" fill="none"/>
<rect x="83" y="932.3" width="865.7" height="324.3" stroke="#000" stroke-width="2" fill="none"/>
<text x="134.1" y="1289.9" font-size="27.6" text-anchor="middle" textLength="67.1" lengthAdjust="spacingAndGlyphs">4000</text>
<text x="303.8" y="1289.9" font-size="27.6" text-anchor="middle" textLength="67.1" lengthAdjust="spacingAndGlyphs">5000</text>
<text x="473.4" y="1289.9" font-size="27.6" text-anchor="middle" textLength="67.1" lengthAdjust="spacingAndGlyphs">6000</text>
<text x="643.1" y="1289.9" font-size="27.6" text-anchor="middle" textLength="67.1" lengthAdjust="spacingAndGlyphs">7000</text>
<text x="812.8" y="1289.9" font-size="27.6" text-anchor="middle" textLength="67.1" lengthAdjust="spacingAndGlyphs">8000</text>
<text transform="translate(64 1226.8) rotate(-90)" font-size="27.6" text-anchor="middle" textLength="16.4" lengthAdjust="spacingAndGlyphs">0</text>
<text transform="translate(64 1128) rotate(-90)" font-size="27.6" text-anchor="middle" textLength="50.2" lengthAdjust="spacingAndGlyphs">100</text>
<text transform="translate(64 1029.2) rotate(-90)" font-size="27.6" text-anchor="middle" textLength="50.2" lengthAdjust="spacingAndGlyphs">200</text>
<text transform="translate(23 1094.4) rotate(-90)" font-size="27.6" text-anchor="middle" word-spacing="8" textLength="241" lengthAdjust="spacing">Flux density (μJy)</text>
<text x="515.9" y="903.1" font-size="22" word-spacing="4" text-anchor="middle" textLength="404" lengthAdjust="spacing">IVS 0023−354 NTT z=1.996 ± 0.005</text>
<clipPath id="c5"><rect x="1093" y="932.3" width="865.5" height="324.3"/></clipPath>
<g clip-path="url(#c5)" fill="none" stroke="#000" stroke-width="1.85" stroke-linejoin="round">
<path d="M1092.5 1077.9h1.1V1176.7h1.1V1016h1.1V1147.2h1.1V1054.1h1.1V1250h1.1V1130.2h1.1V1204.4h1.1V1117.2h1.1V1165.2h1.1V1134.3h1.1V1212.8h1.1V1176.7h1.1V1117.2h1.1V1151.8h1.1V1155.5h1.1V1163.9h1.1V1132.6h1.1V1178.1h1.1V1065h1.1V1155.8h1.1V1174.5h1.1V1101.4h1.1V1072h1.1V1136.1h1.1V1144.1h1.1V1126.2h1.1V1202.5h1.1V1152.1h1.1V1126.4h1.1V1153.7h1.1V1222.5h1.1V1133.3h1.1V1115.4h1.1V1154.5h1.1V1195.3h1.1V1137.1h1.1V1166.2h1.1V1080h1.1V1127.3h1.1V1208.6h1.1V1158.1h1.1V1194.8h1.1V1163.7h1.1V1148.8h1.1V1204h1.1V1166.2h1.1V1144.4h1.1V1187.3h1.1V1145.1h1.1V1177.6h1.1V1129h1.1V1176.8h1.1V1184h1.1V1152.1h1.1V1160.9h1.1V1165.4h1.1V1165.4h1.1V1180.9h1.1V1142.4h1.1V1167h1.1V1179.3h1.1V1161.9h1.1V1178.4h1.1V1241h1.1V1177.2h1.1V1099.5h1.1V1166.2h1.1V1183h1.1V1163.5h1.1V1158.8h1.1V1212.3h1.1V1148h1.1V1171h1.1V1168.6h1.1V1146.7h1.1V1130.4h1.1V1138.2h1.1V1178.7h1.1V1149.5h1.1V1143h1.1V1142.1h1.1V1198.7h1.1V1169.6h1.1V1194.9h1.1V1222h1.1V1185.3h1.1V1180.9h1.1V1161.9h1.1V1156.7h1.1V1151.1h1.1V1123.4h1.1V1105.1h1.1V1119h1.1V1132.4h1.1V1175.3h1.1V1164.7h1.1V1131.7h1.1V1113.7h1.1V1171.3h1.1V1137.3h1.1V1181.3h1.1V1167.2h1.1V1218h1.1V1159.6h1.1V1134.9h1.1V1140.6h1.1V1089h1.1V1142.8h1.1V1147.8h1.1V1106.6h1.1V1144h1.1V1140.3h1.1V1143.3h1.1V1139h1.1V1136.5h1.1V1159.8h1.1V1146.6h1.1V1156.7h1.1V1136.4h1.1V1133h1.1V1127.7h1.1V1165h1.1V1159.5h1.1V1142.4h1.1V1126.6h1.1V1134.6h1.1V1160.8h1.1V1116.4h1.1V1145.4h1.1V1177.9h1.1V1164.2h1.1V1133.1h1.1V1171.5h1.1V1176.7h1.1V1153.9h1.1V1147.9h1.1V1158.7h1.1V1169.8h1.1V1158.6h1.1V1134.7h1.1V1156.4h1.1V1138.5h1.1V1136.1h1.1V1138.7h1.1"/>
<path d="M1262 1131h1.1V1165.3h1.1V1155h1.1V1157.1h1.1V1152.9h1.1V1184.7h1.1V1116.8h1.1V1148.3h1.1V1153.5h1.1V1143.7h1.1V1149.4h1.1V1164.1h1.1V1152.4h1.1V1146h1.1V1152.6h1.1V1165h1.1V1173.8h1.1V1147.1h1.1V1157.1h1.1V1172.6h1.1V1141.5h1.1V1193.2h1.1V1159.9h1.1V1133.5h1.1V1174.6h1.1V1149.5h1.1V1167.9h1.1V1156h1.1V1153.3h1.1V1190.6h1.1V1175.4h1.1V1164h1.1V1177.3h1.1V1142.7h1.1V1164.5h1.1V1208h1.1V1138.8h1.1V1161h1.1V1162.6h1.1V1141.6h1.1V1157.4h1.1V1149.4h1.1V1138.2h1.1V1173.6h1.1V1156h1.1V1152h1.1V1164.5h1.1V1159.4h1.1V1157.2h1.1V1162h1.1V1174.8h1.1V1164.9h1.1V1163.4h1.1V1141.1h1.1V1149.3h1.1V1146.2h1.1V1148.7h1.1V1160.8h1.1V1158.5h1.1V1148.4h1.1V1156.2h1.1V1164.7h1.1V1150.8h1.1V1147.2h1.1V1175.5h1.1V1162.4h1.1V1158.9h1.1V1171.2h1.1V1174.8h1.1V1149.6h1.1V1148.1h1.1V1173.3h1.1V1164.5h1.1V1165.9h1.1V1171.4h1.1V1168.8h1.1V1144.6h1.1V1182.7h1.1V1155.9h1.1V1174.7h1.1V1151.4h1.1V1173.9h1.1V1155.9h1.1V1157.3h1.1V1148.3h1.1V1167.8h1.1V1148.3h1.1V1177.1h1.1V1155.5h1.1V1141.3h1.1V1158.5h1.1V1145.7h1.1V1149.4h1.1V1162h1.1V1148.8h1.1V1159.3h1.1V1143.9h1.1V1155.9h1.1V1152.2h1.1V1137.3h1.1V1129.9h1.1V1142.3h1.1V1142.7h1.1V1136.2h1.1V1149.7h1.1V1135.9h1.1V1155.8h1.1V1158.6h1.1V1151.5h1.1V1140.1h1.1V1157.4h1.1V1153.4h1.1V1120.4h1.1V1138h1.1V1137.8h1.1V1130.2h1.1V1150.9h1.1V1144.1h1.1V1156.6h1.1V1133.6h1.1V1126.2h1.1V1148.7h1.1V1142.7h1.1V1142.9h1.1V1153.7h1.1V1142h1.1V1149.4h1.1V1142.1h1.1V1135h1.1V1153h1.1V1146.6h1.1V1144.3h1.1V1168.3h1.1V1124.8h1.1V1165.3h1.1V1138.4h1.1V1136.7h1.1V1149.1h1.1V1142h1.1V1145.1h1.1V1136h1.1V1140.4h1.1V1140h1.1V1156.3h1.1V1129.7h1.1V1153.1h1.1V1126.6h1.1V1141.8h1.1V1137.6h1.1V1131.9h1.1V1133.5h1.1V1136.6h1.1V1147.9h1.1V1143.9h1.1V1144h1.1V1134.1h1.1V1139.2h1.1V1164.9h1.1V1127h1.1V1146.4h1.1V1119.3h1.1V1139.3h1.1V1121.6h1.1V1129.3h1.1V1135.4h1.1V1133.6h1.1V1142.7h1.1V1119.1h1.1V1130.4h1.1V1137.6h1.1V1139h1.1V1114.9h1.1V1125.6h1.1V1125.6h1.1V1122.3h1.1V1113.8h1.1V1132.5h1.1V1116.8h1.1V1116.2h1.1V1120.9h1.1V1120.2h1.1V1130.7h1.1V1124.9h1.1V1121.5h1.1V1121.3h1.1V1122.6h1.1V1109.9h1.1V1114.8h1.1V1105.3h1.1V1117.5h1.1V1121.6h1.1V1111.7h1.1V1119.2h1.1V1125.4h1.1V1111.9h1.1V1117.1h1.1V1116.6h1.1V1106.9h1.1V1112.6h1.1V1110.2h1.1V1115.8h1.1V1113.5h1.1V1111.5h1.1V1118.2h1.1V1117.5h1.1V1108.1h1.1V1112.3h1.1V1112.4h1.1V1107.2h1.1V1119.9h1.1V1102h1.1V1113.6h1.1V1111.9h1.1V1116.5h1.1V1122h1.1V1117.6h1.1V1114.1h1.1V1099.2h1.1V1108.5h1.1V1099.6h1.1V1116.6h1.1V1105.7h1.1V1117.1h1.1V1113.2h1.1V1110.7h1.1V1095.9h1.1V1110h1.1V1112.8h1.1V1111.8h1.1V1117.7h1.1V1110.5h1.1V1111h1.1V1117.5h1.1V1117h1.1V1107.2h1.1V1114.2h1.1V1110.5h1.1V1110.8h1.1V1111.2h1.1V1111.6h1.1V1112.9h1.1V1109.5h1.1V1104.6h1.1V1105.5h1.1V1113h1.1V1110.3h1.1V1121.8h1.1V1122.7h1.1V1105.5h1.1V1117.7h1.1V1108.9h1.1V1107.3h1.1V1107.9h1.1V1115.1h1.1V1112.9h1.1V1107.9h1.1V1112.3h1.1V1119.5h1.1V1111.2h1.1V1109.3h1.1V1117.7h1.1V1105.5h1.1V1113.7h1.1V1106.1h1.1V1110.3h1.1V1110.5h1.1V1113.7h1.1V1106.4h1.1V1109.8h1.1V1116.8h1.1V1114h1.1V1114.4h1.1V1107.8h1.1V1120.4h1.1V1116.5h1.1V1112.9h1.1V1117.2h1.1V1110h1.1V1114.7h1.1V1112h1.1V1110.3h1.1V1115.2h1.1V1116h1.1V1115.3h1.1V1111.8h1.1V1113.6h1.1V1116.6h1.1V1109.5h1.1V1113.7h1.1V1108.1h1.1V1109.3h1.1V1109.5h1.1V1111.8h1.1V1107.1h1.1V1117.2h1.1V1113.2h1.1V1113.9h1.1V1114.9h1.1V1118.8h1.1V1107.8h1.1V1111.6h1.1V1114.9h1.1V1113h1.1V1108.2h1.1V1114.3h1.1V1111.8h1.1V1112h1.1V1118h1.1V1109.5h1.1V1116.7h1.1V1117.2h1.1V1103.9h1.1V1117.4h1.1V1113.8h1.1V1107.9h1.1V1107h1.1V1114.8h1.1V1112.6h1.1V1112.9h1.1V1115.4h1.1V1107.7h1.1V1110h1.1V1113.1h1.1V1110.9h1.1V1112h1.1V1114.5h1.1V1110.2h1.1V1102.8h1.1V1104.9h1.1V1098.3h1.1V1103.6h1.1V1105.7h1.1V1096h1.1V1100.7h1.1V1098.8h1.1V1092h1.1V1096.6h1.1V1098.2h1.1V1095.1h1.1V1096.1h1.1V1095h1.1V1090.5h1.1V1086.7h1.1V1086.2h1.1V1079.5h1.1V1081.5h1.1V1081.9h1.1V1085.9h1.1V1088.1h1.1V1088.2h1.1V1088.7h1.1V1087.6h1.1V1090.2h1.1V1088.1h1.1V1086.7h1.1V1090.9h1.1V1084.4h1.1V1084h1.1V1081.1h1.1V1084.8h1.1V1078.9h1.1V1079.7h1.1V1077.5h1.1V1080.9h1.1V1076.9h1.1V1075.5h1.1V1068.1h1.1V1053.3h1.1V1042.1h1.1V1023.6h1.1V1024.8h1.1V1042.1h1.1V1059.7h1.1V1041.1h1.1V1020.7h1.1V1005.1h1.1V1010.2h1.1V1027.7h1.1V1039.8h1.1V1057.5h1.1V1069.5h1.1V1095.4h1.1V1123.6h1.1V1138.2h1.1V1122.5h1.1V1105.2h1.1V1110.7h1.1V1135.1h1.1V1129.7h1.1V1109h1.1V1097.9h1.1V1080.4h1.1V1079.6h1.1V1074.8h1.1V1077.3h1.1V1075.7h1.1V1077.9h1.1V1080h1.1V1082.3h1.1V1081.4h1.1V1082.3h1.1V1083.3h1.1V1078.8h1.1V1084.5h1.1V1087.5h1.1V1084.1h1.1V1091.1h1.1V1090h1.1V1088.6h1.1V1092.9h1.1V1090.9h1.1V1091.1h1.1V1090.9h1.1V1091h1.1V1101.7h1.1V1107.3h1.1V1109.9h1.1V1102.6h1.1V1100.7h1.1V1095.7h1.1V1094.5h1.1V1090h1.1V1095.1h1.1V1095.7h1.1V1092.2h1.1V1097.3h1.1V1092.2h1.1V1096.9h1.1V1097.8h1.1V1095.5h1.1V1092.3h1.1V1097.8h1.1V1093.4h1.1V1093.6h1.1V1096.6h1.1V1100.5h1.1V1095.2h1.1V1097h1.1V1097h1.1V1095.5h1.1V1099.4h1.1V1097.9h1.1V1095.1h1.1V1092.2h1.1V1093.2h1.1V1093.3h1.1V1093h1.1V1091.2h1.1V1092.3h1.1V1088.4h1.1V1088.4h1.1V1088.8h1.1V1088h1.1V1088.3h1.1V1087h1.1V1089.3h1.1V1084.2h1.1V1086.7h1.1V1086.1h1.1V1089.9h1.1V1090.4h1.1V1088.9h1.1V1089h1.1V1088.2h1.1V1090.1h1.1V1091.4h1.1V1091.3h1.1V1087.4h1.1V1088.2h1.1V1088.8h1.1V1088.7h1.1V1090.5h1.1V1087.2h1.1V1087h1.1V1090h1.1V1087.7h1.1V1089.4h1.1V1088.8h1.1V1091h1.1V1087.6h1.1V1091h1.1V1088.5h1.1V1090.9h1.1V1086.2h1.1V1088.5h1.1V1093.2h1.1V1091.9h1.1V1089.6h1.1V1093.1h1.1V1097h1.1V1097.3h1.1V1096.6h1.1V1096.6h1.1V1095.9h1.1V1089.4h1.1V1095.3h1.1V1096h1.1V1099.4h1.1V1099.9h1.1V1101h1.1V1100.6h1.1V1096.8h1.1V1097.8h1.1V1094.6h1.1V1096.3h1.1V1097.9h1.1V1100.2h1.1V1097.8h1.1V1094h1.1V1095.5h1.1V1091.5h1.1V1103h1.1V1110.6h1.1V1124.9h1.1V1117h1.1V1114.2h1.1V1111h1.1V1108.8h1.1V1101.3h1.1V1098.6h1.1V1097.9h1.1V1096.3h1.1V1093.5h1.1V1098.5h1.1V1091.6h1.1V1096.8h1.1V1094.3h1.1V1090.3h1.1V1089.8h1.1V1091.5h1.1V1091.8h1.1V1087.8h1.1V1086.8h1.1V1088.9h1.1V1089.7h1.1V1087.2h1.1V1085.3h1.1V1082.7h1.1V1080.8h1.1V1086h1.1V1083.3h1.1V1084.7h1.1V1078.1h1.1V1084h1.1V1085.1h1.1V1084.7h1.1V1079h1.1V1081.1h1.1V1077.4h1.1V1078.8h1.1V1075.6h1.1V1076.9h1.1V1072.5h1.1V1064.6h1.1V1060.4h1.1V1065.4h1.1V1061.7h1.1V1066h1.1V1065.9h1.1V1064.3h1.1V1064h1.1V1062.1h1.1V1061.2h1.1V1062.4h1.1V1058.6h1.1V1060.3h1.1V1063.7h1.1V1062.8h1.1V1056.4h1.1V1062.2h1.1V1056.2h1.1V1063.1h1.1V1060.7h1.1V1058.3h1.1V1060.7h1.1V1060.9h1.1V1062.7h1.1V1054h1.1V1060.2h1.1V1058.4h1.1V1057.1h1.1V1054h1.1V1052.6h1.1V1051.4h1.1V1050.3h1.1V1048.9h1.1V1052.2h1.1V1043h1.1V1043.2h1.1V1045.3h1.1V1044h1.1V1046.6h1.1V1047.7h1.1V1048.3h1.1V1042.8h1.1V1047.4h1.1V1042.7h1.1V1044.7h1.1V1045.9h1.1V1044.2h1.1V1045.7h1.1V1044.5h1.1V1047.9h1.1V1056.2h1.1V1049.7h1.1V1048.7h1.1V1051.1h1.1V1050.7h1.1V1045.3h1.1V1044.1h1.1V1050.2h1.1V1047.1h1.1V1041.8h1.1V1046.4h1.1V1040.3h1.1V1044h1.1V1035.9h1.1V1042.3h1.1V1046.5h1.1V1042.8h1.1V1042.2h1.1V1038.3h1.1V1042h1.1V1041.5h1.1V1039.1h1.1V1040.5h1.1V1039.7h1.1V1037.2h1.1V1038.1h1.1V1041.2h1.1V1046.8h1.1V1042.6h1.1V1043.6h1.1V1043.9h1.1"/>
</g>
<line x1="1092.3" y1="1226.8" x2="1944.5" y2="1226.8" stroke="#555" stroke-width="1.5" stroke-dasharray="4.6 17.16"/>
<line x1="1673.2" y1="1256.6" x2="1673.2" y2="932.3" stroke="#0000ff" stroke-width="1.6" stroke-dasharray="31 31"/>
<text class="lb" x="1681.3" y="962.1" fill="#0000ff" font-size="22.5" word-spacing="7" textLength="51.6" lengthAdjust="spacing">Mg II</text>
<text class="lb" x="1621.3" y="1154.4" fill="#ff0000" font-size="22.5" word-spacing="7" textLength="51.2" lengthAdjust="spacing">Mg II</text>
<text class="lb" x="1678.6" y="1227.6" fill="#ff0000" font-size="22.5" word-spacing="7" textLength="115.6" lengthAdjust="spacing">Mg II, Mg I</text>
<g stroke="#0000ff" stroke-width="1.6" fill="none"><circle cx="1825.8" cy="1145.1" r="7.5"/><line x1="1818.3" y1="1145.1" x2="1833.3" y2="1145.1"/><line x1="1825.8" y1="1137.6" x2="1825.8" y2="1152.6"/></g>
<path d="M1672.4 1089V1117H1677.1V1089M1684.3 1153.9V1190.4H1719.8V1153.9M1688.3 1153.9V1190.4" stroke="#ff0000" stroke-width="1.5" fill="none"/>
<path d="M1147.6 1256.6v-7M1147.6 932.3v7M1202.5 1256.6v-7M1202.5 932.3v7M1257.5 1256.6v-7M1257.5 932.3v7M1312.5 1256.6v-13.3M1312.5 932.3v13.3M1367.5 1256.6v-7M1367.5 932.3v7M1422.5 1256.6v-7M1422.5 932.3v7M1477.4 1256.6v-7M1477.4 932.3v7M1532.4 1256.6v-7M1532.4 932.3v7M1587.4 1256.6v-13.3M1587.4 932.3v13.3M1642.4 1256.6v-7M1642.4 932.3v7M1697.4 1256.6v-7M1697.4 932.3v7M1752.3 1256.6v-7M1752.3 932.3v7M1807.3 1256.6v-7M1807.3 932.3v7M1862.3 1256.6v-13.3M1862.3 932.3v13.3M1917.3 1256.6v-7M1917.3 932.3v7M1093 1245.1h7M1958.5 1245.1h-7M1093 1226.8h13.3M1958.5 1226.8h-13.3M1093 1208.5h7M1958.5 1208.5h-7M1093 1190.2h7M1958.5 1190.2h-7M1093 1171.9h7M1958.5 1171.9h-7M1093 1153.7h7M1958.5 1153.7h-7M1093 1135.4h13.3M1958.5 1135.4h-13.3M1093 1117.1h7M1958.5 1117.1h-7M1093 1098.8h7M1958.5 1098.8h-7M1093 1080.5h7M1958.5 1080.5h-7M1093 1062.2h7M1958.5 1062.2h-7M1093 1043.9h13.3M1958.5 1043.9h-13.3M1093 1025.6h7M1958.5 1025.6h-7M1093 1007.4h7M1958.5 1007.4h-7M1093 989.1h7M1958.5 989.1h-7M1093 970.8h7M1958.5 970.8h-7M1093 952.5h13.3M1958.5 952.5h-13.3M1093 934.2h7M1958.5 934.2h-7" stroke="#000" stroke-width="1.8" fill="none"/>
<rect x="1093" y="932.3" width="865.5" height="324.3" stroke="#000" stroke-width="2" fill="none"/>
<text x="1312.5" y="1289.9" font-size="27.6" text-anchor="middle" textLength="67.1" lengthAdjust="spacingAndGlyphs">5000</text>
<text x="1587.4" y="1289.9" font-size="27.6" text-anchor="middle" textLength="67.1" lengthAdjust="spacingAndGlyphs">6000</text>
<text x="1862.3" y="1289.9" font-size="27.6" text-anchor="middle" textLength="67.1" lengthAdjust="spacingAndGlyphs">7000</text>
<text transform="translate(1074 1226.8) rotate(-90)" font-size="27.6" text-anchor="middle" textLength="16.4" lengthAdjust="spacingAndGlyphs">0</text>
<text transform="translate(1074 1135.4) rotate(-90)" font-size="27.6" text-anchor="middle" textLength="33.3" lengthAdjust="spacingAndGlyphs">50</text>
<text transform="translate(1074 1043.9) rotate(-90)" font-size="27.6" text-anchor="middle" textLength="50.2" lengthAdjust="spacingAndGlyphs">100</text>
<text transform="translate(1074 952.5) rotate(-90)" font-size="27.6" text-anchor="middle" textLength="50.2" lengthAdjust="spacingAndGlyphs">150</text>
<text transform="translate(1033 1094.4) rotate(-90)" font-size="27.6" text-anchor="middle" word-spacing="8" textLength="241" lengthAdjust="spacing">Flux density (μJy)</text>
<text x="1525.8" y="903.1" font-size="22" word-spacing="4" text-anchor="middle" textLength="396" lengthAdjust="spacing">IVS 0048+447 GN z=1.254 ± 0.001</text>
<clipPath id="c6"><rect x="83" y="1376.2" width="865.7" height="324.3"/></clipPath>
<g clip-path="url(#c6)" fill="none" stroke="#000" stroke-width="1.85" stroke-linejoin="round">
<path d="M82.5 1646.1h1V1652.2h1V1663.5h1V1647.3h1V1644.9h1V1644.2h1V1645.2h1V1650.4h1V1641.5h1V1633.9h1V1640.6h1V1640.2h1V1641.3h1V1631.6h1V1632.6h1V1655.4h1V1633.8h1V1622.1h1V1633.7h1V1631.4h1V1637.4h1V1611.6h1V1635.2h1V1631.4h1V1619.8h1V1620.5h1V1632.5h1V1623.3h1V1625.1h1V1634.9h1V1621.4h1V1627.1h1V1621.1h1V1618.9h1V1624.5h1V1617.4h1V1632.9h1V1620.6h1V1598.3h1V1618.6h1V1626h1V1612h1V1596.7h1V1614.6h1V1614.7h1V1619.9h1V1614.9h1V1618.7h1V1625.9h1V1600.5h1V1620h1V1616.7h1V1603.3h1V1616.1h1V1610.9h1V1612.7h1V1619.9h1V1609.7h1V1621.1h1V1615.4h1V1610.2h1V1613.7h1V1630h1V1615.9h1V1609h1V1618.1h1V1614.3h1V1616.8h1V1610.4h1V1604.6h1V1606.9h1V1607.8h1V1598.1h1V1608.5h1V1606.8h1V1607.9h1V1605.4h1V1615h1V1603.2h1V1602.6h1V1604.8h1V1607.5h1V1603.9h1V1599.5h1V1617.6h1V1599.5h1V1601.8h1V1616.2h1V1612.2h1V1606.8h1V1605h1V1595.2h1V1611h1V1612.8h1V1600.3h1V1599.9h1V1612.7h1V1614.8h1V1615.6h1V1606.2h1V1609.2h1V1615.6h1V1604.1h1V1598.5h1V1600.6h1V1606.2h1V1593.3h1V1590.9h1V1582.2h1V1602.8h1V1604.5h1V1584.9h1V1603.4h1V1609.4h1V1629h1V1594.3h1V1592.9h1V1582.9h1V1589.2h1V1575.7h1V1586.2h1V1588.8h1V1587.2h1V1592h1V1590.9h1V1585.2h1V1591h1V1574.9h1V1580.6h1V1580.1h1V1589.7h1V1584.5h1V1583h1V1583.9h1V1578h1V1576.7h1V1575.1h1V1579.1h1V1563.7h1V1578.2h1V1565.8h1V1569h1V1569.2h1V1563.6h1V1556h1V1563.5h1V1552.4h1V1553.8h1V1551.2h1V1550.5h1V1545.4h1V1537h1V1547.6h1V1537.6h1V1528.7h1V1527.4h1V1514.8h1V1502h1V1503.7h1V1496.3h1V1481.4h1V1477.1h1V1472.1h1V1459h1V1446h1V1459.1h1V1462.4h1V1472h1V1475.7h1V1478.8h1V1485.9h1V1479.8h1V1480.7h1V1495.2h1V1494.1h1V1496.4h1V1501.4h1V1504.3h1V1504.4h1V1503h1V1513.4h1V1514.2h1V1522.6h1V1519.7h1V1530.1h1V1538.7h1V1539.2h1V1539.4h1V1544h1V1545.3h1V1548.4h1V1556.1h1V1546.2h1V1558.2h1V1555.4h1V1549h1V1563.4h1V1558.6h1V1570.7h1V1559.2h1V1560h1V1562.9h1V1562.7h1V1571.7h1V1563h1V1568.8h1V1585.1h1V1568.8h1V1585.5h1V1577.7h1V1583.9h1V1581.7h1V1580h1V1575.6h1V1571.9h1V1578.8h1V1585.6h1V1576.1h1V1579.7h1V1572.2h1V1571.9h1V1580.8h1V1581.7h1V1577.4h1V1595.5h1V1578.6h1V1582.8h1V1568.7h1V1583.5h1V1573.3h1V1562.3h1V1573.8h1V1578.1h1V1572.9h1V1583.2h1V1583.5h1V1576.7h1V1571.5h1V1575.1h1V1582.8h1V1584.8h1V1589.5h1V1581.1h1V1575.2h1V1579.2h1V1571.7h1V1579.6h1V1584.3h1V1589.2h1V1575.6h1V1577.7h1V1585.8h1V1575.6h1V1584.7h1V1582.8h1V1580.8h1V1584.4h1V1581.7h1V1581.6h1V1586.1h1V1587.6h1V1586.4h1V1590.3h1V1595h1V1590.5h1V1593.6h1V1593.8h1V1597.5h1V1593.8h1V1595.1h1V1595.8h1V1594.9h1V1593.4h1V1594.8h1V1593.2h1V1593.4h1V1597.6h1V1596.6h1V1604.3h1V1605.9h1V1602.6h1V1597.1h1V1590.4h1V1606.1h1V1600.1h1V1601.4h1V1598.9h1V1600.7h1V1595.7h1V1597.1h1V1608.6h1V1604.2h1V1596.4h1V1596h1V1597h1V1602.9h1V1598.7h1V1602.9h1V1601.2h1V1596h1V1599.4h1V1598.9h1V1603.1h1V1598.5h1V1597.7h1V1593.2h1V1596.4h1V1600.4h1V1594.8h1V1596.5h1V1597.7h1V1589.8h1V1595.5h1V1597.2h1V1596.2h1V1595.1h1V1590.4h1V1583.3h1V1585h1V1584.8h1V1591.5h1V1583.8h1V1589.2h1V1584.2h1V1590.3h1V1588.4h1V1582.3h1V1578.4h1V1589.4h1V1586.1h1V1592.1h1V1586.5h1V1589.1h1V1584.7h1V1579.6h1V1581.2h1V1584.9h1V1585.4h1V1585.3h1V1584.6h1V1587.3h1V1581.4h1V1588.6h1V1585.4h1V1584.5h1V1587.6h1V1586.3h1V1586.8h1V1585.2h1V1581.1h1V1586h1V1588.8h1V1584.7h1V1587.3h1V1585.9h1V1589.4h1V1591.9h1V1587.5h1V1587.4h1V1585.9h1V1587.4h1V1589.6h1V1583h1V1594.2h1V1586.6h1V1586.2h1V1588.1h1V1587.3h1V1589.2h1V1594.1h1V1591h1V1585.6h1V1596.7h1V1586.3h1V1591.8h1V1590.8h1V1593.2h1V1590.8h1V1590.5h1V1592.3h1V1587.7h1V1592.6h1V1589.2h1V1592.5h1V1594.1h1V1595.7h1V1591.5h1V1597.6h1V1590.6h1V1596.4h1V1598.3h1V1590.7h1V1594.7h1V1597h1V1598.9h1V1598.8h1V1594.7h1V1596.3h1V1598.8h1V1595.2h1V1595h1V1597.3h1V1590.7h1V1593.8h1V1596.6h1V1595.1h1V1598.4h1V1594.8h1V1599.9h1V1598.9h1V1596.8h1V1595.6h1V1594.7h1V1596h1V1596.5h1V1593.6h1V1591.5h1V1594.1h1V1593.7h1V1597.5h1V1593.4h1V1597.1h1V1594.7h1V1597.3h1V1597.7h1V1598.4h1V1598.4h1V1597.4h1V1600.2h1V1596.4h1V1599.1h1V1600.2h1V1599.2h1V1599.6h1V1596.2h1V1600.3h1V1597.4h1V1600.8h1V1600.7h1V1601.9h1V1600.5h1V1596.6h1V1599.6h1V1598.9h1V1599.2h1V1602.9h1V1600.7h1V1598.4h1V1604.5h1V1600.3h1V1594h1V1590.8h1V1585.5h1V1578h1V1585.5h1V1589.8h1V1595.2h1V1597.5h1V1597.4h1V1598.8h1V1603.2h1V1601.3h1V1602.2h1V1600.1h1V1600.8h1V1596.4h1V1597.6h1V1599.5h1V1602.6h1V1598h1V1599.2h1V1604.1h1V1601.2h1V1603.1h1V1599.1h1V1595.1h1V1602.9h1V1601.1h1V1601.7h1V1597.9h1V1600h1V1601.5h1V1602.5h1V1601.3h1V1597.2h1V1604.4h1V1598.8h1V1601.4h1V1601.8h1V1602.9h1V1601h1V1600.9h1V1602.8h1V1599.2h1V1604h1V1602h1V1605.7h1V1597.7h1V1602.1h1V1604.8h1V1604.3h1V1598.7h1V1598.5h1V1603.2h1V1599.6h1V1603.4h1V1603.9h1V1603.4h1V1605.6h1V1607.9h1V1605.7h1V1603.1h1V1604.4h1V1601.3h1V1603.2h1V1606.1h1V1603.4h1V1597.3h1V1606.8h1V1606.4h1V1600.7h1V1600.3h1V1608.5h1V1603.5h1V1606.8h1V1600.5h1V1606h1V1602.9h1V1601.3h1V1603.4h1V1609.2h1V1607.1h1V1603.8h1V1598.8h1V1600.6h1V1602.7h1V1603.9h1V1603.1h1V1603.2h1V1600.3h1V1604.6h1V1601.3h1V1602.4h1V1604.1h1V1598h1V1598.7h1V1597.8h1V1602.9h1V1602.5h1V1601.4h1V1601.4h1V1601h1V1598.2h1V1599.9h1V1601.5h1V1601.9h1V1597.6h1V1596.9h1V1597.3h1V1600.8h1V1595.1h1V1598h1V1602.6h1V1599.5h1V1599.1h1V1601.2h1V1598h1V1600.6h1V1601.6h1V1600.9h1V1599.4h1V1604.5h1V1604.8h1V1604.5h1V1597.4h1V1604.4h1V1600.5h1V1603.2h1V1605.1h1V1600.3h1V1601.6h1V1600.9h1V1606.9h1V1601.5h1V1600.9h1V1602.4h1V1606.4h1V1600.1h1V1600.2h1V1595.7h1V1582.7h1V1575.5h1V1558h1V1567.7h1V1577.4h1V1588.8h1V1594.1h1V1598.5h1V1601.2h1V1605.7h1V1609.3h1V1603.9h1V1608.1h1V1604.1h1V1612.5h1V1603.2h1V1607.5h1V1610.9h1V1606h1V1603.9h1V1607.6h1V1605.3h1V1604.2h1V1604.8h1V1608.4h1V1604.5h1V1605.9h1V1608.2h1V1605.8h1V1608.1h1V1609.8h1V1607.9h1V1610.3h1V1608.6h1V1608h1V1609.5h1V1608.6h1V1609.5h1V1605.6h1V1612.2h1V1609.6h1V1613.6h1V1611.8h1V1609.5h1V1614.6h1V1613.6h1V1611h1V1608.6h1V1607.9h1V1607.8h1V1610.9h1V1609h1V1613.5h1V1612.3h1V1612.9h1V1613h1V1612.4h1V1609.7h1V1612h1V1613h1V1610.4h1V1616.9h1V1608.6h1V1605.1h1V1599.8h1V1593.5h1V1589.2h1V1582.3h1V1576h1V1585.7h1V1593.9h1V1603.2h1V1606.9h1V1610.2h1V1607.4h1V1608.9h1V1612.1h1V1604.1h1V1610.9h1V1613.4h1V1613.9h1V1615.2h1V1617.5h1V1615.4h1V1619h1V1618.5h1V1619.6h1V1618.4h1V1620.7h1V1621.7h1V1616.6h1V1618.8h1V1615h1V1613.4h1V1612.1h1V1611.3h1V1612.3h1V1612.3h1V1617.4h1V1611.1h1V1613.9h1V1608.7h1V1609.4h1V1606.3h1V1606.1h1V1610.9h1V1606.1h1V1603.6h1V1601.8h1V1603h1V1599.7h1V1600.1h1V1598.8h1V1593.8h1V1593h1V1594.5h1V1604.4h1V1602h1V1604.3h1V1598.7h1V1601.7h1V1599.6h1V1602.4h1V1601.3h1V1602.5h1V1597.6h1V1604.3h1V1604.2h1V1603.4h1V1605h1V1597h1V1601.5h1V1604.9h1V1602.3h1V1603.5h1V1602.6h1V1605.4h1V1605.8h1V1603.2h1V1599.8h1V1595.9h1V1602h1V1603.4h1V1604.7h1V1601h1V1600.3h1V1601.5h1V1599.7h1V1600.9h1V1603.3h1V1598.8h1V1603.7h1V1598.1h1V1602.4h1V1601.5h1V1596.7h1V1603.5h1V1598.2h1V1597h1V1603.2h1V1600.2h1V1597.7h1V1598.7h1V1598.8h1V1600h1V1599.5h1V1604.6h1V1601.6h1V1600.3h1V1599.9h1V1594.3h1V1599.3h1V1601.4h1V1594.4h1V1589.9h1V1589.2h1V1587.7h1V1589.8h1V1591.4h1V1591.5h1V1587.7h1V1594.7h1V1598h1V1595.3h1V1597h1V1594.8h1V1598.4h1V1596.5h1V1598.5h1V1595.7h1V1597.2h1V1601.1h1V1595.6h1V1597.9h1V1596.7h1V1599.2h1V1597.8h1V1592.1h1V1595.9h1V1593.2h1V1597.2h1V1597.7h1V1595.7h1V1596.2h1V1595.9h1V1595.1h1V1598.2h1V1600h1V1597.3h1V1596.3h1V1595.7h1V1599.6h1V1598.1h1V1593.6h1V1603.3h1V1595.4h1V1599.4h1V1594.3h1V1597.4h1V1597.1h1V1597.3h1V1591.9h1V1601.9h1V1598.5h1V1598.8h1V1598.2h1V1595.9h1V1601.1h1V1595.8h1V1599.4h1V1596h1V1598.6h1V1594.6h1V1599.7h1V1596.1h1V1591.9h1V1596.8h1V1602.6h1V1598.4h1V1593.5h1V1598.1h1V1593.3h1V1598.1h1V1598.6h1V1595.4h1V1594.5h1V1595.8h1V1600.1h1V1592.8h1V1594.9h1V1596.3h1V1595.7h1V1595h1V1598h1V1588.9h1V1596.8h1V1590.9h1V1595.5h1V1592.8h1V1592.3h1V1590.6h1V1590.8h1V1596.5h1V1593.1h1V1597.2h1V1589.4h1V1595.5h1V1596.4h1V1594.3h1V1593.3h1V1594.6h1V1588.9h1V1604.9h1V1612.7h1V1625.3h1V1633.4h1V1641.9h1"/>
</g>
<line x1="82.3" y1="1670.8" x2="934.7" y2="1670.8" stroke="#555" stroke-width="1.5" stroke-dasharray="4.6 17.16"/>
<line x1="247.3" y1="1700.5" x2="247.3" y2="1376.2" stroke="#0000ff" stroke-width="1.6" stroke-dasharray="31 31"/>
<line x1="499.6" y1="1700.5" x2="499.6" y2="1376.2" stroke="#0000ff" stroke-width="1.6" stroke-dasharray="31 31"/>
<line x1="536.1" y1="1700.5" x2="536.1" y2="1376.2" stroke="#0000ff" stroke-width="1.6" stroke-dasharray="31 31"/>
<line x1="675.4" y1="1700.5" x2="675.4" y2="1376.2" stroke="#0000ff" stroke-width="1.6" stroke-dasharray="31 31"/>
<line x1="740.7" y1="1700.5" x2="740.7" y2="1376.2" stroke="#0000ff" stroke-width="1.6" stroke-dasharray="31 31"/>
<line x1="786.5" y1="1700.5" x2="786.5" y2="1376.2" stroke="#0000ff" stroke-width="1.6" stroke-dasharray="31 31"/>
<line x1="848.8" y1="1700.5" x2="848.8" y2="1376.2" stroke="#ff0000" stroke-width="1.6" stroke-dasharray="25.5 17.5 3 19.3"/>
<text class="lb" x="255.4" y="1406.1" fill="#0000ff" font-size="22.5" word-spacing="7" textLength="51.7" lengthAdjust="spacing">Mg II</text>
<text class="lb" x="507.6" y="1406.1" fill="#0000ff" font-size="22.5" word-spacing="7" textLength="68.3" lengthAdjust="spacing">[Ne V]</text>
<text class="lb" x="544.2" y="1435.9" fill="#0000ff" font-size="22.5" word-spacing="7" textLength="69" lengthAdjust="spacing">[Ne V]</text>
<text class="lb" x="684.1" y="1406.1" fill="#0000ff" font-size="22.5" word-spacing="7" textLength="54.8" lengthAdjust="spacing">[O II]</text>
<text class="lb" x="749.3" y="1406.1" fill="#0000ff" font-size="22.5" word-spacing="7" textLength="73" lengthAdjust="spacing">[Ne III]</text>
<text class="lb" x="795.1" y="1435.9" fill="#0000ff" font-size="22.5" word-spacing="7" textLength="72.5" lengthAdjust="spacing">[Ne III]</text>
<text class="lb" x="856.4" y="1406.1" fill="#ff0000" font-size="22.5" word-spacing="7" textLength="27.2" lengthAdjust="spacing">Hδ</text>
<g stroke="#0000ff" stroke-width="1.6" fill="none"><circle cx="755.8" cy="1645" r="7.5"/><line x1="748.3" y1="1645" x2="763.3" y2="1645"/><line x1="755.8" y1="1637.5" x2="755.8" y2="1652.5"/></g>
<g stroke="#0000ff" stroke-width="1.6" fill="none"><circle cx="945.5" cy="1649" r="7.5"/><line x1="938" y1="1649" x2="953" y2="1649"/><line x1="945.5" y1="1641.5" x2="945.5" y2="1656.5"/></g>
<path d="M109 1700.5v-7M109 1376.2v7M161.5 1700.5v-7M161.5 1376.2v7M213.9 1700.5v-7M213.9 1376.2v7M266.4 1700.5v-13.3M266.4 1376.2v13.3M318.9 1700.5v-7M318.9 1376.2v7M371.3 1700.5v-7M371.3 1376.2v7M423.8 1700.5v-7M423.8 1376.2v7M476.2 1700.5v-7M476.2 1376.2v7M528.7 1700.5v-13.3M528.7 1376.2v13.3M581.2 1700.5v-7M581.2 1376.2v7M633.6 1700.5v-7M633.6 1376.2v7M686.1 1700.5v-7M686.1 1376.2v7M738.5 1700.5v-7M738.5 1376.2v7M791 1700.5v-13.3M791 1376.2v13.3M843.5 1700.5v-7M843.5 1376.2v7M895.9 1700.5v-7M895.9 1376.2v7M83 1686.7h7M948.7 1686.7h-7M83 1670.8h13.3M948.7 1670.8h-13.3M83 1654.9h7M948.7 1654.9h-7M83 1639h7M948.7 1639h-7M83 1623.1h7M948.7 1623.1h-7M83 1607.3h7M948.7 1607.3h-7M83 1591.4h13.3M948.7 1591.4h-13.3M83 1575.5h7M948.7 1575.5h-7M83 1559.6h7M948.7 1559.6h-7M83 1543.7h7M948.7 1543.7h-7M83 1527.8h7M948.7 1527.8h-7M83 1511.9h13.3M948.7 1511.9h-13.3M83 1496h7M948.7 1496h-7M83 1480.2h7M948.7 1480.2h-7M83 1464.3h7M948.7 1464.3h-7M83 1448.4h7M948.7 1448.4h-7M83 1432.5h13.3M948.7 1432.5h-13.3M83 1416.6h7M948.7 1416.6h-7M83 1400.7h7M948.7 1400.7h-7M83 1384.8h7M948.7 1384.8h-7" stroke="#000" stroke-width="1.8" fill="none"/>
<rect x="83" y="1376.2" width="865.7" height="324.3" stroke="#000" stroke-width="2" fill="none"/>
<text x="266.4" y="1733.8" font-size="27.6" text-anchor="middle" textLength="67.1" lengthAdjust="spacingAndGlyphs">5000</text>
<text x="528.7" y="1733.8" font-size="27.6" text-anchor="middle" textLength="67.1" lengthAdjust="spacingAndGlyphs">6000</text>
<text x="791" y="1733.8" font-size="27.6" text-anchor="middle" textLength="67.1" lengthAdjust="spacingAndGlyphs">7000</text>
<text transform="translate(64 1670.8) rotate(-90)" font-size="27.6" text-anchor="middle" textLength="16.4" lengthAdjust="spacingAndGlyphs">0</text>
<text transform="translate(64 1591.4) rotate(-90)" font-size="27.6" text-anchor="middle" textLength="50.2" lengthAdjust="spacingAndGlyphs">100</text>
<text transform="translate(64 1511.9) rotate(-90)" font-size="27.6" text-anchor="middle" textLength="50.2" lengthAdjust="spacingAndGlyphs">200</text>
<text transform="translate(64 1432.5) rotate(-90)" font-size="27.6" text-anchor="middle" textLength="50.2" lengthAdjust="spacingAndGlyphs">300</text>
<text transform="translate(23 1538.3) rotate(-90)" font-size="27.6" text-anchor="middle" word-spacing="8" textLength="241" lengthAdjust="spacing">Flux density (μJy)</text>
<text x="515.9" y="1347" font-size="22" word-spacing="4" text-anchor="middle" textLength="423" lengthAdjust="spacing">IVS 0105+129 GN z=0.7600 ± 0.0002</text>
<clipPath id="c7"><rect x="1093" y="1376.2" width="865.5" height="324.3"/></clipPath>
<g clip-path="url(#c7)" fill="none" stroke="#000" stroke-width="1.85" stroke-linejoin="round">
<path d="M1092.5 1640h1V1563h1V1544.6h1V1546.3h1V1562.5h1V1518.6h1V1575.9h1V1633.6h1V1543h1V1540.4h1V1545h1V1571.4h1V1569.8h1V1560.6h1V1549.1h1V1570.7h1V1613h1V1539.2h1V1605.2h1V1603.2h1V1528h1V1523.8h1V1598.2h1V1550.7h1V1558.6h1V1581.1h1V1596.1h1V1568.9h1V1620.8h1V1600.4h1V1607.9h1V1577.4h1V1581.5h1V1580.6h1V1564.3h1V1542.8h1V1582.6h1V1566.8h1V1598.8h1V1524.4h1V1569.4h1V1578.1h1V1532.7h1V1559.2h1V1519.6h1V1527.9h1V1568.3h1V1533.5h1V1569.3h1V1568.3h1V1560.6h1V1564.6h1V1526.7h1V1557.2h1V1561.6h1V1596.5h1V1548.2h1V1573.1h1V1576h1V1546.8h1V1595.9h1V1585.2h1V1558.2h1V1553.9h1V1576h1V1591.9h1V1561.2h1V1584.9h1V1572.9h1V1565.6h1V1536.9h1V1567.3h1V1544.4h1V1564.6h1V1546.7h1V1546.7h1V1530.3h1V1526.3h1V1563.3h1V1556.6h1V1542h1V1555.6h1V1542.6h1V1566.6h1V1545.7h1V1585.4h1V1555.6h1V1548.9h1V1598.7h1V1565.8h1V1562.7h1V1580.6h1V1548.1h1V1524.2h1V1534.4h1V1570h1"/>
<path d="M1198.7 1570.6h1V1557.1h1V1533.7h1V1518.3h1V1563.7h1V1579.3h1V1555.5h1V1555.7h1V1503.9h1V1552.6h1V1544.7h1V1547.2h1V1527.1h1V1531.2h1V1505.7h1V1547.9h1V1555.8h1V1571.5h1V1513.2h1V1579.5h1V1558.6h1V1558.4h1V1540.5h1V1557.7h1V1572.3h1V1544.6h1V1562.1h1V1548h1V1557.3h1V1556h1V1558.2h1V1576.6h1V1559.4h1V1549.4h1V1590.9h1V1563.2h1V1538.8h1V1553.6h1V1578.6h1V1557.6h1V1561.9h1V1515.2h1V1559.5h1V1535.5h1V1549.3h1V1559.7h1V1552.8h1V1551.6h1V1537.9h1V1545h1V1499.1h1V1555.7h1V1536.6h1V1557.7h1V1537.8h1V1581.7h1V1509.8h1V1535.2h1V1564.1h1V1582.8h1V1552.9h1V1513.6h1V1516.3h1V1507.2h1V1548.4h1V1565.4h1V1529.8h1V1537.5h1V1553.2h1V1540.3h1V1529.9h1V1515.8h1V1537.6h1V1537h1V1533.6h1V1514.8h1V1531.5h1V1513.8h1V1499.2h1V1489.4h1V1496.6h1V1479h1V1483.9h1V1488.1h1V1482.6h1V1477.1h1V1463.2h1V1463.6h1V1468.5h1V1476h1V1467.2h1V1444h1V1471.1h1V1461.5h1V1468.2h1V1470.7h1V1465.5h1V1483.2h1V1484.9h1V1459.2h1V1462.5h1V1477.6h1V1486.2h1V1484.3h1V1493.7h1V1483h1V1506.7h1V1507.7h1V1519.4h1V1507.9h1V1498.3h1V1516.4h1V1490.7h1V1516.2h1V1491.5h1V1520.4h1V1518.2h1V1516.8h1V1512.8h1V1519.1h1V1523.8h1V1533.9h1V1531.7h1V1531.2h1V1536h1V1508.8h1V1541.5h1V1529.8h1V1536.5h1V1541.1h1V1537.4h1V1533.1h1V1540.5h1V1544.6h1V1522h1V1535h1V1530.5h1V1555.4h1V1531.4h1V1532h1V1544.1h1V1532.6h1V1525.2h1V1550.1h1V1526.3h1V1520.3h1V1539.3h1V1533.8h1V1532.2h1V1536.1h1V1516.3h1V1540.5h1V1517h1V1535.7h1V1517.8h1V1533.7h1V1533h1V1539.1h1V1509.3h1V1510.1h1V1520.8h1V1529.3h1V1533h1V1548.1h1V1503.5h1V1537.7h1V1529.4h1V1540h1V1520h1V1544h1V1515.6h1V1522.4h1V1527.7h1V1525.7h1V1563h1V1531.4h1V1519.8h1V1543.6h1V1526.4h1V1545.3h1V1545.5h1V1552.3h1V1532.8h1V1534.7h1V1530.3h1V1524.9h1V1523.2h1V1527h1V1530.5h1V1532.1h1V1536.8h1V1528.6h1V1526.9h1V1529.4h1V1535.7h1V1524h1V1538.5h1V1493.5h1V1520.5h1V1527.5h1V1540.3h1V1517.9h1V1551.9h1V1533.5h1V1550.1h1V1533.9h1V1513.7h1V1531.2h1V1522h1V1529.5h1V1522.6h1V1541.4h1V1536.6h1V1532.2h1V1534.2h1V1532.5h1V1514.7h1V1530.1h1V1521.9h1V1515.7h1V1509.8h1V1534.7h1V1526.8h1V1542h1V1513.6h1V1515.2h1V1515.2h1V1522.6h1V1534.6h1V1508.4h1V1522.3h1V1521.5h1V1506.9h1V1525.1h1V1510.1h1V1496.6h1V1514.9h1V1522.1h1V1508.1h1V1516.6h1V1508.7h1V1507.1h1V1510h1V1512.5h1V1509.1h1V1486.9h1V1501.3h1V1491.7h1V1504.2h1V1521.9h1V1503.4h1V1498.5h1V1495.9h1V1497.4h1V1498.6h1V1498.2h1V1512.1h1V1486.6h1V1478.1h1V1478.6h1V1480.8h1V1495.8h1V1498.3h1V1513.7h1V1475.2h1V1503.7h1V1493.3h1V1501.8h1V1492.1h1V1503.8h1V1495.6h1V1512.8h1V1490.4h1V1483.3h1V1502.4h1V1473.9h1V1490.2h1V1500h1V1490h1V1482.6h1V1507.1h1V1501.2h1V1480.3h1V1495.1h1V1496.2h1V1504.8h1V1483.1h1V1506.6h1V1510.4h1V1503.6h1V1509.3h1V1495h1V1506h1V1509.3h1V1512.1h1V1494h1V1505.3h1V1493.1h1V1515.7h1V1500.6h1V1492.2h1V1507.4h1V1511.7h1V1511.7h1V1495.5h1V1506h1V1500.8h1V1522.3h1V1523.1h1V1505h1V1508.3h1V1503.4h1V1513.9h1V1514.6h1V1513.4h1V1508.9h1V1511.7h1V1506.2h1V1506.7h1V1506.1h1V1519.1h1V1507h1V1496.7h1V1506.7h1V1489.2h1V1517.5h1V1511.4h1V1512.7h1V1509h1V1501.1h1V1532.6h1V1512.7h1V1506.1h1V1507.2h1V1508.6h1V1524.5h1V1515.9h1V1512.1h1V1494.8h1V1507.9h1V1512.1h1V1502.9h1V1501.7h1V1507.8h1V1518.4h1V1480.8h1V1501.4h1V1513h1V1503.7h1V1508.1h1V1509.4h1V1498h1V1516.9h1V1513.6h1V1506.8h1V1497.7h1V1500.1h1V1508.8h1V1518.2h1V1513h1V1498.2h1V1505.6h1V1509.2h1V1524.7h1V1515.8h1V1512.5h1V1501.4h1V1495.5h1V1497.5h1V1501.1h1V1514.3h1V1501.2h1V1528.2h1V1509.3h1V1510.3h1V1497.7h1V1517.4h1V1506.1h1V1510.2h1V1524.8h1V1510.1h1V1508.2h1V1511.6h1V1506.4h1V1521.3h1V1505.8h1V1523.7h1V1505.8h1V1507.6h1V1511.4h1V1509.9h1V1524.3h1V1506.8h1V1509.9h1V1525.9h1V1508.8h1V1504.4h1V1497.6h1V1501.9h1V1513.5h1V1509.2h1V1502.2h1V1497.2h1V1498.1h1V1492.9h1V1483.6h1V1479.8h1V1481.5h1V1489.5h1V1501.9h1V1492.5h1V1490.6h1V1494.7h1V1503h1V1496.9h1V1493h1V1492.4h1V1495.1h1V1496.8h1V1505h1V1490.2h1V1499.2h1V1502.1h1V1487.9h1V1489.8h1V1495.3h1V1496.4h1V1487.8h1V1500.9h1V1496.6h1V1493.1h1V1496.1h1V1514.5h1V1498.3h1V1490.7h1V1496.1h1V1489.1h1V1492.1h1V1494.6h1V1500.4h1V1500.2h1V1498.6h1V1502.3h1V1511.2h1V1489.9h1V1486.8h1V1502.1h1V1500.1h1V1485.2h1V1509.3h1V1491.8h1V1492.6h1V1509.1h1V1497.1h1V1501.7h1V1491.3h1V1509h1V1497.1h1V1495.7h1V1497h1V1506.9h1V1492.2h1V1502.9h1V1511.6h1V1514.1h1V1484.6h1V1480.6h1V1492.8h1V1495.3h1V1508.5h1V1494h1V1504.8h1V1502.3h1V1489.4h1V1511.8h1V1492.8h1V1487h1V1487.6h1V1491.5h1V1489.4h1V1492.9h1V1498.1h1V1482.6h1V1507h1V1505.8h1V1505.5h1V1493.4h1V1506.3h1V1501.2h1V1495.6h1V1490.2h1V1502.4h1V1491.1h1V1500.3h1V1489.4h1V1482.7h1V1507.5h1V1490.1h1V1502.5h1V1505h1V1505.7h1V1495.6h1V1498.3h1V1494.2h1V1495.6h1V1484.1h1V1511.9h1V1505.6h1V1505h1V1503.9h1V1492.6h1V1501h1V1504.1h1V1500.7h1V1503.8h1V1500.6h1V1502.5h1V1512.9h1V1493.3h1V1498.1h1V1485.6h1V1487.8h1V1504h1V1506.9h1V1501.5h1V1492.3h1V1477.6h1V1491.9h1V1507.2h1V1511.2h1V1498.8h1V1503.6h1V1508.8h1V1497.2h1V1513.6h1V1492h1V1510.8h1V1504.5h1V1504.2h1V1496.3h1V1498.3h1V1494.1h1V1508.2h1V1509.5h1V1497h1V1501.3h1V1499.6h1V1510.3h1V1489.3h1V1517h1V1487.9h1V1497.9h1V1502.1h1V1498.5h1V1499.1h1V1497.2h1V1483.6h1V1477.4h1V1481.1h1V1493.1h1V1502.2h1V1507.1h1V1507.3h1V1512.8h1V1503.8h1V1510.3h1V1509.1h1V1510.5h1V1503.2h1V1502.5h1V1528.8h1V1520.5h1V1504.8h1V1518.1h1V1503.7h1V1512.7h1V1510.9h1V1498.1h1V1520.6h1V1518.7h1V1506.7h1V1506.6h1V1527.9h1V1513h1V1512.2h1V1511h1V1507.5h1V1498.6h1V1520.4h1V1516.9h1V1501h1V1509.4h1V1519.3h1V1517.2h1V1504.6h1V1505.4h1V1518.9h1V1522.2h1V1524.1h1V1515h1V1522.7h1V1514.3h1V1515.6h1V1523.3h1V1512.5h1V1511.2h1V1511.8h1V1512.8h1V1518h1V1517.4h1V1517.8h1V1526.6h1V1532.7h1V1528.6h1V1524.8h1V1499.8h1V1503.2h1V1510.1h1V1512h1V1521.4h1V1519.2h1V1532.5h1V1528.1h1V1520h1V1510.5h1V1500.9h1V1487.7h1V1487.8h1V1482.1h1V1492.1h1V1499.3h1V1506.4h1V1513.7h1V1509.4h1V1521.4h1V1514.2h1V1545.9h1V1519.8h1V1554.7h1V1531h1V1503.8h1V1537.8h1V1548.3h1V1539.8h1V1547.5h1V1541.5h1V1532.2h1V1539.7h1V1552.5h1V1523.4h1V1530.5h1V1515.1h1V1557.2h1V1531.5h1V1540.5h1V1544.5h1V1541.9h1V1527.6h1V1520h1V1548.7h1V1547.3h1V1545.8h1V1529.5h1V1552.4h1V1525h1V1534.9h1V1532.2h1V1534.1h1V1549.5h1V1532h1V1539.2h1V1537h1V1558.1h1V1542.9h1V1535.6h1V1529.9h1V1529.5h1V1545.9h1V1532.6h1V1529.3h1V1538.9h1V1534h1V1531.2h1V1538h1V1542.2h1V1530h1V1538.1h1V1531.5h1V1523.2h1V1551h1V1530.8h1V1533.8h1V1535.5h1V1534.6h1V1539.4h1V1533.5h1V1532.7h1V1537.9h1V1531.3h1V1516.6h1V1527.8h1V1527.5h1V1515.9h1V1552.9h1V1528.2h1V1542.1h1V1533.3h1V1535.3h1V1538.2h1V1522.8h1V1519h1V1524.5h1V1525.1h1V1522h1V1513.7h1V1536.5h1V1534.8h1V1525.5h1V1520.8h1V1518.7h1V1507.4h1V1522.4h1V1526.2h1V1518.3h1V1512.2h1V1521.2h1V1499.2h1V1514.5h1V1511.3h1V1496.2h1V1507.9h1V1512h1V1506.3h1V1522h1V1495.7h1V1512.3h1V1525.8h1V1514.1h1V1523h1V1516.4h1V1531.2h1V1532.1h1V1507.8h1V1511.2h1V1523.8h1V1505.2h1V1509.9h1V1513.1h1V1513.3h1V1499.4h1V1498.8h1V1524.5h1V1514.6h1V1510.3h1V1533.1h1V1515.7h1V1532.8h1V1541.6h1V1518.8h1V1536.5h1V1528.6h1"/>
</g>
<line x1="1092.3" y1="1670.8" x2="1944.5" y2="1670.8" stroke="#555" stroke-width="1.5" stroke-dasharray="4.6 17.16"/>
<line x1="1289.8" y1="1700.5" x2="1289.8" y2="1376.2" stroke="#0000ff" stroke-width="1.6" stroke-dasharray="31 31"/>
<line x1="1604.7" y1="1700.5" x2="1604.7" y2="1376.2" stroke="#ff0000" stroke-width="1.6" stroke-dasharray="25.5 17.5 3 19.3"/>
<line x1="1756" y1="1700.5" x2="1756" y2="1376.2" stroke="#0000ff" stroke-width="1.6" stroke-dasharray="31 31"/>
<line x1="1827.6" y1="1700.5" x2="1827.6" y2="1376.2" stroke="#0000ff" stroke-width="1.6" stroke-dasharray="31 31"/>
<text class="lb" x="1298.7" y="1406.1" fill="#0000ff" font-size="22.5" word-spacing="7" textLength="50.9" lengthAdjust="spacing">Mg II</text>
<text class="lb" x="1613.4" y="1406.1" fill="#ff0000" font-size="22.5" word-spacing="7" textLength="68.9" lengthAdjust="spacing">[Ne V]</text>
<text class="lb" x="1766" y="1406.1" fill="#0000ff" font-size="22.5" word-spacing="7" textLength="54.8" lengthAdjust="spacing">[O II]</text>
<text class="lb" x="1837.1" y="1406.1" fill="#0000ff" font-size="22.5" word-spacing="7" textLength="73" lengthAdjust="spacing">[Ne III]</text>
<g stroke="#0000ff" stroke-width="1.6" fill="none"><circle cx="1862.3" cy="1575" r="7.5"/><line x1="1854.8" y1="1575" x2="1869.8" y2="1575"/><line x1="1862.3" y1="1567.5" x2="1862.3" y2="1582.5"/></g>
<path d="M1150.8 1700.5v-7M1150.8 1376.2v7M1208.5 1700.5v-7M1208.5 1376.2v7M1266.2 1700.5v-7M1266.2 1376.2v7M1323.9 1700.5v-13.3M1323.9 1376.2v13.3M1381.6 1700.5v-7M1381.6 1376.2v7M1439.3 1700.5v-7M1439.3 1376.2v7M1497 1700.5v-7M1497 1376.2v7M1554.7 1700.5v-7M1554.7 1376.2v7M1612.4 1700.5v-13.3M1612.4 1376.2v13.3M1670.1 1700.5v-7M1670.1 1376.2v7M1727.8 1700.5v-7M1727.8 1376.2v7M1785.5 1700.5v-7M1785.5 1376.2v7M1843.2 1700.5v-7M1843.2 1376.2v7M1900.9 1700.5v-13.3M1900.9 1376.2v13.3M1093 1698.4h7M1958.5 1698.4h-7M1093 1670.8h13.3M1958.5 1670.8h-13.3M1093 1643.2h7M1958.5 1643.2h-7M1093 1615.6h7M1958.5 1615.6h-7M1093 1587.9h7M1958.5 1587.9h-7M1093 1560.3h7M1958.5 1560.3h-7M1093 1532.7h13.3M1958.5 1532.7h-13.3M1093 1505.1h7M1958.5 1505.1h-7M1093 1477.5h7M1958.5 1477.5h-7M1093 1449.8h7M1958.5 1449.8h-7M1093 1422.2h7M1958.5 1422.2h-7M1093 1394.6h13.3M1958.5 1394.6h-13.3" stroke="#000" stroke-width="1.8" fill="none"/>
<rect x="1093" y="1376.2" width="865.5" height="324.3" stroke="#000" stroke-width="2" fill="none"/>
<text x="1323.9" y="1733.8" font-size="27.6" text-anchor="middle" textLength="67.1" lengthAdjust="spacingAndGlyphs">5000</text>
<text x="1612.4" y="1733.8" font-size="27.6" text-anchor="middle" textLength="67.1" lengthAdjust="spacingAndGlyphs">6000</text>
<text x="1900.9" y="1733.8" font-size="27.6" text-anchor="middle" textLength="67.1" lengthAdjust="spacingAndGlyphs">7000</text>
<text transform="translate(1074 1670.8) rotate(-90)" font-size="27.6" text-anchor="middle" textLength="16.4" lengthAdjust="spacingAndGlyphs">0</text>
<text transform="translate(1074 1532.7) rotate(-90)" font-size="27.6" text-anchor="middle" textLength="33.3" lengthAdjust="spacingAndGlyphs">50</text>
<text transform="translate(1074 1394.6) rotate(-90)" font-size="27.6" text-anchor="middle" textLength="50.2" lengthAdjust="spacingAndGlyphs">100</text>
<text transform="translate(1033 1538.3) rotate(-90)" font-size="27.6" text-anchor="middle" word-spacing="8" textLength="241" lengthAdjust="spacing">Flux density (μJy)</text>
<text x="1525.8" y="1347" font-size="22" word-spacing="4" text-anchor="middle" textLength="423" lengthAdjust="spacing">IVS 0117−171 GS z=0.7440 ± 0.0005</text>
<clipPath id="c8"><rect x="83" y="1820.1" width="865.7" height="324.3"/></clipPath>
<g clip-path="url(#c8)" fill="none" stroke="#000" stroke-width="1.85" stroke-linejoin="round">
<path d="M82.5 1924.9h1V2016.8h1V1994.7h1V2085.1h1V2041.8h1V2023.8h1V1988.9h1V1927h1V2068.3h1V1990.6h1V1888h1V2054h1V2101.4h1V2034.7h1V2016.1h1V2054.8h1V2148h1V2038.7h1V2041.1h1V2044h1V1932h1V2065.9h1V2044.3h1V2012.7h1V2034.1h1V2058.5h1V2038.4h1V2101.9h1V2148h1V2044.9h1V1984h1V2098.6h1V1994.6h1V2037.6h1V2000.3h1V2016.9h1V2108h1V1990.8h1V1996h1V2019.5h1V2013.4h1V1988h1V2030.1h1V2040.9h1V2051.8h1V2038.4h1V2015.3h1V2061.1h1V2007.7h1V2032h1V1987.8h1V2019.9h1V2054.6h1V2009.8h1V2057.4h1V2050.4h1V2029.6h1V2038.5h1V2041.1h1V2034.2h1V2005.8h1V2041.9h1V2032.1h1V2071.3h1V2002.4h1V2027.4h1V2047h1V2058.3h1V2023.5h1V2048.7h1V2056.8h1V2034.8h1V2023.3h1V2009.4h1V2042.5h1V2045.4h1V2041.1h1V2064.9h1V2010.2h1V2070h1V2028.7h1V2003.1h1V2019.8h1V2025h1V2017.3h1V1983h1V2016.7h1V2055.6h1V2034.1h1V2063.2h1V2033.2h1V2059.2h1V2039.6h1V2018.1h1V2055.7h1V2035.3h1V2042h1V2048.2h1V2037.5h1V2044.9h1V2028.4h1V2018.4h1V2037.1h1V2038.5h1V2050.2h1V2026.2h1V2026.1h1V2012h1V2043.2h1V2033.7h1V2054.2h1V2047.9h1V2047.5h1V2007.2h1V2044.5h1V2015.6h1V2027.3h1V2030.2h1V2052.2h1V2025.8h1V2035.7h1V2043.1h1V2044.4h1V2034.2h1V2032h1V2070.5h1V2024.3h1V2026.9h1V2027.1h1V2040.9h1V2038h1V2033.7h1V2007.3h1V2056.6h1V2047.1h1V2045.2h1V2027.3h1V2036.9h1V2044.3h1V2039.1h1V2061.4h1V2045.1h1V2033.2h1V2051h1V2038.8h1V2030.3h1V2036.8h1V2047.4h1V2053.7h1V2054.3h1V2051.8h1V2054.2h1V2042.4h1V2048h1V2052.9h1V2035.5h1V2041.7h1V2037.4h1V2034.3h1V2021.5h1V2038.5h1V2052h1V2033.8h1V2030.9h1V2040h1V2037h1V2040.5h1V2046.9h1V2034.2h1V2048.8h1V2031.7h1V2038.8h1V2043.5h1V2044h1V2050.4h1V2042.7h1V2033.5h1V2027.7h1V2048.1h1V2027.5h1V2033h1V2040.8h1V2037.2h1V2023h1V2050.1h1V2040.7h1V2039.1h1V2046.2h1V2045.9h1V2052.9h1V2045.3h1V2039.8h1"/>
<path d="M273.9 2039h1V2038.1h1V2037.1h1V2036.2h1V2035.2h1V2034.3h1V2033.3h1V2032.4h1V2031.5h1V2030.5h1V2029.6h1"/>
<path d="M284.5 2041.5h1V2030h1V2013.9h1V2045.4h1V2039.5h1V2035.7h1V2026.9h1V2026.4h1V2031.5h1V2032.5h1V2040.9h1V2038.5h1V2021.5h1V2034.8h1V2030.8h1V2025.5h1V2036.6h1V2038.1h1V2045.7h1V2016.4h1V2018.1h1V2015.3h1V2011h1V2047.6h1V2030.3h1V2016.4h1V2030.3h1V2031.9h1V2036.8h1V2035.8h1V2018.9h1V2034.7h1V2012.3h1V2034.5h1V2046.5h1V2012h1V2021.6h1V2028.4h1V2031.1h1V2034.9h1V2036.8h1V2022h1V2043.1h1V2011.9h1V2032.7h1V2036.1h1V2040.1h1V2026.4h1V2010.2h1V2030.8h1V2046h1V2015.8h1V2052h1V2006.5h1V2018.1h1V2024.6h1V2039.8h1V2005.2h1V2034.1h1V2020.4h1V2030h1V2041.8h1V2006.4h1V2037.9h1V2014.7h1V2014.3h1V2012.2h1V2037.7h1V2023h1V2021.5h1V2028.1h1V2025.1h1V2020.7h1V2015.2h1V2025.4h1V2018h1V2015.6h1V2046.6h1V2011.4h1V2029h1V2015.4h1V2043.8h1V2021.9h1V2032.9h1V2040.3h1V2027h1V2014.2h1V2018.7h1V2016.1h1V2029.5h1V2030.6h1V2026.7h1V2028h1V2033h1V2019.3h1V2027.2h1V2015.4h1V2020.6h1V2017.1h1V2024.9h1V2017.1h1V2025.4h1V2028h1V2024.4h1V2031.7h1V2024.2h1V2029.2h1V2003.2h1V2017.6h1V2019.8h1V2027h1V2033.7h1V2030.9h1V2030h1V2014.3h1V2022.8h1V2019.3h1V2028h1V2025.2h1V2031.9h1V2023.7h1V2021h1V2021.4h1V2025.6h1V2015.4h1V2016.8h1V2028.4h1V2017.8h1V2018.8h1V2028.5h1V2026h1V2016.5h1V2013.7h1V2022.9h1V2023.2h1V2024h1V2017.6h1V2013h1V2023.8h1V2015.9h1V2019.3h1V2024.5h1V2014.7h1V2019.1h1V2019.4h1V2015.5h1V2015h1V2018h1V2028.7h1V2022.7h1V2023h1V2015.9h1V2017h1V2004.9h1V2024.4h1V2020.9h1V2025.9h1V2029.8h1V2026.2h1V2018.6h1V2013h1V2025.5h1V2018.8h1V2021.5h1V2014.2h1V2019.2h1V2018.8h1V2021.7h1V2020.3h1V2019.8h1V2023h1V2023.1h1V2026.1h1V2027.2h1V2030.7h1V2024.3h1V2034.7h1V2031.2h1V2026.2h1V2027.1h1V2026.8h1V2020.1h1V2022.3h1V2015.6h1V2018.2h1V2016.7h1V2022.5h1V2015h1V2015.4h1V2022.5h1V2015.1h1V2020.1h1V2028.5h1V2026.6h1V2035h1V2030.7h1V2032.2h1V2027.5h1V2025.9h1V2026.6h1V2027h1V2026.3h1V2024h1V2022.3h1V2021.4h1V2021.6h1V2018.6h1V2017.5h1V2016.5h1V2014.6h1V2018.8h1V2013h1V2014.6h1V2012.8h1V2016.4h1V2006.8h1V2009.4h1V2009.9h1V2012.6h1V2014.7h1V2012.7h1V2011.5h1V2009.6h1V2009.1h1V2010.2h1V2007.5h1V2006.1h1V2004.4h1V2008.5h1V2003.5h1V2005.1h1V2002.6h1V1998.9h1V1998.3h1V1999.4h1V1996.3h1V1998.2h1V1999h1V2002.9h1V1998.4h1V1992h1V1985.8h1V1982.5h1V1980.7h1V1979.6h1V1974.2h1V1964.5h1V1960.1h1V1955.6h1V1954.7h1V1945.4h1V1943.1h1V1936.3h1V1935.2h1V1936.2h1V1934.6h1V1942.8h1V1945.5h1V1951h1V1952.2h1V1955.4h1V1967.4h1V1970.4h1V1972.5h1V1983.2h1V1991.1h1V1993.6h1V2001.2h1V2002.4h1V1993.8h1V2000.9h1V2004.3h1V1998.1h1V2003.8h1V1996.1h1V2011.3h1V2010h1V2003.1h1V1998.2h1V2007.6h1V2016.2h1V2008.1h1V2011.3h1V2012.5h1V2009.5h1V2008.7h1V2009.6h1V2012.8h1V2009.8h1V2013.7h1V2012.4h1V2014.3h1V2009.2h1V2011.1h1V2016.7h1V2014.6h1V2012.9h1V2011.8h1V2018.2h1V2012.8h1V2021.6h1V2018.2h1V2014.4h1V2012.7h1V2018.3h1V2020.9h1V2016.9h1V2012.9h1V2018.1h1V2019h1V2016.1h1V2017.4h1V2016.6h1V2014.3h1V2013.4h1V2013.3h1V2017.7h1V2012.7h1V2012.3h1V2012h1V2012.7h1V2014.4h1V2010.2h1V2016.4h1V2016.1h1V2013.2h1V2011.2h1V2011.4h1V2012.8h1V2012.7h1V2011.3h1V2009.7h1V2011.7h1V2010.6h1V2013.8h1V2007.3h1V2013.4h1V2011h1V2014.3h1V2011.2h1V2012.5h1V2010.8h1V2012.7h1V2013.7h1V2014.5h1V2015.5h1V2013.5h1V2017.2h1V2014.4h1V2018.4h1V2017.5h1V2018.6h1V2021.6h1V2025.5h1V2019.9h1V2018.4h1V2024.4h1V2025h1V2021.7h1V2024h1V2022.9h1V2020.8h1V2027h1V2026h1V2027.2h1V2027.8h1V2026.5h1V2022.6h1V2025.3h1V2030.1h1V2023.5h1V2026.3h1V2025.4h1V2022.1h1V2020.3h1V2024.4h1V2023.8h1V2018.2h1V2025.6h1V2025.2h1V2025.7h1V2024h1V2022.7h1V2020.8h1V2022.4h1V2023.1h1V2024h1V2021.1h1V2020.7h1V2016.2h1V2022.3h1V2021.9h1V2020.6h1V2022.7h1V2020.6h1V2024.9h1V2020.9h1V2026.6h1V2025.5h1V2022.9h1V2020.7h1V2025.2h1V2027.1h1V2021.6h1V2023.7h1V2023.5h1V2024h1V2025.3h1V2023.4h1V2023.9h1V2021.9h1V2022.2h1V2020.4h1V2020.4h1V2017.8h1V2022.9h1V2019.6h1V2017.1h1V2015.3h1V2013.9h1V2012h1V2010.9h1V2013.1h1V2007.3h1V2012.4h1V2011.9h1V2009.5h1V2008.9h1V2008.1h1V2008.9h1V2008h1V2006.1h1V2009.5h1V2009.7h1V2006.9h1V2008.4h1V2008.4h1V2006.5h1V2009.2h1V2005.5h1V2003.1h1V2005.5h1V2006.9h1V2003h1V2002h1V2001.9h1V2008h1V2006h1V2004h1V2003.6h1V2003.2h1V2003.9h1V2007.5h1V2005.1h1V2006.2h1V2003.3h1V2003.4h1V2006.3h1V2004.7h1V2004.9h1V2007.9h1V2001.2h1V2007.3h1V2004.8h1V2006.3h1V2004.6h1V2006h1V2000.4h1V2003.2h1V2004.8h1V2005h1V2004.6h1V2005h1V2005.4h1V2005.9h1V2005.7h1V2006.5h1V2004.4h1V1998.1h1V1999.9h1V2006.6h1V2005.4h1V2002.3h1V2005.2h1V2007h1V2008.6h1V2006.1h1V2005.7h1V2007.4h1V2002.2h1V2003.2h1V2003.7h1V2005.2h1V2005.4h1V2003.2h1V2001.4h1V2004.1h1V2008.6h1V2004.9h1V2003.6h1V2006.5h1V2005.4h1V2006.3h1V2010h1V2013.3h1V2014.3h1V2020.3h1V2023.3h1V2027.9h1V2022.4h1V2022h1V2020.2h1V2013.4h1V2012.4h1V2014.5h1V2016.3h1V2013.6h1V2014h1V2016.5h1V2017.9h1V2014.3h1V2013.1h1V2011.8h1V2012.4h1V2013.7h1V2010.8h1V2013.3h1V2011.7h1V2007.8h1V2008.3h1V2010.3h1V2009.1h1V2008.1h1V2009.5h1V2006.1h1V2010.3h1V2011.1h1V2012.1h1V2013.7h1V2007.3h1V2012.3h1V2010.6h1V2007.3h1V2011.4h1V2009.5h1V2012h1V2006.6h1V2013.5h1V2011.3h1V2014.7h1V2015.1h1V2010.9h1V2015.9h1V2014.7h1V2013.6h1V2012.3h1V2015.1h1V2014.9h1V2012h1V2013h1V2013.5h1V2010.1h1V2010.8h1V2008.6h1V2008.2h1V2007.8h1V2004.8h1V2007.7h1V2005h1V2005.5h1V2003.2h1V2004.2h1V2005.5h1V2001h1V1999.9h1V2004.2h1V1999.2h1V2001.7h1V2011.6h1V2015.2h1V2015.7h1V2014.3h1V2015h1V2016.8h1V2022.1h1V2018.9h1V2019.5h1V2019.4h1V2020.7h1V2021.8h1V2019.2h1V2021.8h1V2020.5h1V2020.4h1V2021.5h1V2017.8h1V2019.4h1V2024.3h1V2020.2h1V2018.2h1V2021.3h1V2020.1h1V2019.4h1V2019.8h1V2019.3h1V2020.2h1V2019.4h1V2024.2h1V2023.4h1V2021.9h1V2021.8h1V2019.5h1V2024h1V2019.8h1V2020.6h1V2015.8h1V2019.8h1V2020.7h1V2019.8h1V2018.6h1V2017.8h1V2020h1V2017.1h1V2019.3h1V2020.3h1V2015.5h1V2017.1h1V2018.7h1V2020h1V2017.8h1V2017.4h1V2017.5h1V2019.3h1V2016.5h1V2018.7h1V2014.6h1V2016.5h1V2014.8h1V2017.4h1V2019.6h1V2019.9h1V2015.1h1V2018h1V2015.4h1V2019.4h1V2015.5h1V2019h1V2016.8h1V2018.3h1V2017.3h1V2019.2h1V2018.6h1V2018.4h1V2017.1h1V2022.9h1V2020.1h1V2021.6h1V2022.1h1V2019h1V2021h1V2020.2h1V2025.3h1V2023.8h1V2022.2h1V2025.5h1"/>
</g>
<line x1="82.3" y1="2114.8" x2="934.7" y2="2114.8" stroke="#555" stroke-width="1.5" stroke-dasharray="4.6 17.16"/>
<line x1="538.5" y1="2144.4" x2="538.5" y2="1820.1" stroke="#0000ff" stroke-width="1.6" stroke-dasharray="31 31"/>
<line x1="860.8" y1="2144.4" x2="860.8" y2="1820.1" stroke="#0000ff" stroke-width="1.6" stroke-dasharray="31 31"/>
<text class="lb" x="546.1" y="1850.1" fill="#0000ff" font-size="22.5" word-spacing="7" textLength="51.7" lengthAdjust="spacing">Mg II</text>
<text class="lb" x="868.9" y="1850.1" fill="#0000ff" font-size="22.5" word-spacing="7" textLength="68.5" lengthAdjust="spacing">[Ne V]</text>
<g stroke="#0000ff" stroke-width="1.6" fill="none"><circle cx="791.8" cy="2050.9" r="7.5"/><line x1="784.3" y1="2050.9" x2="799.3" y2="2050.9"/><line x1="791.8" y1="2043.4" x2="791.8" y2="2058.4"/></g>
<path d="M132.5 2144.4v-7M132.5 1820.1v7M182 2144.4v-7M182 1820.1v7M231.5 2144.4v-7M231.5 1820.1v7M280.9 2144.4v-7M280.9 1820.1v7M330.4 2144.4v-13.3M330.4 1820.1v13.3M379.9 2144.4v-7M379.9 1820.1v7M429.3 2144.4v-7M429.3 1820.1v7M478.8 2144.4v-7M478.8 1820.1v7M528.3 2144.4v-7M528.3 1820.1v7M577.8 2144.4v-13.3M577.8 1820.1v13.3M627.2 2144.4v-7M627.2 1820.1v7M676.7 2144.4v-7M676.7 1820.1v7M726.2 2144.4v-7M726.2 1820.1v7M775.6 2144.4v-7M775.6 1820.1v7M825.1 2144.4v-13.3M825.1 1820.1v13.3M874.6 2144.4v-7M874.6 1820.1v7M924 2144.4v-7M924 1820.1v7M83 2132.7h7M948.7 2132.7h-7M83 2114.8h13.3M948.7 2114.8h-13.3M83 2096.9h7M948.7 2096.9h-7M83 2078.9h7M948.7 2078.9h-7M83 2061h7M948.7 2061h-7M83 2043.1h7M948.7 2043.1h-7M83 2025.1h13.3M948.7 2025.1h-13.3M83 2007.2h7M948.7 2007.2h-7M83 1989.3h7M948.7 1989.3h-7M83 1971.3h7M948.7 1971.3h-7M83 1953.4h7M948.7 1953.4h-7M83 1935.5h13.3M948.7 1935.5h-13.3M83 1917.5h7M948.7 1917.5h-7M83 1899.6h7M948.7 1899.6h-7M83 1881.7h7M948.7 1881.7h-7M83 1863.7h7M948.7 1863.7h-7M83 1845.8h13.3M948.7 1845.8h-13.3M83 1827.9h7M948.7 1827.9h-7" stroke="#000" stroke-width="1.8" fill="none"/>
<rect x="83" y="1820.1" width="865.7" height="324.3" stroke="#000" stroke-width="2" fill="none"/>
<text x="83" y="2177.7" font-size="27.6" text-anchor="middle" textLength="67.1" lengthAdjust="spacingAndGlyphs">4000</text>
<text x="330.4" y="2177.7" font-size="27.6" text-anchor="middle" textLength="67.1" lengthAdjust="spacingAndGlyphs">5000</text>
<text x="577.8" y="2177.7" font-size="27.6" text-anchor="middle" textLength="67.1" lengthAdjust="spacingAndGlyphs">6000</text>
<text x="825.1" y="2177.7" font-size="27.6" text-anchor="middle" textLength="67.1" lengthAdjust="spacingAndGlyphs">7000</text>
<text transform="translate(64 2114.8) rotate(-90)" font-size="27.6" text-anchor="middle" textLength="16.4" lengthAdjust="spacingAndGlyphs">0</text>
<text transform="translate(64 2025.1) rotate(-90)" font-size="27.6" text-anchor="middle" textLength="50.2" lengthAdjust="spacingAndGlyphs">100</text>
<text transform="translate(64 1935.5) rotate(-90)" font-size="27.6" text-anchor="middle" textLength="50.2" lengthAdjust="spacingAndGlyphs">200</text>
<text transform="translate(64 1845.8) rotate(-90)" font-size="27.6" text-anchor="middle" textLength="50.2" lengthAdjust="spacingAndGlyphs">300</text>
<text transform="translate(23 1982.2) rotate(-90)" font-size="27.6" text-anchor="middle" word-spacing="8" textLength="241" lengthAdjust="spacing">Flux density (μJy)</text>
<text x="515.9" y="1790.9" font-size="22" word-spacing="4" text-anchor="middle" textLength="423" lengthAdjust="spacing">IVS 0134+215 GN z=1.0864 ± 0.0004</text>
<clipPath id="c9"><rect x="1093" y="1820.1" width="865.5" height="324.3"/></clipPath>
<g clip-path="url(#c9)" fill="none" stroke="#000" stroke-width="1.6" stroke-linejoin="round">
<path d="M1092.3 2079.6h1.3V2079.8h1.3V2083h1.3V2080.8h1.3V2084.9h1.3V2076.5h1.3V2055.9h1.3V2114h1.3V2073.2h1.3V2069.5h1.3V2071.4h1.3V2077.3h1.3V2066.1h1.3V2059.5h1.3V2072.4h1.3V2085.1h1.3V2073.8h1.3V2062.5h1.3V2065.3h1.3V2067.9h1.3V2058h1.3V2049.2h1.3V2068h1.3V2083.8h1.3V2067.9h1.3V2063.7h1.3V2064.1h1.3V2065.8h1.3V2070.4h1.3V2067.2h1.3V2071.3h1.3V2075.8h1.3V2080.8h1.3V2071.3h1.3V2062.5h1.3V2067.4h1.3V2075.8h1.3V2084.8h1.3V2085.7h1.3V2080.4h1.3V2073.3h1.3V2063.1h1.3V2066.8h1.3V2061.9h1.3V2059.6h1.3V2068.4h1.3V2069.2h1.3V2058.6h1.3V2063h1.3V2070.4h1.3V2064.2h1.3V2071.6h1.3V2070.8h1.3V2055.6h1.3V2063.2h1.3V2078.9h1.3V2070.8h1.3V2068.8h1.3V2077.3h1.3V2070.9h1.3V2055h1.3V2064.1h1.3V2079.9h1.3V2066.8h1.3V2062.9h1.3V2068.4h1.3V2064.6h1.3V2060.8h1.3V2058.5h1.3V2071.7h1.3V2079.4h1.3V2070.7h1.3V2067.5h1.3V2074.2h1.3V2075.6h1.3V2069.7h1.3V2065.7h1.3V2066h1.3V2070h1.3V2071.2h1.3V2075.1h1.3V2077.6h1.3V2057.2h1.3V2050.3h1.3V2058.5h1.3V2064.7h1.3V2070.8h1.3V2070h1.3V2066.4h1.3V2073.1h1.3V2078.3h1.3V2068.8h1.3V2075.5h1.3V2073h1.3V2067.4h1.3V2079.7h1.3V2076h1.3V2067.7h1.3V2072h1.3V2067.5h1.3V2072.7h1.3V2069.3h1.3V2059.9h1.3V2068.3h1.3V2070.1h1.3V2070.7h1.3V2070.5h1.3V2066.7h1.3V2069.3h1.3V2056.7h1.3V2052.9h1.3V2059.3h1.3V2054h1.3V2053.7h1.3V2050.7h1.3V2045.2h1.3V2047.3h1.3V2048.6h1.3V2044.9h1.3V2035.9h1.3V2035.6h1.3V2042.2h1.3V2036.6h1.3V2031.2h1.3V2027.7h1.3V2028.1h1.3V2024h1.3V2018.5h1.3V2031.8h1.3V2040.4h1.3V2025.5h1.3V2008.6h1.3V1996.3h1.3V1992.1h1.3V1987.3h1.3V1980.1h1.3V1970.8h1.3V1970.2h1.3V1970.1h1.3V1965.8h1.3V1966.4h1.3V1971.2h1.3V1974.7h1.3V1972.7h1.3V1970.9h1.3V1974h1.3V1978.8h1.3V1979.2h1.3V1976.5h1.3V1976.6h1.3V1981.6h1.3V1984.7h1.3V1987.3h1.3V1994h1.3V1999.5h1.3V2005.5h1.3V2017.2h1.3V2019.5h1.3V2014h1.3V2010.2h1.3V2012.2h1.3V2011.7h1.3V2011.4h1.3V2018.8h1.3V2021.1h1.3V2020.7h1.3V2023.7h1.3V2026.7h1.3V2026.7h1.3V2030.2h1.3V2035.9h1.3V2039.5h1.3V2041.3h1.3V2043h1.3V2046.9h1.3V2050.1h1.3V2047.8h1.3V2045.4h1.3V2048.1h1.3V2045.3h1.3V2043.6h1.3V2048h1.3V2046.5h1.3V2042.4h1.3V2041.9h1.3V2044.8h1.3V2048.6h1.3V2044.7h1.3V2034.4h1.3V2037.6h1.3V2045.9h1.3V2045h1.3V2042.8h1.3V2036.9h1.3V2035.3h1.3V2031h1.3V2034.8h1.3V2046.7h1.3V2042.4h1.3V2033.5h1.3V2038.6h1.3V2044.9h1.3V2041h1.3V2036h1.3V2035.6h1.3V2035.3h1.3V2037.6h1.3V2038.1h1.3V2041.6h1.3V2050.7h1.3V2041.6h1.3V2039h1.3V2039.4h1.3V2040.4h1.3V2042.5h1.3V2038.4h1.3V2039.9h1.3V2038.2h1.3V2043.3h1.3V2047.4h1.3V2046.9h1.3V2049.8h1.3V2049.1h1.3V2047.1h1.3V2038.8h1.3V2039.5h1.3V2042.6h1.3V2040.9h1.3V2045.2h1.3V2044h1.3V2034.3h1.3V2031.4h1.3V2032.5h1.3V2028.3h1.3V2026.1h1.3V2024.7h1.3V2019.7h1.3V2012.1h1.3V2008.9h1.3V2011.8h1.3V2014h1.3V2016.6h1.3V2022.3h1.3V2022.9h1.3V2022.4h1.3V2027h1.3V2026.7h1.3V2027.1h1.3V2031.2h1.3V2034h1.3V2030.5h1.3V2027.7h1.3V2030.8h1.3V2036.3h1.3V2041h1.3V2036.1h1.3V2029.7h1.3V2033.9h1.3V2034.7h1.3V2029.7h1.3V2031.6h1.3V2036.1h1.3V2037.1h1.3V2041h1.3V2045.2h1.3V2046.5h1.3V2051.1h1.3V2053.2h1.3V2047.5h1.3V2044.2h1.3V2042.4h1.3V2037.7h1.3V2036.2h1.3V2037.8h1.3V2031.6h1.3V2032.6h1.3V2035.5h1.3V2036.3h1.3V2040.2h1.3V2036.4h1.3V2032.7h1.3V2034.2h1.3V2034.8h1.3V2037h1.3V2037.8h1.3V2033.4h1.3V2028.8h1.3V2027.1h1.3V2031.2h1.3V2032.4h1.3V2029.2h1.3V2028.8h1.3V2024.8h1.3V2028.4h1.3V2029.8h1.3V2018.6h1.3V2020.6h1.3V2024.9h1.3V2022.5h1.3V2025.2h1.3V2022.7h1.3V2021.7h1.3V2019.2h1.3V2016.2h1.3V2018.8h1.3V2013.3h1.3V2011.9h1.3V2015.3h1.3V2013.6h1.3V2016.3h1.3V2017.1h1.3V2010.7h1.3V2004.7h1.3V2006.1h1.3V2010.9h1.3V2005.2h1.3V2001.9h1.3V2006.9h1.3V2005.5h1.3V1995.5h1.3V1994.3h1.3V1993.5h1.3V1993.8h1.3V1995.7h1.3V1994.5h1.3V1999.6h1.3V2008.1h1.3V2016.5h1.3V2024.9h1.3V2026h1.3V2025.1h1.3V2021.1h1.3V2017.3h1.3V2014.2h1.3V2016.6h1.3V2021.1h1.3V2026.9h1.3V2028.3h1.3V2019.2h1.3V2018.5h1.3V2019.5h1.3V2018.7h1.3V2024.4h1.3V2029.4h1.3V2026.3h1.3V2021h1.3V2022.3h1.3V2025.3h1.3V2021.4h1.3V2024h1.3V2022.9h1.3V2020.5h1.3V2027.3h1.3V2031.9h1.3V2029.5h1.3V2029.2h1.3V2025.5h1.3V2023.8h1.3V2026.2h1.3V2019.2h1.3V2019.9h1.3V2015.8h1.3V2018.2h1.3V2031.7h1.3V2028.9h1.3V2021.7h1.3V2021h1.3V2023.3h1.3V2025.5h1.3V2024.7h1.3V2023.7h1.3V2026.4h1.3V2024.5h1.3V2022h1.3V2024h1.3V2026.8h1.3V2026.8h1.3V2027.9h1.3V2031.2h1.3V2036.4h1.3V2037h1.3V2033.4h1.3V2037.9h1.3V2037.6h1.3V2032.7h1.3V2031.9h1.3V2030.8h1.3V2026.3h1.3V2028.5h1.3V2037.7h1.3V2034.1h1.3V2026.2h1.3V2021.2h1.3V2024h1.3V2025.4h1.3V2022.4h1.3V2024.2h1.3V2022.8h1.3V2023.5h1.3V2022.6h1.3V2017.4h1.3V2020.9h1.3V2025.5h1.3V2018.2h1.3V2015.4h1.3V2015.1h1.3V2016.5h1.3V2027.9h1.3V2021.1h1.3V2013.5h1.3V2020.5h1.3V2016.9h1.3V2016.8h1.3V2025.2h1.3V2026.6h1.3V2024.5h1.3V2026.5h1.3V2022.7h1.3V2021.5h1.3V2032.5h1.3V2028.1h1.3V2016.7h1.3V2022.2h1.3V2026.1h1.3V2026.1h1.3V2031.5h1.3V2024h1.3V2029.2h1.3V2029.4h1.3V2015.1h1.3V2014.5h1.3V2023.3h1.3V2014.9h1.3V2007.9h1.3V2017h1.3V2019.8h1.3V2024.9h1.3V2027.3h1.3V2020.5h1.3V2017.4h1.3V2021.4h1.3V2009.6h1.3V2013.6h1.3V2023.4h1.3V2025h1.3V2024.9h1.3V2018.4h1.3V2024.9h1.3V2024.7h1.3V2007.7h1.3V2004.5h1.3V2011.3h1.3V2018.7h1.3V2034.7h1.3V2038.4h1.3V2037.7h1.3V2037.3h1.3V2030.3h1.3V2025.1h1.3V2023.1h1.3V2020.3h1.3V2012.8h1.3V2010.2h1.3V2011.2h1.3V2004.5h1.3V2003.8h1.3V2006.2h1.3V2002.7h1.3V2004.7h1.3V2005.3h1.3V2003h1.3V2003.7h1.3V2007.1h1.3V2018.6h1.3V2025.3h1.3V2033.5h1.3V2041h1.3V2055.1h1.3V2071.1h1.3V2065.1h1.3V2063.1h1.3V2056.4h1.3V2046.4h1.3V2042.9h1.3V2035.3h1.3V2027.8h1.3V2018.7h1.3V2009.5h1.3V2003.8h1.3V2004.5h1.3V2000.2h1.3V1998.4h1.3V1998.6h1.3V2000.9h1.3V2002h1.3V1992h1.3V1986.4h1.3V1986h1.3V1985.8h1.3V1992h1.3V1996.9h1.3V2002.7h1.3V2001.9h1.3V1995.4h1.3V1998.9h1.3V1991.1h1.3V1996.2h1.3V1999.6h1.3V1995.8h1.3V1997.8h1.3V1979.4h1.3V1977h1.3V1989h1.3V1983.5h1.3V1978.8h1.3V1974.7h1.3V1967.6h1.3V1966.9h1.3V1976.2h1.3V1987.3h1.3V1980.3h1.3V1975.1h1.3V1973.1h1.3V1965.9h1.3V1970.8h1.3V1977.1h1.3V1981.5h1.3V1982.3h1.3V1978h1.3V1972.9h1.3V1978.7h1.3V1992.8h1.3V1996.1h1.3V1995.2h1.3V1986h1.3V1983.7h1.3V1989.2h1.3V1996.6h1.3V2003.9h1.3V1995.4h1.3V2000.7h1.3V2016.6h1.3V2018.6h1.3V2010.6h1.3V2006.2h1.3V2008.6h1.3V2005.2h1.3V1990.8h1.3V1983.5h1.3V1988.1h1.3V2001.7h1.3V2015.9h1.3V2006.1h1.3V2008.4h1.3V2008.2h1.3V1994.1h1.3V1993.2h1.3V1985.3h1.3V1986.3h1.3V1988.6h1.3V2007.8h1.3V2025.3h1.3V2002.5h1.3V1984.5h1.3V1999.8h1.3V2014.3h1.3V2007.8h1.3V2003.5h1.3V2015.2h1.3V2022.9h1.3V2021.4h1.3V1993.2h1.3V1971.4h1.3V1972.6h1.3V1968.8h1.3V1977h1.3V1957h1.3V1993h1.3V1994.3h1.3V1985.4h1.3V1994.9h1.3V2002.9h1.3V1998.7h1.3V1988.1h1.3V1985.5h1.3V1983h1.3V1973h1.3V1995.5h1.3V2017.7h1.3V1996.4h1.3V1993.8h1.3V1992.9h1.3V1971.2h1.3V1980.2h1.3V1998.2h1.3V1988.7h1.3V1967.1h1.3V1964.4h1.3V1988.3h1.3V2007.9h1.3V1976.9h1.3V2003h1.3V2006.3h1.3V1979.6h1.3V2001.7h1.3V1998.1h1.3V2003.5h1.3V1997.6h1.3V1975.2h1.3V1978.4h1.3V1975.8h1.3V1962h1.3V1966h1.3V1998h1.3V2002.1h1.3V1987.8h1.3V1962.6h1.3V1963h1.3V1973.7h1.3V1981.9h1.3V2002.3h1.3V1975h1.3V1952h1.3V1969.9h1.3V1983.3h1.3V1996.5h1.3V2000.9h1.3V1975.5h1.3V1963.9h1.3V1959.9h1.3V1979.1h1.3V2019.8h1.3V2003.5h1.3V1991.4h1.3V2004.2h1.3V1995.8h1.3V1986.8h1.3V2003.9h1.3V2018.9h1.3V2019.7h1.3V2011.8h1.3V1979.3h1.3V1956.7h1.3V1960h1.3V1958.6h1.3V1976.3h1.3V1965.9h1.3V1953.4h1.3V1974.3h1.3V2002.3h1.3V2003.8h1.3V1997.5h1.3V1983.3h1.3V1891h1.3V1958.5h1.3V1933.4h1.3V1964.2h1.3V1974.7h1.3V1953.2h1.3V1948.2h1.3V1950.8h1.3V1962.8h1.3V1976.1h1.3V1978.1h1.3V1993.6h1.3V1975.6h1.3V1973.2h1.3"/>
</g>
<line x1="1092.3" y1="2114.8" x2="1944.5" y2="2114.8" stroke="#555" stroke-width="1.5" stroke-dasharray="4.6 17.16"/>
<line x1="1269" y1="2144.4" x2="1269" y2="1820.1" stroke="#ff0000" stroke-width="1.6" stroke-dasharray="25.5 17.5 3 19.3"/>
<line x1="1400.8" y1="2144.4" x2="1400.8" y2="1820.1" stroke="#0000ff" stroke-width="1.6" stroke-dasharray="31 31"/>
<line x1="1510" y1="2144.4" x2="1510" y2="1820.1" stroke="#0000ff" stroke-width="1.6" stroke-dasharray="31 31"/>
<line x1="1769.6" y1="2144.4" x2="1769.6" y2="1820.1" stroke="#0000ff" stroke-width="1.6" stroke-dasharray="31 31"/>
<text class="lb" x="1273.9" y="1850.1" fill="#ff0000" font-size="22.5" word-spacing="7" textLength="37.8" lengthAdjust="spacing">Lyα</text>
<text class="lb" x="1405.8" y="1850.1" fill="#0000ff" font-size="22.5" word-spacing="7" textLength="49" lengthAdjust="spacing">Si IV</text>
<text class="lb" x="1515" y="1850.1" fill="#0000ff" font-size="22.5" word-spacing="7" textLength="44.8" lengthAdjust="spacing">C IV</text>
<text class="lb" x="1774.5" y="1850.1" fill="#0000ff" font-size="22.5" word-spacing="7" textLength="50.3" lengthAdjust="spacing">C III]</text>
<g stroke="#0000ff" stroke-width="1.6" fill="none"><circle cx="1586.6" cy="2059.7" r="7.5"/><line x1="1579.1" y1="2059.7" x2="1594.1" y2="2059.7"/><line x1="1586.6" y1="2052.2" x2="1586.6" y2="2067.2"/></g>
<g stroke="#0000ff" stroke-width="1.6" fill="none"><circle cx="1713.6" cy="2097" r="7.5"/><line x1="1706.1" y1="2097" x2="1721.1" y2="2097"/><line x1="1713.6" y1="2089.5" x2="1713.6" y2="2104.5"/></g>
<path d="M1122.4 2144.4v-7M1122.4 1820.1v7M1157.3 2144.4v-7M1157.3 1820.1v7M1192.1 2144.4v-7M1192.1 1820.1v7M1227 2144.4v-7M1227 1820.1v7M1261.8 2144.4v-13.3M1261.8 1820.1v13.3M1296.6 2144.4v-7M1296.6 1820.1v7M1331.5 2144.4v-7M1331.5 1820.1v7M1366.3 2144.4v-7M1366.3 1820.1v7M1401.2 2144.4v-7M1401.2 1820.1v7M1436 2144.4v-13.3M1436 1820.1v13.3M1470.9 2144.4v-7M1470.9 1820.1v7M1505.7 2144.4v-7M1505.7 1820.1v7M1540.6 2144.4v-7M1540.6 1820.1v7M1575.4 2144.4v-7M1575.4 1820.1v7M1610.3 2144.4v-13.3M1610.3 1820.1v13.3M1645.1 2144.4v-7M1645.1 1820.1v7M1680 2144.4v-7M1680 1820.1v7M1714.8 2144.4v-7M1714.8 1820.1v7M1749.7 2144.4v-7M1749.7 1820.1v7M1784.5 2144.4v-13.3M1784.5 1820.1v13.3M1819.3 2144.4v-7M1819.3 1820.1v7M1854.2 2144.4v-7M1854.2 1820.1v7M1889 2144.4v-7M1889 1820.1v7M1923.9 2144.4v-7M1923.9 1820.1v7M1093 2138h7M1958.5 2138h-7M1093 2114.8h13.3M1958.5 2114.8h-13.3M1093 2091.6h7M1958.5 2091.6h-7M1093 2068.4h7M1958.5 2068.4h-7M1093 2045.1h7M1958.5 2045.1h-7M1093 2021.9h7M1958.5 2021.9h-7M1093 1998.7h13.3M1958.5 1998.7h-13.3M1093 1975.5h7M1958.5 1975.5h-7M1093 1952.3h7M1958.5 1952.3h-7M1093 1929h7M1958.5 1929h-7M1093 1905.8h7M1958.5 1905.8h-7M1093 1882.6h13.3M1958.5 1882.6h-13.3M1093 1859.4h7M1958.5 1859.4h-7M1093 1836.2h7M1958.5 1836.2h-7" stroke="#000" stroke-width="1.8" fill="none"/>
<rect x="1093" y="1820.1" width="865.5" height="324.3" stroke="#000" stroke-width="2" fill="none"/>
<text x="1261.8" y="2177.7" font-size="27.6" text-anchor="middle" textLength="67.1" lengthAdjust="spacingAndGlyphs">5000</text>
<text x="1436" y="2177.7" font-size="27.6" text-anchor="middle" textLength="67.1" lengthAdjust="spacingAndGlyphs">6000</text>
<text x="1610.3" y="2177.7" font-size="27.6" text-anchor="middle" textLength="67.1" lengthAdjust="spacingAndGlyphs">7000</text>
<text x="1784.5" y="2177.7" font-size="27.6" text-anchor="middle" textLength="67.1" lengthAdjust="spacingAndGlyphs">8000</text>
<text x="1958.7" y="2177.7" font-size="27.6" text-anchor="middle" textLength="67.1" lengthAdjust="spacingAndGlyphs">9000</text>
<text transform="translate(1074 2114.8) rotate(-90)" font-size="27.6" text-anchor="middle" textLength="16.4" lengthAdjust="spacingAndGlyphs">0</text>
<text transform="translate(1074 1998.7) rotate(-90)" font-size="27.6" text-anchor="middle" textLength="50.2" lengthAdjust="spacingAndGlyphs">100</text>
<text transform="translate(1074 1882.6) rotate(-90)" font-size="27.6" text-anchor="middle" textLength="50.2" lengthAdjust="spacingAndGlyphs">200</text>
<text transform="translate(1033 1982.2) rotate(-90)" font-size="27.6" text-anchor="middle" word-spacing="8" textLength="241" lengthAdjust="spacing">Flux density (μJy)</text>
<text x="1525.8" y="1790.9" font-size="22" word-spacing="4" text-anchor="middle" textLength="404" lengthAdjust="spacing">IVS 0137−273 NTT z=3.147 ± 0.005</text>
<clipPath id="c10"><rect x="83" y="2264" width="865.7" height="324.3"/></clipPath>
<g clip-path="url(#c10)" fill="none" stroke="#000" stroke-width="1.85" stroke-linejoin="round">
<path d="M82.5 2500.1h0.9V2497.9h0.9V2506.3h0.9V2509.2h0.9V2506.2h0.9V2510.7h0.9V2504.6h0.9V2514.6h0.9V2515.3h0.9V2521.9h0.9V2510.4h0.9V2516.2h0.9V2522.4h0.9V2516.7h0.9V2519.5h0.9V2520.3h0.9V2516.9h0.9V2512.2h0.9V2520.6h0.9V2518.3h0.9V2512.5h0.9V2514.5h0.9V2514.8h0.9V2513h0.9V2506h0.9V2514.7h0.9V2522.3h0.9V2514.7h0.9V2521.4h0.9V2514.4h0.9V2515.9h0.9V2518.3h0.9V2513.8h0.9V2512.8h0.9V2519.2h0.9V2504.8h0.9V2517.3h0.9V2512.3h0.9V2506.2h0.9V2506.7h0.9V2518.4h0.9V2512.2h0.9V2508.9h0.9V2509.8h0.9V2504.9h0.9V2501.4h0.9V2506.9h0.9V2511.8h0.9V2506.1h0.9V2507.4h0.9V2506.3h0.9V2503.1h0.9V2490h0.9V2504.2h0.9V2505.2h0.9V2502.3h0.9V2494.9h0.9V2494.3h0.9V2506h0.9V2490.4h0.9V2500h0.9V2498h0.9V2495.3h0.9V2494.7h0.9V2505.4h0.9V2484.6h0.9V2500h0.9V2484.2h0.9V2505.2h0.9V2496.6h0.9V2486.4h0.9V2491.9h0.9V2492h0.9V2489.4h0.9V2489.2h0.9V2486.4h0.9V2496.1h0.9V2487.6h0.9V2498.4h0.9V2493.3h0.9V2478.6h0.9V2483.5h0.9V2490.8h0.9V2485.3h0.9V2488.1h0.9V2484.4h0.9V2485.2h0.9V2490.4h0.9V2486h0.9V2470.5h0.9V2479.3h0.9V2487.5h0.9V2480.5h0.9V2486.9h0.9V2486.1h0.9V2480.5h0.9V2474.6h0.9V2473.9h0.9V2475.9h0.9V2479.8h0.9V2478.5h0.9V2482.7h0.9V2477.2h0.9V2471.2h0.9V2467.7h0.9V2466.9h0.9V2469.3h0.9V2461.9h0.9V2468.3h0.9V2460.8h0.9V2459.4h0.9V2454h0.9V2449.3h0.9V2467.1h0.9V2453.2h0.9V2455.6h0.9V2455.4h0.9V2454.2h0.9V2467.4h0.9V2468h0.9V2456.8h0.9V2450.2h0.9V2469.4h0.9V2457.7h0.9V2448.8h0.9V2462.6h0.9V2462.7h0.9V2458.5h0.9V2456.1h0.9V2451.7h0.9V2466.8h0.9V2458.6h0.9V2457.7h0.9V2452.7h0.9V2462.8h0.9V2461.9h0.9V2459.3h0.9V2470h0.9V2458.1h0.9"/>
<path d="M207.4 2456h0.9V2454.7h0.9V2453.5h0.9V2452.2h0.9V2451h0.9V2449.7h0.9V2448.4h0.9V2447.2h0.9V2445.9h0.9V2444.6h0.9V2443.4h0.9V2442.1h0.9"/>
<path d="M218.1 2438.7h0.9V2434.1h0.9V2442.8h0.9V2434.3h0.9V2439.7h0.9V2436.3h0.9V2432.1h0.9V2444.6h0.9V2447.9h0.9V2446.3h0.9V2441.9h0.9V2424.4h0.9V2434.3h0.9V2431.6h0.9V2436.4h0.9V2438.9h0.9V2445.4h0.9V2430.9h0.9V2433.6h0.9V2439.8h0.9V2434.1h0.9V2429.9h0.9V2430.1h0.9V2429.8h0.9V2426.5h0.9V2437.8h0.9V2433.9h0.9V2435.6h0.9V2427.8h0.9V2431.2h0.9V2441.6h0.9V2433.4h0.9V2433h0.9V2438.2h0.9V2438.9h0.9V2435.4h0.9V2440.8h0.9V2443.7h0.9V2446.8h0.9V2451h0.9V2431.5h0.9V2436.9h0.9V2433.5h0.9V2436.9h0.9V2422.8h0.9V2436.1h0.9V2414.9h0.9V2432.3h0.9V2438.4h0.9V2432.9h0.9V2433.8h0.9V2430.7h0.9V2433h0.9V2418.4h0.9V2415.6h0.9V2440.5h0.9V2437.3h0.9V2429.4h0.9V2431.4h0.9V2430.5h0.9V2428.5h0.9V2429.4h0.9V2436.8h0.9V2423.2h0.9V2423.7h0.9V2431.1h0.9V2433.5h0.9V2428.8h0.9V2436.9h0.9V2433.8h0.9V2427.9h0.9V2427.2h0.9V2426.1h0.9V2436.2h0.9V2429.1h0.9V2422.7h0.9V2428.7h0.9V2425.5h0.9V2430.4h0.9V2426.5h0.9V2422.7h0.9V2421.1h0.9V2409.8h0.9V2427.1h0.9V2418.2h0.9V2430.1h0.9V2421.2h0.9V2415.8h0.9V2424.2h0.9V2420.6h0.9V2419.4h0.9V2431.8h0.9V2414.8h0.9V2422.2h0.9V2416.3h0.9V2426.3h0.9V2412.2h0.9V2421h0.9V2419.9h0.9V2424.1h0.9V2417.6h0.9V2424.4h0.9V2423.7h0.9V2419.8h0.9V2421.6h0.9V2426.9h0.9V2426h0.9V2418.1h0.9V2418.9h0.9V2412.8h0.9V2419.9h0.9V2419h0.9V2415.5h0.9V2418.6h0.9V2419.9h0.9V2413.6h0.9V2422.1h0.9V2417.5h0.9V2422.2h0.9V2429.8h0.9V2411.3h0.9V2420.6h0.9V2418.7h0.9V2419.4h0.9V2421h0.9V2424.1h0.9V2419.7h0.9V2421.3h0.9V2419.1h0.9V2420.1h0.9V2422.1h0.9V2414.5h0.9V2428.8h0.9V2422.4h0.9V2421.1h0.9V2415.5h0.9V2419.8h0.9V2422.7h0.9V2415.7h0.9V2411h0.9V2427.1h0.9V2419h0.9V2416.5h0.9V2433.4h0.9V2421h0.9V2425.4h0.9V2414.3h0.9V2417.9h0.9V2422.2h0.9V2411.5h0.9V2420.4h0.9V2427.3h0.9V2423h0.9V2414.7h0.9V2429.1h0.9V2424h0.9V2433.4h0.9V2423.5h0.9V2428.8h0.9V2421.7h0.9V2423.7h0.9V2427h0.9V2419.7h0.9V2428h0.9V2414.7h0.9V2421.2h0.9V2424.6h0.9V2425.6h0.9V2422.2h0.9V2428.5h0.9V2422.9h0.9V2427.8h0.9V2429.3h0.9V2426.2h0.9V2429h0.9V2433.4h0.9V2424.2h0.9V2418.5h0.9V2426h0.9V2425.1h0.9V2432.2h0.9V2430.4h0.9V2425.8h0.9V2424.2h0.9V2421.9h0.9V2421h0.9V2421.1h0.9V2422.9h0.9V2425.7h0.9V2428.3h0.9V2420.4h0.9V2432.2h0.9V2429.6h0.9V2428.8h0.9V2425.4h0.9V2426.9h0.9V2431.5h0.9V2425.8h0.9V2429.7h0.9V2427.3h0.9V2423.5h0.9V2426h0.9V2423h0.9V2423.4h0.9V2427.8h0.9V2423.2h0.9V2425.8h0.9V2425.5h0.9V2433.9h0.9V2424.2h0.9V2425h0.9V2422h0.9V2421.7h0.9V2421.3h0.9V2425.1h0.9V2419.6h0.9V2415.5h0.9V2428.7h0.9V2417.3h0.9V2423.2h0.9V2428.6h0.9V2413.7h0.9V2415.2h0.9V2423h0.9V2412.6h0.9V2420.1h0.9V2421h0.9V2421.6h0.9V2429.5h0.9V2420.5h0.9V2425.7h0.9V2423.2h0.9V2423.1h0.9V2429.6h0.9V2421.7h0.9V2413.8h0.9V2422.7h0.9V2422h0.9V2424.1h0.9V2414.1h0.9V2411.3h0.9V2421.1h0.9V2422.3h0.9V2418h0.9V2418.8h0.9V2410.7h0.9V2420.5h0.9V2417.8h0.9V2423.8h0.9V2416.5h0.9V2418.8h0.9V2413.8h0.9V2428h0.9V2419.8h0.9V2422.5h0.9V2416.1h0.9V2418.1h0.9V2424.6h0.9V2424.8h0.9V2411.8h0.9V2421.2h0.9V2427.1h0.9V2422.1h0.9V2418.4h0.9V2418.4h0.9V2427h0.9V2418.3h0.9V2417.1h0.9V2423.8h0.9V2419.7h0.9V2423.6h0.9V2425.2h0.9V2415.7h0.9V2428.2h0.9V2429.4h0.9V2428.1h0.9V2422.5h0.9V2425.6h0.9V2431.5h0.9V2422.3h0.9V2426.6h0.9V2423.7h0.9V2430.3h0.9V2435.6h0.9V2424.5h0.9V2433.5h0.9V2429.6h0.9V2423h0.9V2431.3h0.9V2431.7h0.9V2421.6h0.9V2440.1h0.9V2433.5h0.9V2424.9h0.9V2430.4h0.9V2431.3h0.9V2426.1h0.9V2435.4h0.9V2422.2h0.9V2431.7h0.9V2434.3h0.9V2425.3h0.9V2423.7h0.9V2424.3h0.9V2431.7h0.9V2426.7h0.9V2427h0.9V2431.8h0.9V2429.2h0.9V2432.3h0.9V2427.7h0.9V2430h0.9V2429.5h0.9V2431h0.9V2427.5h0.9V2431h0.9V2431.4h0.9V2429h0.9V2424.4h0.9V2429.9h0.9V2428.5h0.9V2427.5h0.9V2425.8h0.9V2424.9h0.9V2428.6h0.9V2428.4h0.9V2429h0.9V2433.2h0.9V2433.8h0.9V2432.1h0.9V2431.7h0.9V2433.8h0.9V2432.4h0.9V2434.2h0.9V2436.4h0.9V2439.8h0.9V2436h0.9V2437.4h0.9V2436.3h0.9V2436.4h0.9V2444.6h0.9V2438.2h0.9V2437.8h0.9V2443.1h0.9V2443.2h0.9V2442.3h0.9V2443.9h0.9V2443.5h0.9V2442.4h0.9V2437.9h0.9V2447.2h0.9V2442.9h0.9V2444h0.9V2441.8h0.9V2444.8h0.9V2441h0.9V2443.1h0.9V2441.6h0.9V2442.4h0.9V2446.8h0.9V2444.8h0.9V2440.4h0.9V2441h0.9V2443.8h0.9V2441.3h0.9V2438.2h0.9V2444.7h0.9V2439.7h0.9V2441h0.9V2441.2h0.9V2440.7h0.9V2439.2h0.9V2437.3h0.9V2436.4h0.9V2439.7h0.9V2435.3h0.9V2436.1h0.9V2436.2h0.9V2436.1h0.9V2440.1h0.9V2435.4h0.9V2437.5h0.9V2433.8h0.9V2440h0.9V2432.3h0.9V2431.4h0.9V2432.9h0.9V2430.4h0.9V2431.7h0.9V2434.8h0.9V2427.5h0.9V2431h0.9V2427.6h0.9V2432.4h0.9V2423.6h0.9V2425.3h0.9V2423.3h0.9V2425.4h0.9V2425.2h0.9V2420.5h0.9V2420h0.9V2419.9h0.9V2419.2h0.9V2421.3h0.9V2420.3h0.9V2421.9h0.9V2422.8h0.9V2420.4h0.9V2425.2h0.9V2424h0.9V2425h0.9V2422.7h0.9V2421.1h0.9V2422.9h0.9V2422.5h0.9V2424.9h0.9V2417.4h0.9V2416.4h0.9V2417.8h0.9V2416.7h0.9V2412.9h0.9V2414.2h0.9V2411.2h0.9V2414.3h0.9V2411.3h0.9V2403.5h0.9V2397.8h0.9V2395.7h0.9V2389.2h0.9V2380.6h0.9V2375.7h0.9V2370.1h0.9V2363.9h0.9V2356.3h0.9V2348.9h0.9V2346.5h0.9V2337.9h0.9V2334h0.9V2337.9h0.9V2337.1h0.9V2334.9h0.9V2338.1h0.9V2341h0.9V2347.6h0.9V2352.8h0.9V2355.4h0.9V2360.5h0.9V2363h0.9V2369.2h0.9V2372.4h0.9V2376.9h0.9V2380.3h0.9V2387.6h0.9V2393.3h0.9V2399.9h0.9V2395.4h0.9V2396.2h0.9V2400.5h0.9V2400.2h0.9V2400.9h0.9V2402.5h0.9V2405.2h0.9V2405.5h0.9V2413.6h0.9V2407.1h0.9V2409h0.9V2410.4h0.9V2414.1h0.9V2415.1h0.9V2417h0.9V2419.6h0.9V2419.4h0.9V2419.2h0.9V2415.9h0.9V2420.7h0.9V2421.7h0.9V2423.1h0.9V2422.5h0.9V2424.3h0.9V2426.1h0.9V2430h0.9V2426.7h0.9V2431.7h0.9V2427.8h0.9V2433.2h0.9V2428.2h0.9V2430.4h0.9V2433.5h0.9V2434h0.9V2434.1h0.9V2435.2h0.9V2432.7h0.9V2432.5h0.9V2433.6h0.9V2437.4h0.9V2434.5h0.9V2440.2h0.9V2441.3h0.9V2441.5h0.9V2439.3h0.9V2441.5h0.9V2439.7h0.9V2439h0.9V2441.2h0.9V2442.9h0.9V2441.2h0.9V2443.4h0.9V2440.7h0.9V2444.5h0.9V2442h0.9V2445.5h0.9V2440.3h0.9V2443.5h0.9V2443.9h0.9V2446h0.9V2441.1h0.9V2442.7h0.9V2441.9h0.9V2444.3h0.9V2441.4h0.9V2444.1h0.9V2443.7h0.9V2442.3h0.9V2441.7h0.9V2441.2h0.9V2438.8h0.9V2443.8h0.9V2439.1h0.9V2442.8h0.9V2443.8h0.9V2446.4h0.9V2439.9h0.9V2442.5h0.9V2443.7h0.9V2442.7h0.9V2442.4h0.9V2443h0.9V2443.8h0.9V2443h0.9V2441.4h0.9V2441.8h0.9V2438.8h0.9V2440.3h0.9V2440.5h0.9V2439.8h0.9V2443.2h0.9V2440.6h0.9V2444.6h0.9V2441.6h0.9V2443.4h0.9V2440h0.9V2441.5h0.9V2442.9h0.9V2443h0.9V2440.2h0.9V2444.1h0.9V2440.7h0.9V2444h0.9V2437.7h0.9V2443h0.9V2441.7h0.9V2442.4h0.9V2443.5h0.9V2439.3h0.9V2443.8h0.9V2443.8h0.9V2441.3h0.9V2440.9h0.9V2439.7h0.9V2443.3h0.9V2444.4h0.9V2443.4h0.9V2442.4h0.9V2439.6h0.9V2443.2h0.9V2441.7h0.9V2437.3h0.9V2442h0.9V2442h0.9V2446.9h0.9V2447.3h0.9V2442.5h0.9V2445.9h0.9V2446.2h0.9V2443.5h0.9V2442h0.9V2443.6h0.9V2443.7h0.9V2445.8h0.9V2442h0.9V2443.2h0.9V2444.4h0.9V2443.8h0.9V2444.4h0.9V2446h0.9V2444.6h0.9V2452.4h0.9V2452.6h0.9V2460.5h0.9V2463.7h0.9V2458.3h0.9V2459.4h0.9V2452.5h0.9V2453.3h0.9V2452.4h0.9V2449.8h0.9V2447.2h0.9V2447.5h0.9V2446.5h0.9V2447.1h0.9V2447h0.9V2444.1h0.9V2444.9h0.9V2442.6h0.9V2441.7h0.9V2439.5h0.9V2438.8h0.9V2437.8h0.9V2437h0.9V2438.6h0.9V2435.2h0.9V2436.7h0.9V2433.9h0.9V2430.1h0.9V2435.2h0.9V2431.7h0.9V2430.4h0.9V2428.9h0.9V2429.4h0.9V2426.6h0.9V2427.2h0.9V2424.7h0.9V2423.6h0.9V2425.6h0.9V2422.5h0.9V2422.6h0.9V2423.5h0.9V2421h0.9V2418.6h0.9V2421.4h0.9V2418.9h0.9V2419h0.9V2418.8h0.9V2419.4h0.9V2417.4h0.9V2417.4h0.9V2413.5h0.9V2412.6h0.9V2414.4h0.9V2413.7h0.9V2415.6h0.9V2412.4h0.9V2410.4h0.9V2408.8h0.9V2408.1h0.9V2411.8h0.9V2405.6h0.9V2404.4h0.9V2402.8h0.9V2405h0.9V2404.8h0.9V2402.8h0.9V2407.1h0.9V2404.4h0.9V2405.3h0.9V2403.8h0.9V2406.7h0.9V2401.2h0.9V2402.9h0.9V2404.6h0.9V2403.6h0.9V2405.4h0.9V2403.9h0.9V2405.7h0.9V2405.3h0.9V2404.4h0.9V2406.7h0.9V2404h0.9V2403.8h0.9V2403.1h0.9V2404.2h0.9V2404.7h0.9V2405.5h0.9V2399.7h0.9V2404.6h0.9V2402.4h0.9V2399.9h0.9V2401.5h0.9V2401.7h0.9V2397.6h0.9V2396.6h0.9V2398.8h0.9V2397h0.9V2397.9h0.9V2396.6h0.9V2400.2h0.9V2392.6h0.9V2400.9h0.9V2397.8h0.9V2393.7h0.9V2392.5h0.9V2395.3h0.9V2395.3h0.9V2394.7h0.9V2395.2h0.9V2394.5h0.9V2396.9h0.9V2398.4h0.9V2400.1h0.9V2401.9h0.9V2398.9h0.9V2400.8h0.9V2397.9h0.9V2398.7h0.9V2396.3h0.9V2397.2h0.9V2399.9h0.9V2396.7h0.9V2398.1h0.9V2399.6h0.9V2396.1h0.9V2394.7h0.9V2397.1h0.9V2397.5h0.9V2396.7h0.9V2398.3h0.9V2394.8h0.9V2395.3h0.9V2395.9h0.9V2392.4h0.9V2395.5h0.9V2397.4h0.9V2397.1h0.9V2393.6h0.9V2392.4h0.9V2393.8h0.9V2393.9h0.9V2391.7h0.9V2394.8h0.9V2393h0.9V2394.5h0.9V2392.3h0.9V2391.8h0.9V2390h0.9V2391.7h0.9V2395.4h0.9V2393.6h0.9V2391.4h0.9V2390.5h0.9V2395.2h0.9V2393.2h0.9V2393.1h0.9V2391.3h0.9V2392.3h0.9V2389.5h0.9V2391.2h0.9V2392.2h0.9V2388.9h0.9V2389.3h0.9V2391.7h0.9V2391.9h0.9V2389.9h0.9V2390.9h0.9V2391.5h0.9V2390.2h0.9V2390.8h0.9V2386.4h0.9V2386.8h0.9V2392h0.9V2387.5h0.9V2390.9h0.9V2385.3h0.9V2390.7h0.9V2390.8h0.9V2391.1h0.9V2390.5h0.9V2388.7h0.9V2387.5h0.9V2387.9h0.9V2390.1h0.9V2387.6h0.9V2389.2h0.9V2386.9h0.9V2386.5h0.9V2386.1h0.9V2388.6h0.9V2390.6h0.9V2386.3h0.9V2387.9h0.9V2386.6h0.9V2387.6h0.9V2386.7h0.9V2382.1h0.9V2382.5h0.9V2382h0.9V2382.4h0.9V2377.8h0.9V2378.6h0.9V2379.7h0.9V2379.3h0.9V2383.6h0.9V2384.7h0.9V2384.4h0.9V2382.7h0.9V2389.1h0.9V2393.8h0.9V2412.6h0.9V2433.6h0.9V2451.4h0.9V2473h0.9V2488.3h0.9V2494.3h0.9"/>
</g>
<line x1="82.3" y1="2558.8" x2="934.7" y2="2558.8" stroke="#555" stroke-width="1.5" stroke-dasharray="4.6 17.16"/>
<line x1="613.9" y1="2588.3" x2="613.9" y2="2264" stroke="#0000ff" stroke-width="1.6" stroke-dasharray="31 31"/>
<text class="lb" x="622" y="2294.1" fill="#0000ff" font-size="22.5" word-spacing="7" textLength="51.2" lengthAdjust="spacing">Mg II</text>
<g stroke="#0000ff" stroke-width="1.6" fill="none"><circle cx="755.8" cy="2487.7" r="7.5"/><line x1="748.3" y1="2487.7" x2="763.3" y2="2487.7"/><line x1="755.8" y1="2480.2" x2="755.8" y2="2495.2"/></g>
<g stroke="#0000ff" stroke-width="1.6" fill="none"><circle cx="945.5" cy="2502.4" r="7.5"/><line x1="938" y1="2502.4" x2="953" y2="2502.4"/><line x1="945.5" y1="2494.9" x2="945.5" y2="2509.9"/></g>
<path d="M109 2588.3v-7M109 2264v7M161.5 2588.3v-7M161.5 2264v7M213.9 2588.3v-7M213.9 2264v7M266.4 2588.3v-13.3M266.4 2264v13.3M318.9 2588.3v-7M318.9 2264v7M371.3 2588.3v-7M371.3 2264v7M423.8 2588.3v-7M423.8 2264v7M476.2 2588.3v-7M476.2 2264v7M528.7 2588.3v-13.3M528.7 2264v13.3M581.2 2588.3v-7M581.2 2264v7M633.6 2588.3v-7M633.6 2264v7M686.1 2588.3v-7M686.1 2264v7M738.5 2588.3v-7M738.5 2264v7M791 2588.3v-13.3M791 2264v13.3M843.5 2588.3v-7M843.5 2264v7M895.9 2588.3v-7M895.9 2264v7M83 2558.8h13.3M948.7 2558.8h-13.3M83 2501.6h7M948.7 2501.6h-7M83 2444.3h13.3M948.7 2444.3h-13.3M83 2387.1h7M948.7 2387.1h-7M83 2329.8h13.3M948.7 2329.8h-13.3M83 2272.6h7M948.7 2272.6h-7" stroke="#000" stroke-width="1.8" fill="none"/>
<rect x="83" y="2264" width="865.7" height="324.3" stroke="#000" stroke-width="2" fill="none"/>
<text x="266.4" y="2621.6" font-size="27.6" text-anchor="middle" textLength="67.1" lengthAdjust="spacingAndGlyphs">5000</text>
<text x="528.7" y="2621.6" font-size="27.6" text-anchor="middle" textLength="67.1" lengthAdjust="spacingAndGlyphs">6000</text>
<text x="791" y="2621.6" font-size="27.6" text-anchor="middle" textLength="67.1" lengthAdjust="spacingAndGlyphs">7000</text>
<text transform="translate(64 2558.8) rotate(-90)" font-size="27.6" text-anchor="middle" textLength="16.4" lengthAdjust="spacingAndGlyphs">0</text>
<text transform="translate(64 2444.3) rotate(-90)" font-size="27.6" text-anchor="middle" textLength="50.2" lengthAdjust="spacingAndGlyphs">200</text>
<text transform="translate(64 2329.8) rotate(-90)" font-size="27.6" text-anchor="middle" textLength="50.2" lengthAdjust="spacingAndGlyphs">400</text>
<text transform="translate(23 2426.2) rotate(-90)" font-size="27.6" text-anchor="middle" word-spacing="8" textLength="241" lengthAdjust="spacing">Flux density (μJy)</text>
<text x="515.9" y="2234.8" font-size="22" word-spacing="4" text-anchor="middle" textLength="396" lengthAdjust="spacing">IVS 0158+096 GN z=1.259 ± 0.001</text>
<clipPath id="c11"><rect x="1093" y="2264" width="865.5" height="324.3"/></clipPath>
<g clip-path="url(#c11)" fill="none" stroke="#000" stroke-width="1.6" stroke-linejoin="round">
<path d="M1092.3 2531h1.3V2502.9h1.3V2495.1h1.3V2487.5h1.3V2477.9h1.3V2464.8h1.3V2455.6h1.3V2470.5h1.3V2482.8h1.3V2496h1.3V2510.9h1.3V2496h1.3V2480.9h1.3V2483.3h1.3V2485.7h1.3V2491.1h1.3V2486h1.3V2480h1.3V2491.6h1.3V2494.4h1.3V2489.2h1.3V2484h1.3V2479.7h1.3V2479.6h1.3V2484.7h1.3V2494.6h1.3V2499h1.3V2502.1h1.3V2501.5h1.3V2509.3h1.3V2515.7h1.3V2510.2h1.3V2503.3h1.3V2497.2h1.3V2490h1.3V2487.5h1.3V2486.5h1.3V2486.3h1.3V2487.5h1.3V2479.8h1.3V2479.6h1.3V2484.2h1.3V2483.7h1.3V2484.8h1.3V2485.1h1.3V2485.8h1.3V2481.6h1.3V2479.2h1.3V2485.6h1.3V2494.2h1.3V2495.5h1.3V2489h1.3V2487.5h1.3V2487.9h1.3V2484.9h1.3V2486.1h1.3V2482.9h1.3V2481.5h1.3V2484.9h1.3V2488.2h1.3V2489.4h1.3V2492.4h1.3V2497.3h1.3V2495.3h1.3V2503.5h1.3V2506.8h1.3V2503.8h1.3V2506.5h1.3V2511.1h1.3V2511.2h1.3V2512.9h1.3V2508.6h1.3V2492.9h1.3V2484.4h1.3V2479.1h1.3V2478.6h1.3V2483h1.3V2485.2h1.3V2482.7h1.3V2482.1h1.3V2484h1.3V2482.5h1.3V2481.3h1.3V2472.9h1.3V2466.7h1.3V2467.2h1.3V2468h1.3V2468.2h1.3V2461.1h1.3V2459.4h1.3V2458.6h1.3V2457.8h1.3V2460.2h1.3V2463h1.3V2469.5h1.3V2477.7h1.3V2479.7h1.3V2484.4h1.3V2491.1h1.3V2494.8h1.3V2501.2h1.3V2497.9h1.3V2496.2h1.3V2503.8h1.3V2508.6h1.3V2506.1h1.3V2500.8h1.3V2500.5h1.3V2509.5h1.3V2506.6h1.3V2500.8h1.3V2503.4h1.3V2504.2h1.3V2509.2h1.3V2505.3h1.3V2501.8h1.3V2500.5h1.3V2501h1.3V2502.3h1.3V2496.7h1.3V2489.3h1.3V2481.8h1.3V2487.6h1.3V2490.3h1.3V2491.2h1.3V2484.6h1.3V2484.5h1.3V2488h1.3V2479.9h1.3V2482.6h1.3V2486.4h1.3V2484.4h1.3V2487.2h1.3V2492h1.3V2491.6h1.3V2498.1h1.3V2495.5h1.3V2480.6h1.3V2482.1h1.3V2493h1.3V2498.1h1.3V2491.6h1.3V2482.3h1.3V2485.1h1.3V2492.1h1.3V2492h1.3V2494.4h1.3V2497.6h1.3V2494.8h1.3V2493.1h1.3V2493.7h1.3V2487.8h1.3V2496.9h1.3V2498.1h1.3V2486.9h1.3V2501.7h1.3V2505.8h1.3V2496.5h1.3V2490.6h1.3V2495.8h1.3V2491.6h1.3V2487.4h1.3V2498.6h1.3V2498.2h1.3V2497.4h1.3V2490.6h1.3V2486h1.3V2482.6h1.3V2487.4h1.3V2496.5h1.3V2492.4h1.3V2488.9h1.3V2489.7h1.3V2490.2h1.3V2485.8h1.3V2491.1h1.3V2498.7h1.3V2492.3h1.3V2487.8h1.3V2495.2h1.3V2496.9h1.3V2492.6h1.3V2500h1.3V2490.3h1.3V2481.2h1.3V2493.3h1.3V2497.5h1.3V2494.9h1.3V2492.4h1.3V2493.8h1.3V2491.2h1.3V2493.3h1.3V2493.3h1.3V2488.6h1.3V2492.7h1.3V2497.3h1.3V2493.2h1.3V2495.4h1.3V2492.4h1.3V2487.2h1.3V2490.7h1.3V2494.5h1.3V2498.5h1.3V2494.8h1.3V2497.7h1.3V2488.8h1.3V2478.8h1.3V2490h1.3V2489.4h1.3V2480.6h1.3V2479.2h1.3V2475.5h1.3V2467.5h1.3V2468.3h1.3V2469.7h1.3V2466.8h1.3V2463.1h1.3V2457.6h1.3V2467h1.3V2473.7h1.3V2473.5h1.3V2478.3h1.3V2485.9h1.3V2482.7h1.3V2470.2h1.3V2472.5h1.3V2468h1.3V2470.5h1.3V2475.6h1.3V2468.9h1.3V2472.5h1.3V2467.4h1.3V2459.1h1.3V2462.7h1.3V2472.7h1.3V2467.5h1.3V2461.8h1.3V2473.5h1.3V2475.6h1.3V2463.7h1.3V2464.9h1.3V2469.3h1.3V2468.4h1.3V2469h1.3V2463.8h1.3V2459.3h1.3V2464h1.3V2460.7h1.3V2463.4h1.3V2478.5h1.3V2472.9h1.3V2460.6h1.3V2463.1h1.3V2465.3h1.3V2464h1.3V2464.6h1.3V2464.4h1.3V2471.5h1.3V2460.4h1.3V2448.8h1.3V2463.1h1.3V2463.4h1.3V2459.6h1.3V2462.3h1.3V2463.4h1.3V2470.8h1.3V2477.2h1.3V2470.2h1.3V2466.2h1.3V2470.3h1.3V2471h1.3V2472.2h1.3V2470.2h1.3V2469.6h1.3V2466.1h1.3V2469.5h1.3V2471.4h1.3V2476.2h1.3V2474.6h1.3V2463.9h1.3V2466.1h1.3V2466.4h1.3V2465.7h1.3V2464.7h1.3V2469.4h1.3V2478.4h1.3V2469.7h1.3V2466.3h1.3V2472.2h1.3V2467.5h1.3V2460.3h1.3V2458h1.3V2458.9h1.3V2459.1h1.3V2462.7h1.3V2463.3h1.3V2457.6h1.3V2454.2h1.3V2462.7h1.3V2458.6h1.3V2456.2h1.3V2468.2h1.3V2468.1h1.3V2454.7h1.3V2453.3h1.3V2462.1h1.3V2467.9h1.3V2465.8h1.3V2462h1.3V2466.3h1.3V2457.7h1.3V2462.1h1.3V2467.8h1.3V2441h1.3V2453.4h1.3V2453.6h1.3V2458h1.3V2460.5h1.3V2463.5h1.3V2460.9h1.3V2460.8h1.3V2458.7h1.3V2454.2h1.3V2438h1.3V2450.8h1.3V2455.4h1.3V2465.8h1.3V2460.1h1.3V2451.9h1.3V2465.2h1.3V2464.6h1.3V2457.9h1.3V2458.6h1.3V2463.8h1.3V2462.9h1.3V2459.3h1.3V2460h1.3V2459h1.3V2449.9h1.3V2446.9h1.3V2447.3h1.3V2451.3h1.3V2462.2h1.3V2462.7h1.3V2458.7h1.3V2455.1h1.3V2453.3h1.3V2458.4h1.3V2458.5h1.3V2454h1.3V2450.8h1.3V2450.7h1.3V2450.8h1.3V2438.3h1.3V2437.6h1.3V2447.6h1.3V2450.5h1.3V2455h1.3V2452.7h1.3V2450.1h1.3V2453.9h1.3V2455.6h1.3V2459.6h1.3V2450.7h1.3V2436.2h1.3V2418.5h1.3V2408.5h1.3V2403.6h1.3V2399.8h1.3V2395.7h1.3V2383.9h1.3V2366.7h1.3V2354.4h1.3V2343.9h1.3V2348.9h1.3V2354h1.3V2361.4h1.3V2373.3h1.3V2388.8h1.3V2402.6h1.3V2418.7h1.3V2430.2h1.3V2430.4h1.3V2436.2h1.3V2445h1.3V2451.2h1.3V2451.2h1.3V2454.8h1.3V2458.8h1.3V2458.7h1.3V2464.2h1.3V2459.9h1.3V2460.2h1.3V2467.3h1.3V2464.4h1.3V2468.5h1.3V2462.3h1.3V2455.9h1.3V2455.9h1.3V2457.9h1.3V2470.3h1.3V2471.5h1.3V2462.3h1.3V2461.7h1.3V2478h1.3V2479.8h1.3V2463.5h1.3V2444.2h1.3V2437h1.3V2441.4h1.3V2459.6h1.3V2466.2h1.3V2453.6h1.3V2458.2h1.3V2461h1.3V2461.7h1.3V2463.2h1.3V2469.5h1.3V2463.5h1.3V2459.5h1.3V2467.9h1.3V2466.3h1.3V2457.7h1.3V2448.8h1.3V2448.1h1.3V2445.3h1.3V2441.3h1.3V2451.9h1.3V2462.8h1.3V2449.9h1.3V2449.3h1.3V2469.6h1.3V2469.8h1.3V2465.8h1.3V2465.3h1.3V2458.1h1.3V2457.8h1.3V2463.2h1.3V2470.5h1.3V2472.4h1.3V2465.8h1.3V2459.8h1.3V2464.1h1.3V2447.9h1.3V2452.7h1.3V2467.8h1.3V2441.3h1.3V2446.1h1.3V2445.3h1.3V2428.9h1.3V2461.7h1.3V2467.6h1.3V2444.1h1.3V2467.1h1.3V2476.6h1.3V2478.6h1.3V2490.8h1.3V2480.5h1.3V2485.9h1.3V2494.2h1.3V2483h1.3V2470.4h1.3V2480.1h1.3V2485.2h1.3V2474h1.3V2455.8h1.3V2454.7h1.3V2464.6h1.3V2453.6h1.3V2438h1.3V2465.4h1.3V2486h1.3V2458.2h1.3V2447h1.3V2440h1.3V2452.5h1.3V2493h1.3V2466.5h1.3V2430.3h1.3V2445.7h1.3V2422.9h1.3V2444.9h1.3V2457.2h1.3V2439.7h1.3V2451.4h1.3V2459.1h1.3V2484.6h1.3V2487.8h1.3V2435.4h1.3V2451.6h1.3V2486.4h1.3V2472.2h1.3V2458.1h1.3V2456h1.3V2457.5h1.3V2433.1h1.3V2449.7h1.3V2487.6h1.3V2484.8h1.3V2442.4h1.3V2404h1.3V2429h1.3V2429.6h1.3V2420h1.3V2454.1h1.3V2478h1.3V2485.9h1.3V2474.5h1.3V2486.3h1.3V2465.1h1.3V2453.6h1.3V2479.4h1.3V2445.7h1.3V2423.2h1.3V2470.7h1.3V2491.4h1.3V2480.7h1.3V2457.1h1.3V2426.4h1.3V2443.4h1.3V2467.9h1.3V2433.4h1.3V2399.2h1.3V2415.4h1.3V2446.5h1.3V2433.6h1.3V2437h1.3V2445.1h1.3V2443.5h1.3V2483.3h1.3V2495.1h1.3V2497.6h1.3V2482.6h1.3V2456.7h1.3V2433.6h1.3V2473.4h1.3V2487.3h1.3V2484.3h1.3V2492.7h1.3V2495.8h1.3V2512.1h1.3V2516.5h1.3V2503.1h1.3V2491.5h1.3V2475.6h1.3V2457.7h1.3V2447.3h1.3V2429.4h1.3V2398h1.3V2429.9h1.3V2422h1.3V2430.1h1.3V2446.5h1.3V2426.4h1.3V2408.6h1.3V2432.6h1.3V2418.7h1.3V2422.1h1.3V2465.9h1.3V2474.9h1.3V2429.9h1.3V2424.9h1.3V2452.6h1.3V2454.7h1.3V2466.5h1.3V2471.4h1.3V2469.6h1.3V2448.8h1.3V2436.2h1.3V2448.1h1.3V2471.8h1.3V2464.2h1.3V2472.5h1.3V2481.2h1.3V2468.2h1.3V2482.3h1.3V2463.6h1.3V2453.8h1.3V2470.8h1.3V2468.6h1.3V2461.5h1.3V2426.8h1.3V2417.9h1.3V2465.6h1.3V2449.3h1.3V2396.2h1.3V2418.5h1.3V2417.6h1.3V2361h1.3V2477.3h1.3V2483.1h1.3V2475.3h1.3V2447.8h1.3V2414.5h1.3V2413.2h1.3V2414.9h1.3V2406.7h1.3V2421.4h1.3V2445.2h1.3V2418.3h1.3V2412.9h1.3V2425.2h1.3V2461.2h1.3V2499.7h1.3V2482.9h1.3V2445.8h1.3V2443.3h1.3V2440.3h1.3V2447.5h1.3V2449.9h1.3V2449.6h1.3V2426h1.3V2392.8h1.3V2427h1.3V2472.2h1.3V2477.6h1.3V2470.4h1.3V2455.5h1.3V2419.2h1.3V2450.2h1.3V2483.1h1.3V2422.9h1.3V2424h1.3V2449.2h1.3V2446h1.3V2446.6h1.3V2360h1.3V2397h1.3V2444.8h1.3V2431.1h1.3V2447h1.3V2419.7h1.3V2374.7h1.3V2422.8h1.3V2463.5h1.3V2484.1h1.3V2522.3h1.3V2489.2h1.3V2442.3h1.3V2430.4h1.3V2426.3h1.3V2438.5h1.3V2435.9h1.3V2470.3h1.3V2437.2h1.3V2375.7h1.3V2377h1.3V2381.7h1.3V2413.6h1.3V2429.4h1.3V2432.6h1.3V2466.3h1.3V2476.2h1.3V2554h1.3V2377.5h1.3V2359h1.3V2434h1.3V2444.2h1.3V2423.3h1.3V2332h1.3V2386.2h1.3V2415.2h1.3V2449.7h1.3V2464.7h1.3V2413.4h1.3V2412.2h1.3V2394.7h1.3"/>
</g>
<line x1="1092.3" y1="2558.8" x2="1944.5" y2="2558.8" stroke="#555" stroke-width="1.5" stroke-dasharray="4.6 17.16"/>
<line x1="1209.9" y1="2588.3" x2="1209.9" y2="2264" stroke="#0000ff" stroke-width="1.6" stroke-dasharray="31 31"/>
<line x1="1575.9" y1="2588.3" x2="1575.9" y2="2264" stroke="#0000ff" stroke-width="1.6" stroke-dasharray="31 31"/>
<text class="lb" x="1215.3" y="2294.1" fill="#0000ff" font-size="22.5" word-spacing="7" textLength="51.2" lengthAdjust="spacing">C III]</text>
<text class="lb" x="1581.9" y="2294.1" fill="#0000ff" font-size="22.5" word-spacing="7" textLength="51.2" lengthAdjust="spacing">Mg II</text>
<g stroke="#0000ff" stroke-width="1.6" fill="none"><circle cx="1663.8" cy="2514.9" r="7.5"/><line x1="1656.3" y1="2514.9" x2="1671.3" y2="2514.9"/><line x1="1663.8" y1="2507.4" x2="1663.8" y2="2522.4"/></g>
<g stroke="#0000ff" stroke-width="1.6" fill="none"><circle cx="1794.9" cy="2549" r="7.5"/><line x1="1787.4" y1="2549" x2="1802.4" y2="2549"/><line x1="1794.9" y1="2541.5" x2="1794.9" y2="2556.5"/></g>
<path d="M1110.6 2588.3v-7M1110.6 2264v7M1146.7 2588.3v-13.3M1146.7 2264v13.3M1182.8 2588.3v-7M1182.8 2264v7M1218.8 2588.3v-7M1218.8 2264v7M1254.9 2588.3v-7M1254.9 2264v7M1291 2588.3v-7M1291 2264v7M1327 2588.3v-13.3M1327 2264v13.3M1363.1 2588.3v-7M1363.1 2264v7M1399.2 2588.3v-7M1399.2 2264v7M1435.3 2588.3v-7M1435.3 2264v7M1471.3 2588.3v-7M1471.3 2264v7M1507.4 2588.3v-13.3M1507.4 2264v13.3M1543.5 2588.3v-7M1543.5 2264v7M1579.5 2588.3v-7M1579.5 2264v7M1615.6 2588.3v-7M1615.6 2264v7M1651.7 2588.3v-7M1651.7 2264v7M1687.8 2588.3v-13.3M1687.8 2264v13.3M1723.8 2588.3v-7M1723.8 2264v7M1759.9 2588.3v-7M1759.9 2264v7M1796 2588.3v-7M1796 2264v7M1832 2588.3v-7M1832 2264v7M1868.1 2588.3v-13.3M1868.1 2264v13.3M1904.2 2588.3v-7M1904.2 2264v7M1940.2 2588.3v-7M1940.2 2264v7M1093 2558.8h13.3M1958.5 2558.8h-13.3M1093 2525.1h7M1958.5 2525.1h-7M1093 2491.4h13.3M1958.5 2491.4h-13.3M1093 2457.7h7M1958.5 2457.7h-7M1093 2424.1h13.3M1958.5 2424.1h-13.3M1093 2390.4h7M1958.5 2390.4h-7M1093 2356.7h13.3M1958.5 2356.7h-13.3M1093 2323h7M1958.5 2323h-7M1093 2289.3h13.3M1958.5 2289.3h-13.3" stroke="#000" stroke-width="1.8" fill="none"/>
<rect x="1093" y="2264" width="865.5" height="324.3" stroke="#000" stroke-width="2" fill="none"/>
<text x="1146.7" y="2621.6" font-size="27.6" text-anchor="middle" textLength="67.1" lengthAdjust="spacingAndGlyphs">4000</text>
<text x="1327" y="2621.6" font-size="27.6" text-anchor="middle" textLength="67.1" lengthAdjust="spacingAndGlyphs">5000</text>
<text x="1507.4" y="2621.6" font-size="27.6" text-anchor="middle" textLength="67.1" lengthAdjust="spacingAndGlyphs">6000</text>
<text x="1687.8" y="2621.6" font-size="27.6" text-anchor="middle" textLength="67.1" lengthAdjust="spacingAndGlyphs">7000</text>
<text x="1868.1" y="2621.6" font-size="27.6" text-anchor="middle" textLength="67.1" lengthAdjust="spacingAndGlyphs">8000</text>
<text transform="translate(1074 2558.8) rotate(-90)" font-size="27.6" text-anchor="middle" textLength="16.4" lengthAdjust="spacingAndGlyphs">0</text>
<text transform="translate(1074 2491.4) rotate(-90)" font-size="27.6" text-anchor="middle" textLength="33.3" lengthAdjust="spacingAndGlyphs">20</text>
<text transform="translate(1074 2424.1) rotate(-90)" font-size="27.6" text-anchor="middle" textLength="33.3" lengthAdjust="spacingAndGlyphs">40</text>
<text transform="translate(1074 2356.7) rotate(-90)" font-size="27.6" text-anchor="middle" textLength="33.3" lengthAdjust="spacingAndGlyphs">60</text>
<text transform="translate(1074 2289.3) rotate(-90)" font-size="27.6" text-anchor="middle" textLength="33.3" lengthAdjust="spacingAndGlyphs">80</text>
<text transform="translate(1033 2426.2) rotate(-90)" font-size="27.6" text-anchor="middle" word-spacing="8" textLength="241" lengthAdjust="spacing">Flux density (μJy)</text>
<text x="1525.8" y="2234.8" font-size="22" word-spacing="4" text-anchor="middle" textLength="404" lengthAdjust="spacing">IVS 0159−668 NTT z=1.279 ± 0.005</text>
<text x="515.9" y="2677.3" font-size="27.6" text-anchor="middle" word-spacing="8" textLength="199" lengthAdjust="spacing">Wavelength (Å)</text>
<text x="1525.8" y="2677.3" font-size="27.6" text-anchor="middle" word-spacing="8" textLength="199" lengthAdjust="spacing">Wavelength (Å)</text>
</svg>
</body></html>
